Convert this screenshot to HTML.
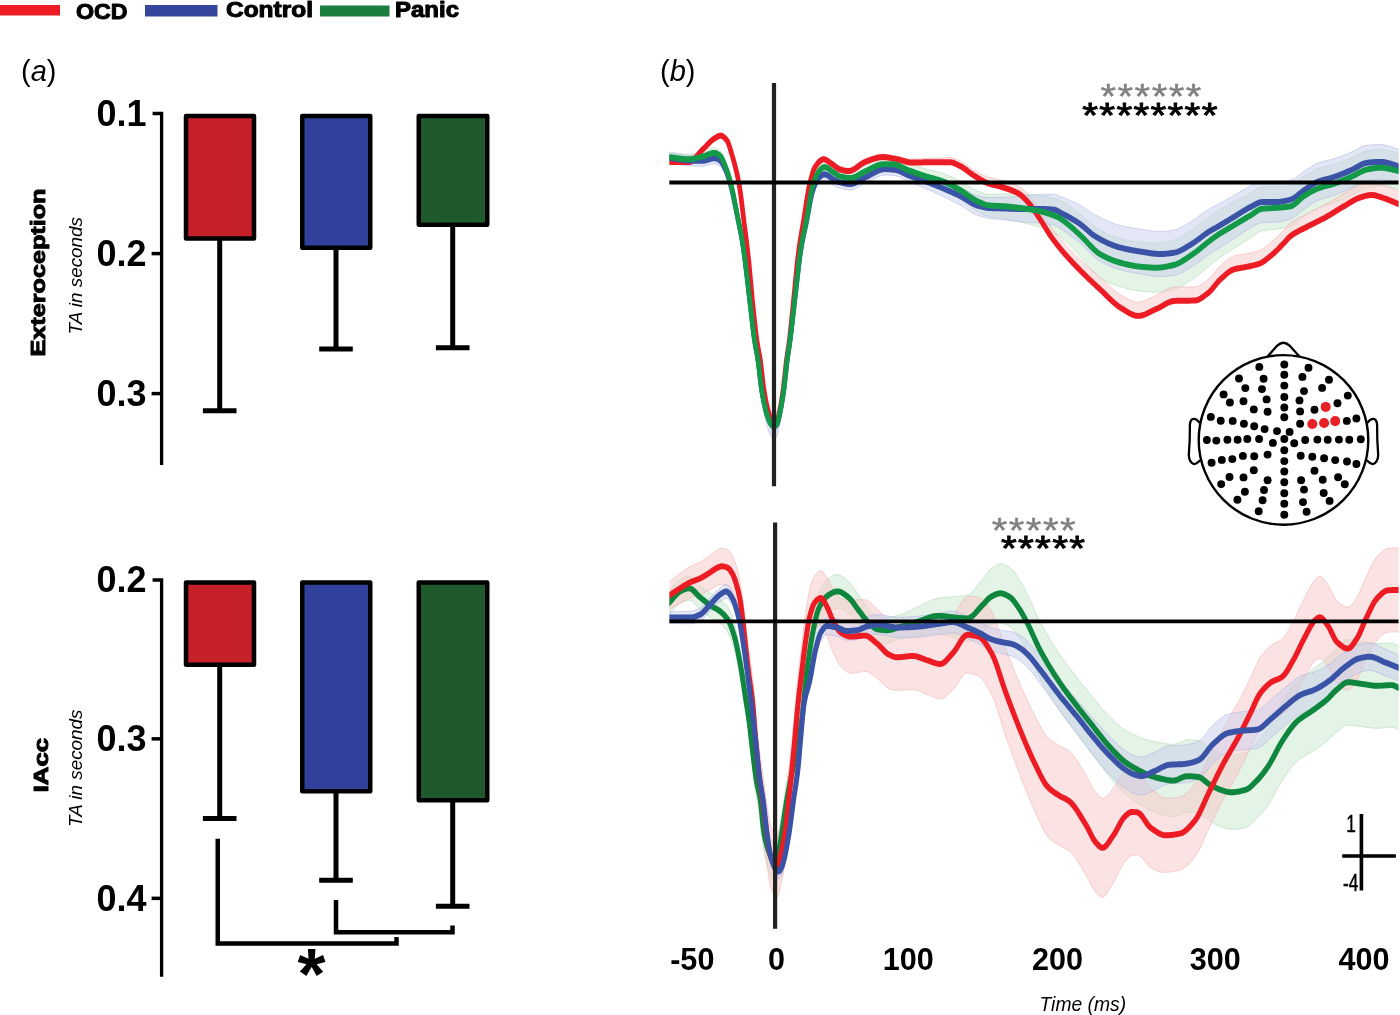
<!DOCTYPE html>
<html lang="en"><head><meta charset="utf-8"><title>Figure</title>
<style>
html,body{margin:0;padding:0;background:#fff;}
body{width:1400px;height:1015px;overflow:hidden;}
svg{display:block;}
text{font-family:"Liberation Sans",Arial,Helvetica,sans-serif;fill:#000;}
.hv{font-weight:700;stroke:#000;stroke-width:1.0px;stroke-linejoin:round;paint-order:stroke;}
.b{font-weight:700;}
.i{font-style:italic;}
</style></head><body>
<svg width="1400" height="1015" viewBox="0 0 1400 1015">
<rect width="1400" height="1015" fill="#fff"/>
<defs><clipPath id="cp"><rect x="669.4" y="0" width="729.2" height="1015"/></clipPath></defs>

<g id="legend">
<rect x="0" y="5" width="60" height="10.5" fill="#ed1c24"/>
<rect x="145" y="5" width="72.5" height="11.5" fill="#35469c"/>
<rect x="320" y="5.5" width="69.5" height="11" fill="#1a7f3e"/>
<text class="hv" x="76" y="19.2" font-size="22.8" textLength="51.5" lengthAdjust="spacingAndGlyphs">OCD</text>
<text class="hv" x="226" y="17.2" font-size="21.8" textLength="87" lengthAdjust="spacingAndGlyphs">Control</text>
<text class="hv" x="395" y="17.2" font-size="21.8" textLength="64" lengthAdjust="spacingAndGlyphs">Panic</text>
</g>
<text x="21" y="80.7" font-size="29">(<tspan class="i">a</tspan>)</text>
<text x="660" y="80.7" font-size="29">(<tspan class="i">b</tspan>)</text>
<g id="barTop">
<path d="M152.6,113.5 H161.6 V465" fill="none" stroke="#000" stroke-width="3.3"/>
<path d="M151.6,253.6 H161.6" stroke="#000" stroke-width="3.5"/>
<path d="M151.6,393.6 H161.6" stroke="#000" stroke-width="3.5"/>
<text class="b" x="146.6" y="125.9" font-size="37.5" text-anchor="end" textLength="50" lengthAdjust="spacingAndGlyphs">0.1</text>
<text class="b" x="146.6" y="265.9" font-size="37.5" text-anchor="end" textLength="50" lengthAdjust="spacingAndGlyphs">0.2</text>
<text class="b" x="146.6" y="405.9" font-size="37.5" text-anchor="end" textLength="50" lengthAdjust="spacingAndGlyphs">0.3</text>
<path d="M219.7,238.75 V410.75 M202.89999999999998,410.75 H236.5" stroke="#000" stroke-width="5" fill="none"/>
<rect x="186.0" y="115.95" width="68.0" height="122.55" fill="#c62028" stroke="#000" stroke-width="4.5" stroke-linejoin="round"/>
<path d="M336,248 V349 M319.2,349 H352.8" stroke="#000" stroke-width="5" fill="none"/>
<rect x="302.25" y="115.95" width="68.0" height="131.8" fill="#31409b" stroke="#000" stroke-width="4.5" stroke-linejoin="round"/>
<path d="M452.7,225 V347.75 M435.9,347.75 H469.5" stroke="#000" stroke-width="5" fill="none"/>
<rect x="418.75" y="115.95" width="68.5" height="108.8" fill="#1e5a2e" stroke="#000" stroke-width="4.5" stroke-linejoin="round"/>
</g>
<g id="barBot">
<path d="M152.6,580 H161.6 V976.75" fill="none" stroke="#000" stroke-width="3.3"/>
<path d="M151.6,738.85 H161.6" stroke="#000" stroke-width="3.5"/>
<path d="M151.6,898.35 H161.6" stroke="#000" stroke-width="3.5"/>
<text class="b" x="146.6" y="592.4" font-size="37.5" text-anchor="end" textLength="50" lengthAdjust="spacingAndGlyphs">0.2</text>
<text class="b" x="146.6" y="751.15" font-size="37.5" text-anchor="end" textLength="50" lengthAdjust="spacingAndGlyphs">0.3</text>
<text class="b" x="146.6" y="910.65" font-size="37.5" text-anchor="end" textLength="50" lengthAdjust="spacingAndGlyphs">0.4</text>
<path d="M219.7,665 V818.5 M202.89999999999998,818.5 H236.5" stroke="#000" stroke-width="5" fill="none"/>
<rect x="186.0" y="582.45" width="68.0" height="82.29999999999995" fill="#c62028" stroke="#000" stroke-width="4.5" stroke-linejoin="round"/>
<path d="M336,791.5 V880.25 M319.2,880.25 H352.8" stroke="#000" stroke-width="5" fill="none"/>
<rect x="302.25" y="582.45" width="68.0" height="208.79999999999995" fill="#31409b" stroke="#000" stroke-width="4.5" stroke-linejoin="round"/>
<path d="M452.7,800.5 V906.25 M435.9,906.25 H469.5" stroke="#000" stroke-width="5" fill="none"/>
<rect x="418.75" y="582.45" width="68.5" height="217.79999999999995" fill="#1e5a2e" stroke="#000" stroke-width="4.5" stroke-linejoin="round"/>
<path d="M217.75,838.75 V943.5 H396.5 V937" fill="none" stroke="#000" stroke-width="4.5"/>
<path d="M336,900 V932.25 H452.5 V925.5" fill="none" stroke="#000" stroke-width="4.5"/>
<text class="b" x="311.5" y="999" font-size="72" text-anchor="middle">*</text>
</g>
<text class="hv" transform="translate(45,356.5) rotate(-90)" font-size="20.5" textLength="168" lengthAdjust="spacingAndGlyphs">Exteroception</text>
<text class="i" transform="translate(81.5,334.5) rotate(-90)" font-size="18" textLength="117.5" lengthAdjust="spacingAndGlyphs">TA in seconds</text>
<text class="hv" transform="translate(47.5,792.3) rotate(-90)" font-size="20.5" textLength="54.5" lengthAdjust="spacingAndGlyphs">IAcc</text>
<text class="i" transform="translate(81.5,827) rotate(-90)" font-size="18" textLength="117.5" lengthAdjust="spacingAndGlyphs">TA in seconds</text>
<g id="erpTop">
<g clip-path="url(#cp)">
<path d="M665.5,151.6 667.5,151.9 669.5,152.1 671.5,152.3 673.5,152.6 675.5,152.9 677.5,153.2 679.5,153.5 681.5,153.8 683.5,154.0 685.5,154.1 687.5,154.2 689.5,154.2 691.5,154.0 693.5,153.7 695.5,153.2 697.5,152.7 699.5,152.2 701.5,151.6 703.5,151.1 705.5,150.4 707.5,149.6 709.5,148.8 711.5,148.1 713.5,147.7 715.5,147.9 717.5,148.7 719.5,150.1 721.5,152.3 723.5,156.4 725.5,161.4 727.5,166.8 729.5,173.3 731.5,180.8 733.5,190.0 735.5,200.6 737.5,211.0 739.5,220.8 741.5,231.2 743.5,243.6 745.5,258.9 747.5,275.7 749.5,292.8 751.5,309.9 753.5,327.2 755.5,340.7 757.5,351.5 759.5,366.7 761.5,383.5 763.5,394.8 765.5,403.8 767.5,410.7 769.5,416.0 771.5,419.1 773.5,420.8 775.5,420.2 777.5,417.5 779.5,409.3 781.5,399.2 783.5,386.7 785.5,369.6 787.5,352.2 789.5,338.8 791.5,323.1 793.5,305.4 795.5,287.9 797.5,269.7 799.5,252.5 801.5,238.8 803.5,228.4 805.5,219.0 807.5,208.5 809.5,196.3 811.5,185.2 813.5,177.7 815.5,171.8 817.5,167.7 819.5,165.1 821.5,162.9 823.5,161.6 825.5,161.5 827.5,162.3 829.5,163.7 831.5,165.2 833.5,166.7 835.5,168.0 837.5,169.3 839.5,170.4 841.5,171.0 843.5,171.4 845.5,171.8 847.5,172.1 849.5,172.2 851.5,172.1 853.5,171.7 855.5,170.9 857.5,169.8 859.5,168.7 861.5,167.5 863.5,166.3 865.5,165.3 867.5,164.4 869.5,163.4 871.5,162.4 873.5,161.3 875.5,160.3 877.5,159.5 879.5,158.9 881.5,158.5 883.5,158.4 885.5,158.4 887.5,158.4 889.5,158.3 891.5,158.3 893.5,158.3 895.5,158.6 897.5,159.2 899.5,160.0 901.5,160.8 903.5,161.8 905.5,162.7 907.5,163.5 909.5,164.2 911.5,164.8 913.5,165.4 915.5,166.0 917.5,166.6 919.5,167.2 921.5,167.8 923.5,168.4 925.5,169.0 927.5,169.5 929.5,170.0 931.5,170.4 933.5,170.8 935.5,171.3 937.5,171.8 939.5,172.3 941.5,172.8 943.5,173.5 945.5,174.2 947.5,175.0 949.5,175.8 951.5,176.7 953.5,177.7 955.5,178.7 957.5,179.7 959.5,180.7 961.5,181.8 963.5,182.9 965.5,184.2 967.5,185.5 969.5,186.8 971.5,188.0 973.5,189.1 975.5,190.1 977.5,191.0 979.5,191.7 981.5,192.5 983.5,193.2 985.5,193.7 987.5,194.1 989.5,194.2 991.5,194.2 993.5,194.2 995.5,194.2 997.5,194.1 999.5,194.1 1001.5,194.0 1003.5,193.9 1005.5,193.8 1007.5,193.8 1009.5,193.8 1011.5,193.8 1013.5,193.8 1015.5,193.9 1017.5,193.9 1019.5,194.0 1021.5,194.0 1023.5,194.1 1025.5,194.2 1027.5,194.2 1029.5,194.3 1031.5,194.4 1033.5,194.6 1035.5,194.7 1037.5,194.9 1039.5,195.2 1041.5,195.5 1043.5,195.8 1045.5,196.2 1047.5,196.6 1049.5,197.0 1051.5,197.5 1053.5,198.0 1055.5,198.6 1057.5,199.3 1059.5,200.2 1061.5,201.1 1063.5,202.2 1065.5,203.5 1067.5,204.8 1069.5,206.1 1071.5,207.5 1073.5,209.0 1075.5,210.5 1077.5,212.1 1079.5,213.6 1081.5,215.2 1083.5,216.9 1085.5,218.7 1087.5,220.5 1089.5,222.4 1091.5,224.2 1093.5,225.9 1095.5,227.4 1097.5,228.7 1099.5,229.8 1101.5,230.9 1103.5,232.0 1105.5,233.0 1107.5,233.9 1109.5,234.8 1111.5,235.6 1113.5,236.4 1115.5,237.1 1117.5,237.7 1119.5,238.3 1121.5,238.8 1123.5,239.3 1125.5,239.8 1127.5,240.2 1129.5,240.7 1131.5,241.1 1133.5,241.4 1135.5,241.7 1137.5,242.0 1139.5,242.2 1141.5,242.4 1143.5,242.5 1145.5,242.7 1147.5,242.8 1149.5,243.0 1151.5,243.1 1153.5,243.1 1155.5,243.1 1157.5,243.1 1159.5,243.0 1161.5,242.8 1163.5,242.5 1165.5,242.1 1167.5,241.7 1169.5,241.3 1171.5,240.8 1173.5,240.2 1175.5,239.7 1177.5,238.9 1179.5,237.9 1181.5,236.8 1183.5,235.6 1185.5,234.2 1187.5,232.9 1189.5,231.5 1191.5,230.2 1193.5,228.7 1195.5,227.2 1197.5,225.7 1199.5,224.1 1201.5,222.5 1203.5,221.0 1205.5,219.4 1207.5,217.9 1209.5,216.5 1211.5,215.0 1213.5,213.6 1215.5,212.3 1217.5,211.0 1219.5,209.8 1221.5,208.7 1223.5,207.6 1225.5,206.5 1227.5,205.4 1229.5,204.3 1231.5,203.3 1233.5,202.2 1235.5,201.1 1237.5,200.0 1239.5,198.9 1241.5,197.8 1243.5,196.7 1245.5,195.6 1247.5,194.5 1249.5,193.4 1251.5,192.3 1253.5,191.0 1255.5,189.7 1257.5,188.5 1259.5,187.5 1261.5,187.0 1263.5,186.8 1265.5,186.7 1267.5,186.7 1269.5,186.7 1271.5,186.7 1273.5,186.7 1275.5,186.7 1277.5,186.6 1279.5,186.6 1281.5,186.5 1283.5,186.4 1285.5,186.3 1287.5,186.2 1289.5,186.0 1291.5,185.6 1293.5,184.7 1295.5,183.3 1297.5,181.6 1299.5,179.8 1301.5,178.1 1303.5,176.5 1305.5,175.3 1307.5,174.1 1309.5,172.9 1311.5,171.8 1313.5,170.7 1315.5,169.8 1317.5,169.0 1319.5,168.3 1321.5,167.7 1323.5,167.1 1325.5,166.6 1327.5,166.2 1329.5,165.7 1331.5,165.1 1333.5,164.5 1335.5,163.9 1337.5,163.2 1339.5,162.5 1341.5,161.7 1343.5,161.0 1345.5,160.2 1347.5,159.4 1349.5,158.6 1351.5,157.7 1353.5,156.8 1355.5,155.8 1357.5,154.8 1359.5,153.7 1361.5,152.8 1363.5,151.9 1365.5,151.2 1367.5,150.8 1369.5,150.4 1371.5,150.1 1373.5,149.8 1375.5,149.6 1377.5,149.4 1379.5,149.3 1381.5,149.4 1383.5,149.5 1385.5,149.8 1387.5,150.2 1389.5,150.7 1391.5,151.3 1393.5,151.8 1395.5,152.4 1397.5,152.9 1399.5,153.3 1401.5,153.7 1402.5,153.9 1402.5,189.9 1401.5,189.7 1399.5,189.3 1397.5,188.9 1395.5,188.5 1393.5,188.0 1391.5,187.6 1389.5,187.1 1387.5,186.7 1385.5,186.4 1383.5,186.2 1381.5,186.1 1379.5,186.1 1377.5,186.3 1375.5,186.5 1373.5,186.8 1371.5,187.2 1369.5,187.6 1367.5,188.0 1365.5,188.6 1363.5,189.4 1361.5,190.3 1359.5,191.3 1357.5,192.4 1355.5,193.6 1353.5,194.7 1351.5,195.7 1349.5,196.6 1347.5,197.4 1345.5,198.3 1343.5,199.2 1341.5,200.0 1339.5,200.9 1337.5,201.7 1335.5,202.5 1333.5,203.2 1331.5,203.9 1329.5,204.5 1327.5,205.0 1325.5,205.6 1323.5,206.2 1321.5,206.8 1319.5,207.5 1317.5,208.3 1315.5,209.2 1313.5,210.2 1311.5,211.3 1309.5,212.5 1307.5,213.8 1305.5,215.1 1303.5,216.4 1301.5,218.0 1299.5,219.9 1297.5,221.9 1295.5,223.7 1293.5,225.3 1291.5,226.4 1289.5,227.0 1287.5,227.4 1285.5,227.8 1283.5,228.1 1281.5,228.4 1279.5,228.6 1277.5,228.9 1275.5,229.1 1273.5,229.4 1271.5,229.6 1269.5,229.8 1267.5,230.0 1265.5,230.2 1263.5,230.5 1261.5,230.8 1259.5,231.6 1257.5,232.7 1255.5,234.2 1253.5,235.7 1251.5,237.2 1249.5,238.5 1247.5,239.8 1245.5,241.0 1243.5,242.3 1241.5,243.6 1239.5,244.9 1237.5,246.2 1235.5,247.5 1233.5,248.8 1231.5,250.1 1229.5,251.4 1227.5,252.6 1225.5,253.9 1223.5,255.2 1221.5,256.5 1219.5,257.9 1217.5,259.3 1215.5,260.7 1213.5,262.3 1211.5,263.9 1209.5,265.5 1207.5,267.2 1205.5,268.9 1203.5,270.6 1201.5,272.4 1199.5,274.1 1197.5,275.6 1195.5,277.2 1193.5,278.6 1191.5,280.0 1189.5,281.3 1187.5,282.6 1185.5,283.9 1183.5,285.2 1181.5,286.4 1179.5,287.5 1177.5,288.5 1175.5,289.2 1173.5,289.7 1171.5,290.2 1169.5,290.7 1167.5,291.1 1165.5,291.5 1163.5,291.8 1161.5,292.0 1159.5,292.2 1157.5,292.3 1155.5,292.2 1153.5,292.2 1151.5,292.1 1149.5,292.0 1147.5,291.8 1145.5,291.6 1143.5,291.4 1141.5,291.2 1139.5,291.0 1137.5,290.7 1135.5,290.4 1133.5,290.1 1131.5,289.7 1129.5,289.3 1127.5,288.8 1125.5,288.3 1123.5,287.8 1121.5,287.2 1119.5,286.7 1117.5,286.1 1115.5,285.4 1113.5,284.7 1111.5,283.9 1109.5,283.0 1107.5,282.1 1105.5,281.1 1103.5,280.1 1101.5,279.0 1099.5,277.7 1097.5,276.0 1095.5,274.0 1093.5,271.9 1091.5,269.6 1089.5,267.2 1087.5,264.8 1085.5,262.4 1083.5,260.0 1081.5,257.6 1079.5,255.5 1077.5,253.3 1075.5,251.2 1073.5,249.0 1071.5,247.0 1069.5,245.0 1067.5,243.0 1065.5,241.1 1063.5,239.3 1061.5,237.6 1059.5,236.1 1057.5,234.8 1055.5,233.7 1053.5,232.7 1051.5,231.8 1049.5,230.9 1047.5,230.1 1045.5,229.3 1043.5,228.5 1041.5,227.8 1039.5,227.1 1037.5,226.4 1035.5,225.8 1033.5,225.3 1031.5,224.7 1029.5,224.2 1027.5,223.7 1025.5,223.3 1023.5,222.8 1021.5,222.3 1019.5,221.9 1017.5,221.4 1015.5,221.0 1013.5,220.5 1011.5,220.1 1009.5,219.7 1007.5,219.3 1005.5,218.9 1003.5,218.6 1001.5,218.3 999.5,218.0 997.5,217.7 995.5,217.5 993.5,217.3 991.5,217.0 989.5,216.7 987.5,216.2 985.5,215.5 983.5,214.7 981.5,213.7 979.5,212.7 977.5,211.6 975.5,210.5 973.5,209.2 971.5,207.7 969.5,206.2 967.5,204.6 965.5,203.0 963.5,201.5 961.5,200.0 959.5,198.7 957.5,197.5 955.5,196.2 953.5,195.0 951.5,193.9 949.5,192.8 947.5,191.7 945.5,190.7 943.5,189.8 941.5,189.0 939.5,188.2 937.5,187.5 935.5,186.8 933.5,186.2 931.5,185.6 929.5,184.9 927.5,184.2 925.5,183.5 923.5,182.8 921.5,182.0 919.5,181.2 917.5,180.4 915.5,179.6 913.5,178.8 911.5,177.9 909.5,177.1 907.5,176.2 905.5,175.2 903.5,174.1 901.5,173.0 899.5,172.0 897.5,171.1 895.5,170.6 893.5,170.3 891.5,170.3 889.5,170.3 887.5,170.2 885.5,170.2 883.5,170.2 881.5,170.3 879.5,170.7 877.5,171.3 875.5,172.1 873.5,173.1 871.5,174.1 869.5,175.1 867.5,176.1 865.5,177.0 863.5,178.0 861.5,179.1 859.5,180.3 857.5,181.5 855.5,182.5 853.5,183.3 851.5,183.7 849.5,183.8 847.5,183.6 845.5,183.3 843.5,182.9 841.5,182.4 839.5,181.9 837.5,180.8 835.5,179.4 833.5,178.1 831.5,176.6 829.5,175.0 827.5,173.7 825.5,172.9 823.5,172.9 821.5,174.2 819.5,176.4 817.5,179.0 815.5,183.1 813.5,189.0 811.5,196.5 809.5,207.5 807.5,219.7 805.5,230.2 803.5,239.6 801.5,249.9 799.5,263.6 797.5,280.8 795.5,299.0 793.5,316.5 791.5,334.2 789.5,349.8 787.5,363.3 785.5,380.7 783.5,397.7 781.5,410.2 779.5,420.2 777.5,428.4 775.5,431.1 773.5,431.7 771.5,430.0 769.5,426.9 767.5,421.5 765.5,414.7 763.5,405.6 761.5,394.3 759.5,377.5 757.5,362.2 755.5,351.4 753.5,337.9 751.5,320.6 749.5,303.5 747.5,286.4 745.5,269.5 743.5,254.3 741.5,241.8 739.5,231.4 737.5,221.6 735.5,211.1 733.5,200.6 731.5,191.4 729.5,183.8 727.5,177.3 725.5,171.8 723.5,166.9 721.5,162.8 719.5,160.5 717.5,159.1 715.5,158.3 713.5,158.1 711.5,158.5 709.5,159.1 707.5,159.9 705.5,160.7 703.5,161.4 701.5,161.9 699.5,162.4 697.5,163.0 695.5,163.5 693.5,163.9 691.5,164.2 689.5,164.4 687.5,164.4 685.5,164.3 683.5,164.1 681.5,163.9 679.5,163.6 677.5,163.3 675.5,163.0 673.5,162.7 671.5,162.4 669.5,162.1 667.5,161.9 665.5,161.6Z" fill="#c8e8cd" fill-opacity="0.5" stroke="#9fd0a8" stroke-opacity="0.45" stroke-width="1"/>
<path d="M665.5,159.0 667.5,159.0 669.5,159.0 671.5,159.0 673.5,159.0 675.5,159.0 677.5,159.1 679.5,159.1 681.5,159.1 683.5,159.1 685.5,159.1 687.5,159.1 689.5,159.0 691.5,158.2 693.5,156.6 695.5,154.6 697.5,152.3 699.5,149.9 701.5,147.7 703.5,145.7 705.5,143.7 707.5,141.6 709.5,139.6 711.5,137.7 713.5,136.1 715.5,134.9 717.5,133.7 719.5,132.9 721.5,132.8 723.5,133.9 725.5,135.8 727.5,138.3 729.5,143.6 731.5,150.2 733.5,157.0 735.5,164.5 737.5,173.2 739.5,183.9 741.5,197.9 743.5,214.7 745.5,230.6 747.5,246.4 749.5,265.8 751.5,287.6 753.5,307.8 755.5,326.7 757.5,341.4 759.5,352.1 761.5,366.4 763.5,383.7 765.5,395.7 767.5,405.1 769.5,412.5 771.5,418.3 773.5,421.8 775.5,421.5 777.5,416.7 779.5,409.1 781.5,397.9 783.5,383.9 785.5,365.5 787.5,350.0 789.5,336.2 791.5,317.9 793.5,298.0 795.5,277.5 797.5,257.5 799.5,242.0 801.5,229.6 803.5,218.0 805.5,205.3 807.5,192.3 809.5,181.7 811.5,173.7 813.5,167.2 815.5,163.4 817.5,160.7 819.5,158.4 821.5,156.9 823.5,156.3 825.5,156.7 827.5,157.9 829.5,159.3 831.5,160.7 833.5,162.1 835.5,163.7 837.5,165.1 839.5,166.2 841.5,166.8 843.5,167.4 845.5,167.8 847.5,168.1 849.5,168.0 851.5,167.5 853.5,166.6 855.5,165.3 857.5,163.9 859.5,162.4 861.5,161.0 863.5,159.7 865.5,158.8 867.5,158.0 869.5,157.3 871.5,156.6 873.5,155.9 875.5,155.3 877.5,154.8 879.5,154.4 881.5,154.1 883.5,154.1 885.5,154.2 887.5,154.4 889.5,154.8 891.5,155.1 893.5,155.5 895.5,155.9 897.5,156.3 899.5,156.8 901.5,157.3 903.5,157.8 905.5,158.4 907.5,158.8 909.5,159.1 911.5,159.2 913.5,159.1 915.5,159.0 917.5,158.9 919.5,158.8 921.5,158.7 923.5,158.6 925.5,158.4 927.5,158.3 929.5,158.2 931.5,158.1 933.5,158.1 935.5,158.0 937.5,157.9 939.5,157.9 941.5,157.8 943.5,157.8 945.5,157.7 947.5,157.6 949.5,157.5 951.5,157.7 953.5,158.2 955.5,158.9 957.5,159.8 959.5,160.8 961.5,161.7 963.5,162.9 965.5,164.2 967.5,165.6 969.5,167.1 971.5,168.4 973.5,169.7 975.5,170.9 977.5,172.0 979.5,173.2 981.5,174.3 983.5,175.3 985.5,176.2 987.5,177.0 989.5,177.6 991.5,178.1 993.5,178.5 995.5,178.9 997.5,179.3 999.5,179.7 1001.5,180.2 1003.5,180.7 1005.5,181.3 1007.5,181.8 1009.5,182.4 1011.5,183.1 1013.5,183.8 1015.5,184.6 1017.5,185.5 1019.5,186.6 1021.5,188.0 1023.5,189.8 1025.5,191.7 1027.5,193.8 1029.5,196.0 1031.5,198.4 1033.5,201.1 1035.5,204.0 1037.5,206.9 1039.5,209.8 1041.5,212.8 1043.5,215.9 1045.5,219.1 1047.5,222.2 1049.5,225.1 1051.5,227.9 1053.5,230.5 1055.5,233.1 1057.5,235.5 1059.5,237.9 1061.5,240.2 1063.5,242.5 1065.5,244.7 1067.5,246.8 1069.5,248.9 1071.5,251.0 1073.5,253.0 1075.5,255.0 1077.5,256.9 1079.5,258.9 1081.5,260.8 1083.5,262.6 1085.5,264.5 1087.5,266.3 1089.5,268.1 1091.5,269.9 1093.5,271.7 1095.5,273.4 1097.5,275.1 1099.5,276.9 1101.5,278.6 1103.5,280.5 1105.5,282.4 1107.5,284.2 1109.5,286.1 1111.5,287.9 1113.5,289.6 1115.5,291.3 1117.5,292.7 1119.5,294.0 1121.5,295.2 1123.5,296.3 1125.5,297.5 1127.5,298.6 1129.5,299.7 1131.5,300.6 1133.5,301.3 1135.5,301.8 1137.5,302.0 1139.5,301.9 1141.5,301.5 1143.5,301.0 1145.5,300.2 1147.5,299.4 1149.5,298.4 1151.5,297.4 1153.5,296.4 1155.5,295.4 1157.5,294.6 1159.5,293.6 1161.5,292.5 1163.5,291.4 1165.5,290.2 1167.5,289.2 1169.5,288.3 1171.5,287.6 1173.5,287.2 1175.5,287.1 1177.5,287.0 1179.5,287.0 1181.5,287.0 1183.5,287.0 1185.5,287.0 1187.5,287.0 1189.5,287.0 1191.5,286.9 1193.5,286.9 1195.5,286.8 1197.5,286.4 1199.5,285.5 1201.5,284.3 1203.5,283.0 1205.5,281.5 1207.5,279.9 1209.5,278.3 1211.5,276.2 1213.5,273.8 1215.5,271.4 1217.5,268.9 1219.5,266.7 1221.5,264.9 1223.5,263.1 1225.5,261.3 1227.5,259.6 1229.5,258.1 1231.5,256.9 1233.5,256.1 1235.5,255.5 1237.5,255.1 1239.5,254.7 1241.5,254.4 1243.5,254.1 1245.5,253.8 1247.5,253.3 1249.5,252.9 1251.5,252.5 1253.5,252.1 1255.5,251.6 1257.5,251.0 1259.5,250.4 1261.5,249.5 1263.5,248.3 1265.5,246.9 1267.5,245.3 1269.5,243.7 1271.5,242.0 1273.5,240.3 1275.5,238.5 1277.5,236.6 1279.5,234.5 1281.5,232.5 1283.5,230.4 1285.5,228.3 1287.5,226.0 1289.5,223.9 1291.5,222.3 1293.5,221.0 1295.5,219.7 1297.5,218.6 1299.5,217.6 1301.5,216.6 1303.5,215.6 1305.5,214.6 1307.5,213.6 1309.5,212.5 1311.5,211.5 1313.5,210.5 1315.5,209.5 1317.5,208.5 1319.5,207.5 1321.5,206.5 1323.5,205.5 1325.5,204.4 1327.5,203.3 1329.5,202.1 1331.5,200.9 1333.5,199.6 1335.5,198.4 1337.5,197.1 1339.5,195.9 1341.5,194.7 1343.5,193.5 1345.5,192.4 1347.5,191.1 1349.5,189.9 1351.5,188.7 1353.5,187.6 1355.5,186.5 1357.5,185.6 1359.5,184.8 1361.5,184.1 1363.5,183.5 1365.5,182.9 1367.5,182.5 1369.5,182.1 1371.5,182.0 1373.5,182.1 1375.5,182.5 1377.5,183.1 1379.5,183.7 1381.5,184.4 1383.5,185.0 1385.5,185.7 1387.5,186.4 1389.5,187.2 1391.5,188.1 1393.5,188.9 1395.5,189.8 1397.5,190.6 1399.5,191.4 1401.5,192.2 1402.5,192.6 1402.5,205.6 1401.5,205.2 1399.5,204.4 1397.5,203.6 1395.5,202.8 1393.5,201.9 1391.5,201.1 1389.5,200.2 1387.5,199.4 1385.5,198.7 1383.5,198.0 1381.5,197.4 1379.5,196.7 1377.5,196.1 1375.5,195.5 1373.5,195.1 1371.5,195.0 1369.5,195.1 1367.5,195.5 1365.5,195.9 1363.5,196.5 1361.5,197.1 1359.5,197.8 1357.5,198.6 1355.5,199.5 1353.5,200.6 1351.5,201.7 1349.5,202.9 1347.5,204.1 1345.5,205.4 1343.5,206.5 1341.5,207.7 1339.5,208.9 1337.5,210.1 1335.5,211.4 1333.5,212.6 1331.5,213.9 1329.5,215.1 1327.5,216.3 1325.5,217.4 1323.5,218.5 1321.5,219.5 1319.5,220.5 1317.5,221.5 1315.5,222.5 1313.5,223.5 1311.5,224.5 1309.5,225.5 1307.5,226.6 1305.5,227.6 1303.5,228.6 1301.5,229.6 1299.5,230.6 1297.5,231.7 1295.5,232.8 1293.5,234.0 1291.5,235.4 1289.5,236.9 1287.5,239.0 1285.5,241.4 1283.5,243.5 1281.5,245.6 1279.5,247.7 1277.5,249.7 1275.5,251.7 1273.5,253.5 1271.5,255.2 1269.5,256.9 1267.5,258.5 1265.5,260.1 1263.5,261.5 1261.5,262.7 1259.5,263.6 1257.5,264.3 1255.5,264.9 1253.5,265.4 1251.5,265.8 1249.5,266.2 1247.5,266.7 1245.5,267.1 1243.5,267.5 1241.5,267.8 1239.5,268.1 1237.5,268.5 1235.5,268.9 1233.5,269.5 1231.5,270.3 1229.5,271.6 1227.5,273.1 1225.5,274.7 1223.5,276.6 1221.5,278.4 1219.5,280.3 1217.5,282.5 1215.5,284.9 1213.5,287.4 1211.5,289.7 1209.5,291.8 1207.5,293.5 1205.5,295.1 1203.5,296.6 1201.5,298.0 1199.5,299.1 1197.5,300.0 1195.5,300.5 1193.5,300.6 1191.5,300.6 1189.5,300.6 1187.5,300.7 1185.5,300.7 1183.5,300.7 1181.5,300.7 1179.5,300.8 1177.5,300.8 1175.5,300.9 1173.5,301.0 1171.5,301.4 1169.5,302.1 1167.5,303.0 1165.5,304.1 1163.5,305.2 1161.5,306.4 1159.5,307.5 1157.5,308.5 1155.5,309.3 1153.5,310.3 1151.5,311.3 1149.5,312.3 1147.5,313.3 1145.5,314.2 1143.5,315.0 1141.5,315.5 1139.5,315.9 1137.5,315.9 1135.5,315.6 1133.5,315.0 1131.5,314.2 1129.5,313.2 1127.5,312.0 1125.5,310.8 1123.5,309.5 1121.5,308.2 1119.5,307.0 1117.5,305.6 1115.5,304.0 1113.5,302.3 1111.5,300.5 1109.5,298.6 1107.5,296.6 1105.5,294.6 1103.5,292.7 1101.5,290.7 1099.5,288.9 1097.5,287.0 1095.5,285.1 1093.5,283.3 1091.5,281.4 1089.5,279.5 1087.5,277.6 1085.5,275.7 1083.5,273.7 1081.5,271.7 1079.5,269.7 1077.5,267.6 1075.5,265.6 1073.5,263.5 1071.5,261.4 1069.5,259.2 1067.5,257.0 1065.5,254.7 1063.5,252.4 1061.5,250.0 1059.5,247.6 1057.5,245.1 1055.5,242.5 1053.5,239.9 1051.5,237.1 1049.5,234.3 1047.5,231.2 1045.5,227.9 1043.5,224.7 1041.5,221.4 1039.5,218.3 1037.5,215.3 1035.5,212.3 1033.5,209.3 1031.5,206.5 1029.5,203.9 1027.5,201.7 1025.5,199.5 1023.5,197.5 1021.5,195.7 1019.5,194.1 1017.5,193.0 1015.5,192.0 1013.5,191.1 1011.5,190.3 1009.5,189.6 1007.5,188.9 1005.5,188.2 1003.5,187.6 1001.5,187.0 999.5,186.4 997.5,185.9 995.5,185.4 993.5,184.9 991.5,184.4 989.5,183.8 987.5,183.1 985.5,182.3 983.5,181.3 981.5,180.2 979.5,179.0 977.5,177.8 975.5,176.5 973.5,175.3 971.5,173.9 969.5,172.5 967.5,170.9 965.5,169.4 963.5,168.0 961.5,166.8 959.5,165.8 957.5,164.8 955.5,163.8 953.5,163.0 951.5,162.4 949.5,162.2 947.5,162.2 945.5,162.2 943.5,162.2 941.5,162.2 939.5,162.2 937.5,162.2 935.5,162.2 933.5,162.2 931.5,162.2 929.5,162.2 927.5,162.2 925.5,162.3 923.5,162.3 921.5,162.4 919.5,162.5 917.5,162.5 915.5,162.6 913.5,162.6 911.5,162.6 909.5,162.4 907.5,162.0 905.5,161.5 903.5,161.0 901.5,160.3 899.5,159.8 897.5,159.3 895.5,158.9 893.5,158.5 891.5,158.1 889.5,157.8 887.5,157.4 885.5,157.2 883.5,157.1 881.5,157.1 879.5,157.4 877.5,157.8 875.5,158.3 873.5,158.9 871.5,159.6 869.5,160.3 867.5,161.0 865.5,161.8 863.5,162.7 861.5,164.0 859.5,165.4 857.5,166.9 855.5,168.3 853.5,169.6 851.5,170.5 849.5,171.0 847.5,171.1 845.5,170.8 843.5,170.4 841.5,169.8 839.5,169.2 837.5,168.1 835.5,166.7 833.5,165.1 831.5,163.7 829.5,162.3 827.5,160.9 825.5,159.7 823.5,159.3 821.5,159.9 819.5,161.4 817.5,163.7 815.5,166.4 813.5,170.2 811.5,176.7 809.5,184.7 807.5,195.3 805.5,208.3 803.5,221.0 801.5,232.6 799.5,245.0 797.5,260.5 795.5,280.5 793.5,301.0 791.5,320.9 789.5,339.2 787.5,353.0 785.5,368.5 783.5,386.9 781.5,400.9 779.5,412.1 777.5,419.7 775.5,424.5 773.5,424.8 771.5,421.3 769.5,415.5 767.5,408.1 765.5,398.7 763.5,386.7 761.5,369.4 759.5,355.1 757.5,344.4 755.5,329.7 753.5,310.8 751.5,290.6 749.5,268.8 747.5,249.4 745.5,233.6 743.5,217.7 741.5,200.9 739.5,186.9 737.5,176.2 735.5,167.5 733.5,160.0 731.5,153.2 729.5,146.6 727.5,141.3 725.5,138.8 723.5,136.9 721.5,135.8 719.5,135.9 717.5,136.7 715.5,137.9 713.5,139.1 711.5,140.7 709.5,142.6 707.5,144.6 705.5,146.7 703.5,148.7 701.5,150.7 699.5,152.9 697.5,155.3 695.5,157.6 693.5,159.6 691.5,161.2 689.5,162.0 687.5,162.1 685.5,162.1 683.5,162.1 681.5,162.1 679.5,162.1 677.5,162.1 675.5,162.0 673.5,162.0 671.5,162.0 669.5,162.0 667.5,162.0 665.5,162.0Z" fill="#fac8c8" fill-opacity="0.5" stroke="#f2a0a0" stroke-opacity="0.45" stroke-width="1"/>
<path d="M665.5,152.5 667.5,152.7 669.5,153.0 671.5,153.2 673.5,153.5 675.5,153.8 677.5,154.1 679.5,154.4 681.5,154.7 683.5,154.9 685.5,155.1 687.5,155.2 689.5,155.2 691.5,155.3 693.5,155.3 695.5,155.3 697.5,155.3 699.5,155.3 701.5,155.3 703.5,155.3 705.5,154.9 707.5,154.3 709.5,153.6 711.5,153.0 713.5,152.6 715.5,152.7 717.5,153.4 719.5,154.5 721.5,156.3 723.5,159.6 725.5,163.8 727.5,168.8 729.5,175.2 731.5,182.5 733.5,191.2 735.5,201.0 737.5,211.0 739.5,220.5 741.5,230.3 743.5,242.2 745.5,256.9 747.5,273.4 749.5,290.2 751.5,306.9 753.5,323.8 755.5,336.9 757.5,347.3 759.5,362.1 761.5,378.5 763.5,389.4 765.5,398.0 767.5,404.4 769.5,409.3 771.5,412.1 773.5,413.6 775.5,413.1 777.5,410.6 779.5,402.8 781.5,393.1 783.5,381.0 785.5,364.4 787.5,347.4 789.5,334.3 791.5,319.0 793.5,301.6 795.5,284.8 797.5,267.5 799.5,251.4 801.5,238.4 803.5,228.6 805.5,219.8 807.5,210.3 809.5,199.4 811.5,189.4 813.5,182.5 815.5,177.1 817.5,173.4 819.5,171.2 821.5,169.5 823.5,168.4 825.5,168.4 827.5,169.3 829.5,170.7 831.5,172.2 833.5,173.6 835.5,174.6 837.5,175.5 839.5,176.2 841.5,176.7 843.5,177.1 845.5,177.5 847.5,177.8 849.5,178.0 851.5,177.9 853.5,177.5 855.5,176.7 857.5,175.7 859.5,174.5 861.5,173.3 863.5,172.2 865.5,171.2 867.5,170.3 869.5,169.2 871.5,168.1 873.5,167.0 875.5,165.9 877.5,164.9 879.5,164.1 881.5,163.5 883.5,163.2 885.5,163.1 887.5,163.2 889.5,163.3 891.5,163.4 893.5,163.6 895.5,163.9 897.5,164.4 899.5,165.1 901.5,165.9 903.5,166.8 905.5,167.8 907.5,168.6 909.5,169.3 911.5,169.9 913.5,170.5 915.5,171.1 917.5,171.7 919.5,172.2 921.5,172.8 923.5,173.4 925.5,174.1 927.5,174.7 929.5,175.4 931.5,176.1 933.5,176.7 935.5,177.5 937.5,178.2 939.5,178.9 941.5,179.6 943.5,180.4 945.5,181.1 947.5,181.9 949.5,182.7 951.5,183.4 953.5,184.2 955.5,185.1 957.5,185.9 959.5,186.8 961.5,187.7 963.5,188.8 965.5,189.9 967.5,191.1 969.5,192.2 971.5,193.3 973.5,194.3 975.5,195.1 977.5,195.6 979.5,196.1 981.5,196.6 983.5,197.0 985.5,197.3 987.5,197.5 989.5,197.5 991.5,197.5 993.5,197.5 995.5,197.5 997.5,197.4 999.5,197.4 1001.5,197.3 1003.5,197.2 1005.5,197.1 1007.5,197.0 1009.5,196.9 1011.5,196.8 1013.5,196.7 1015.5,196.6 1017.5,196.5 1019.5,196.4 1021.5,196.2 1023.5,196.0 1025.5,195.9 1027.5,195.7 1029.5,195.5 1031.5,195.3 1033.5,195.1 1035.5,194.9 1037.5,194.8 1039.5,194.6 1041.5,194.5 1043.5,194.4 1045.5,194.3 1047.5,194.2 1049.5,194.2 1051.5,194.2 1053.5,194.2 1055.5,194.4 1057.5,195.2 1059.5,196.2 1061.5,196.9 1063.5,197.6 1065.5,198.4 1067.5,199.2 1069.5,200.0 1071.5,200.9 1073.5,201.8 1075.5,202.7 1077.5,203.7 1079.5,204.7 1081.5,205.9 1083.5,207.2 1085.5,208.7 1087.5,210.1 1089.5,211.6 1091.5,212.9 1093.5,214.1 1095.5,215.1 1097.5,216.1 1099.5,217.0 1101.5,218.0 1103.5,219.1 1105.5,220.0 1107.5,220.9 1109.5,221.8 1111.5,222.6 1113.5,223.3 1115.5,224.0 1117.5,224.6 1119.5,225.2 1121.5,225.7 1123.5,226.2 1125.5,226.6 1127.5,227.0 1129.5,227.4 1131.5,227.8 1133.5,228.1 1135.5,228.5 1137.5,228.8 1139.5,229.1 1141.5,229.4 1143.5,229.6 1145.5,230.0 1147.5,230.3 1149.5,230.5 1151.5,230.8 1153.5,231.0 1155.5,231.2 1157.5,231.3 1159.5,231.4 1161.5,231.4 1163.5,231.3 1165.5,231.1 1167.5,230.9 1169.5,230.7 1171.5,230.4 1173.5,230.0 1175.5,229.7 1177.5,229.1 1179.5,228.2 1181.5,227.2 1183.5,226.1 1185.5,224.9 1187.5,223.7 1189.5,222.4 1191.5,221.2 1193.5,219.9 1195.5,218.5 1197.5,217.1 1199.5,215.6 1201.5,214.1 1203.5,212.7 1205.5,211.3 1207.5,209.9 1209.5,208.7 1211.5,207.5 1213.5,206.5 1215.5,205.5 1217.5,204.5 1219.5,203.4 1221.5,202.3 1223.5,201.2 1225.5,200.1 1227.5,198.9 1229.5,197.8 1231.5,196.7 1233.5,195.5 1235.5,194.4 1237.5,193.2 1239.5,192.0 1241.5,190.8 1243.5,189.7 1245.5,188.5 1247.5,187.5 1249.5,186.5 1251.5,185.5 1253.5,184.5 1255.5,183.4 1257.5,182.5 1259.5,181.9 1261.5,181.6 1263.5,181.6 1265.5,181.7 1267.5,181.8 1269.5,181.9 1271.5,182.0 1273.5,182.0 1275.5,182.1 1277.5,182.1 1279.5,182.0 1281.5,181.9 1283.5,181.6 1285.5,181.3 1287.5,180.9 1289.5,180.4 1291.5,179.9 1293.5,179.0 1295.5,177.8 1297.5,176.3 1299.5,174.7 1301.5,173.2 1303.5,171.7 1305.5,170.4 1307.5,169.1 1309.5,167.7 1311.5,166.4 1313.5,165.2 1315.5,164.1 1317.5,163.3 1319.5,162.6 1321.5,161.9 1323.5,161.4 1325.5,160.9 1327.5,160.4 1329.5,159.9 1331.5,159.4 1333.5,158.8 1335.5,158.2 1337.5,157.5 1339.5,156.8 1341.5,156.0 1343.5,155.3 1345.5,154.5 1347.5,153.7 1349.5,152.9 1351.5,152.0 1353.5,151.1 1355.5,150.0 1357.5,148.9 1359.5,147.8 1361.5,146.8 1363.5,146.0 1365.5,145.4 1367.5,145.1 1369.5,144.9 1371.5,144.8 1373.5,144.7 1375.5,144.6 1377.5,144.5 1379.5,144.5 1381.5,144.6 1383.5,144.8 1385.5,145.1 1387.5,145.6 1389.5,146.2 1391.5,146.9 1393.5,147.6 1395.5,148.2 1397.5,148.8 1399.5,149.3 1401.5,149.8 1402.5,150.1 1402.5,184.1 1401.5,183.8 1399.5,183.3 1397.5,182.9 1395.5,182.4 1393.5,181.8 1391.5,181.2 1389.5,180.6 1387.5,180.1 1385.5,179.7 1383.5,179.4 1381.5,179.3 1379.5,179.3 1377.5,179.4 1375.5,179.5 1373.5,179.7 1371.5,179.9 1369.5,180.1 1367.5,180.3 1365.5,180.7 1363.5,181.4 1361.5,182.4 1359.5,183.4 1357.5,184.6 1355.5,185.8 1353.5,186.9 1351.5,188.0 1349.5,188.9 1347.5,189.7 1345.5,190.6 1343.5,191.5 1341.5,192.3 1339.5,193.2 1337.5,194.0 1335.5,194.8 1333.5,195.5 1331.5,196.2 1329.5,196.8 1327.5,197.3 1325.5,197.9 1323.5,198.5 1321.5,199.1 1319.5,199.8 1317.5,200.6 1315.5,201.5 1313.5,202.7 1311.5,204.0 1309.5,205.3 1307.5,206.8 1305.5,208.2 1303.5,209.6 1301.5,211.1 1299.5,212.8 1297.5,214.5 1295.5,216.1 1293.5,217.5 1291.5,218.6 1289.5,219.3 1287.5,219.9 1285.5,220.4 1283.5,220.9 1281.5,221.3 1279.5,221.7 1277.5,221.9 1275.5,222.1 1273.5,222.2 1271.5,222.2 1269.5,222.3 1267.5,222.4 1265.5,222.5 1263.5,222.6 1261.5,222.7 1259.5,223.1 1257.5,223.9 1255.5,225.0 1253.5,226.2 1251.5,227.4 1249.5,228.5 1247.5,229.7 1245.5,230.9 1243.5,232.2 1241.5,233.5 1239.5,234.9 1237.5,236.2 1235.5,237.6 1233.5,238.9 1231.5,240.1 1229.5,241.4 1227.5,242.7 1225.5,244.0 1223.5,245.3 1221.5,246.6 1219.5,247.9 1217.5,249.1 1215.5,250.3 1213.5,251.4 1211.5,252.6 1209.5,253.9 1207.5,255.3 1205.5,256.8 1203.5,258.4 1201.5,260.0 1199.5,261.6 1197.5,263.0 1195.5,264.4 1193.5,265.8 1191.5,267.0 1189.5,268.2 1187.5,269.4 1185.5,270.6 1183.5,271.8 1181.5,272.9 1179.5,273.8 1177.5,274.6 1175.5,275.2 1173.5,275.5 1171.5,275.8 1169.5,276.1 1167.5,276.3 1165.5,276.4 1163.5,276.6 1161.5,276.6 1159.5,276.6 1157.5,276.5 1155.5,276.3 1153.5,276.1 1151.5,275.8 1149.5,275.5 1147.5,275.2 1145.5,274.9 1143.5,274.5 1141.5,274.2 1139.5,273.9 1137.5,273.5 1135.5,273.2 1133.5,272.8 1131.5,272.4 1129.5,272.0 1127.5,271.6 1125.5,271.1 1123.5,270.6 1121.5,270.1 1119.5,269.6 1117.5,269.0 1115.5,268.3 1113.5,267.6 1111.5,266.8 1109.5,266.0 1107.5,265.1 1105.5,264.1 1103.5,263.1 1101.5,262.0 1099.5,260.8 1097.5,259.3 1095.5,257.8 1093.5,256.2 1091.5,254.4 1089.5,252.4 1087.5,250.4 1085.5,248.3 1083.5,246.3 1081.5,244.3 1079.5,242.6 1077.5,240.9 1075.5,239.3 1073.5,237.8 1071.5,236.3 1069.5,234.9 1067.5,233.4 1065.5,232.1 1063.5,230.7 1061.5,229.4 1059.5,228.1 1057.5,226.8 1055.5,225.6 1053.5,225.1 1051.5,224.7 1049.5,224.4 1047.5,224.1 1045.5,223.9 1043.5,223.6 1041.5,223.4 1039.5,223.2 1037.5,223.0 1035.5,222.9 1033.5,222.7 1031.5,222.6 1029.5,222.4 1027.5,222.3 1025.5,222.1 1023.5,221.9 1021.5,221.8 1019.5,221.6 1017.5,221.4 1015.5,221.2 1013.5,221.0 1011.5,220.7 1009.5,220.5 1007.5,220.2 1005.5,220.0 1003.5,219.8 1001.5,219.5 999.5,219.3 997.5,219.2 995.5,219.0 993.5,218.9 991.5,218.7 989.5,218.5 987.5,218.2 985.5,217.8 983.5,217.3 981.5,216.7 979.5,216.1 977.5,215.4 975.5,214.6 973.5,213.6 971.5,212.5 969.5,211.2 967.5,209.8 965.5,208.5 963.5,207.1 961.5,205.9 959.5,204.7 957.5,203.7 955.5,202.6 953.5,201.6 951.5,200.6 949.5,199.6 947.5,198.6 945.5,197.7 943.5,196.7 941.5,195.8 939.5,194.8 937.5,193.9 935.5,193.0 933.5,192.1 931.5,191.2 929.5,190.3 927.5,189.5 925.5,188.6 923.5,187.8 921.5,187.0 919.5,186.2 917.5,185.4 915.5,184.6 913.5,183.8 911.5,183.0 909.5,182.2 907.5,181.3 905.5,180.3 903.5,179.2 901.5,178.1 899.5,177.1 897.5,176.4 895.5,175.9 893.5,175.6 891.5,175.4 889.5,175.3 887.5,175.2 885.5,175.1 883.5,175.2 881.5,175.5 879.5,176.1 877.5,176.9 875.5,177.9 873.5,179.0 871.5,180.1 869.5,181.2 867.5,182.3 865.5,183.2 863.5,184.2 861.5,185.3 859.5,186.5 857.5,187.7 855.5,188.7 853.5,189.5 851.5,189.9 849.5,190.0 847.5,189.8 845.5,189.5 843.5,189.1 841.5,188.7 839.5,188.2 837.5,187.5 835.5,186.6 833.5,185.6 831.5,184.2 829.5,182.7 827.5,181.3 825.5,180.4 823.5,180.4 821.5,181.5 819.5,183.2 817.5,185.4 815.5,189.1 813.5,194.5 811.5,201.4 809.5,211.6 807.5,223.3 805.5,233.6 803.5,243.1 801.5,253.7 799.5,267.4 797.5,284.4 795.5,302.4 793.5,320.1 791.5,338.2 789.5,354.3 787.5,368.1 785.5,385.9 783.5,403.3 781.5,416.2 779.5,426.7 777.5,435.2 775.5,438.5 773.5,439.4 771.5,437.1 769.5,433.4 767.5,427.8 765.5,420.5 763.5,411.1 761.5,399.4 759.5,382.1 757.5,366.5 755.5,355.2 753.5,341.3 751.5,323.6 749.5,306.1 747.5,288.5 745.5,271.2 743.5,255.6 741.5,242.9 739.5,232.4 737.5,222.9 735.5,212.9 733.5,203.0 731.5,194.3 729.5,186.9 727.5,180.4 725.5,175.4 723.5,171.1 721.5,167.8 719.5,165.9 717.5,164.7 715.5,164.0 713.5,163.9 711.5,164.2 709.5,164.8 707.5,165.4 705.5,166.0 703.5,166.3 701.5,166.3 699.5,166.2 697.5,166.1 695.5,166.1 693.5,166.0 691.5,165.9 689.5,165.8 687.5,165.7 685.5,165.5 683.5,165.3 681.5,165.0 679.5,164.7 677.5,164.4 675.5,164.0 673.5,163.7 671.5,163.3 669.5,163.0 667.5,162.7 665.5,162.5Z" fill="#c8cdeb" fill-opacity="0.5" stroke="#a3abe0" stroke-opacity="0.45" stroke-width="1"/>
<path transform="scale(1,1.255)" d="M665.5,129.07 666.5,129.07 667.5,129.08 668.5,129.08 669.5,129.08 670.5,129.09 671.5,129.09 672.5,129.10 673.5,129.10 674.5,129.11 675.5,129.11 676.5,129.12 677.5,129.13 678.5,129.13 679.5,129.14 680.5,129.14 681.5,129.15 682.5,129.15 683.5,129.15 684.5,129.16 685.5,129.16 686.5,129.16 687.5,129.16 688.5,129.16 689.5,129.09 690.5,128.83 691.5,128.42 692.5,127.87 693.5,127.20 694.5,126.43 695.5,125.59 696.5,124.69 697.5,123.76 698.5,122.81 699.5,121.86 700.5,120.94 701.5,120.07 702.5,119.26 703.5,118.52 704.5,117.73 705.5,116.92 706.5,116.09 707.5,115.25 708.5,114.41 709.5,113.60 710.5,112.83 711.5,112.10 712.5,111.44 713.5,110.85 714.5,110.34 715.5,109.85 716.5,109.36 717.5,108.91 718.5,108.52 719.5,108.25 720.5,108.13 721.5,108.21 722.5,108.53 723.5,109.05 724.5,109.74 725.5,110.58 726.5,111.51 727.5,112.60 728.5,114.39 729.5,116.78 730.5,119.44 731.5,122.09 732.5,124.71 733.5,127.45 734.5,130.36 735.5,133.45 736.5,136.77 737.5,140.36 738.5,144.39 739.5,148.93 740.5,154.07 741.5,160.12 742.5,166.73 743.5,173.49 744.5,179.98 745.5,186.11 746.5,192.23 747.5,198.73 748.5,206.00 749.5,214.18 750.5,222.86 751.5,231.57 752.5,239.88 753.5,247.66 754.5,255.38 755.5,262.70 756.5,269.19 757.5,274.46 758.5,278.78 759.5,282.99 760.5,287.96 761.5,294.37 762.5,301.48 763.5,308.15 764.5,313.34 765.5,317.71 766.5,321.67 767.5,325.21 768.5,328.35 769.5,331.09 770.5,333.58 771.5,335.72 772.5,337.29 773.5,338.47 774.5,339.04 775.5,338.23 776.5,336.43 777.5,334.42 778.5,331.76 779.5,328.39 780.5,324.24 781.5,319.44 782.5,314.16 783.5,308.28 784.5,301.15 785.5,293.66 786.5,286.85 787.5,281.27 788.5,276.09 789.5,270.28 790.5,263.36 791.5,255.71 792.5,247.73 793.5,239.82 794.5,231.84 795.5,223.49 796.5,215.24 797.5,207.55 798.5,200.91 799.5,195.23 800.5,190.12 801.5,185.37 802.5,180.77 803.5,176.11 804.5,171.18 805.5,165.96 806.5,160.69 807.5,155.64 808.5,151.05 809.5,147.19 810.5,143.92 811.5,140.82 812.5,138.03 813.5,135.66 814.5,133.82 815.5,132.57 816.5,131.44 817.5,130.40 818.5,129.45 819.5,128.62 820.5,127.93 821.5,127.41 822.5,127.07 823.5,126.93 824.5,127.01 825.5,127.27 826.5,127.67 827.5,128.17 828.5,128.74 829.5,129.32 830.5,129.89 831.5,130.41 832.5,130.94 833.5,131.54 834.5,132.16 835.5,132.80 836.5,133.41 837.5,133.98 838.5,134.46 839.5,134.84 840.5,135.10 841.5,135.34 842.5,135.56 843.5,135.77 844.5,135.95 845.5,136.11 846.5,136.23 847.5,136.30 848.5,136.33 849.5,136.29 850.5,136.13 851.5,135.88 852.5,135.54 853.5,135.13 854.5,134.66 855.5,134.14 856.5,133.58 857.5,133.00 858.5,132.40 859.5,131.81 860.5,131.22 861.5,130.66 862.5,130.14 863.5,129.66 864.5,129.25 865.5,128.90 866.5,128.61 867.5,128.32 868.5,128.02 869.5,127.73 870.5,127.43 871.5,127.14 872.5,126.87 873.5,126.60 874.5,126.35 875.5,126.11 876.5,125.90 877.5,125.70 878.5,125.54 879.5,125.40 880.5,125.29 881.5,125.22 882.5,125.18 883.5,125.18 884.5,125.22 885.5,125.27 886.5,125.35 887.5,125.45 888.5,125.57 889.5,125.70 890.5,125.84 891.5,125.99 892.5,126.15 893.5,126.30 894.5,126.46 895.5,126.61 896.5,126.76 897.5,126.91 898.5,127.10 899.5,127.30 900.5,127.53 901.5,127.76 902.5,128.00 903.5,128.25 904.5,128.49 905.5,128.71 906.5,128.93 907.5,129.12 908.5,129.28 909.5,129.41 910.5,129.51 911.5,129.56 912.5,129.56 913.5,129.56 914.5,129.55 915.5,129.53 916.5,129.52 917.5,129.50 918.5,129.47 919.5,129.45 920.5,129.43 921.5,129.40 922.5,129.38 923.5,129.35 924.5,129.33 925.5,129.31 926.5,129.29 927.5,129.27 928.5,129.26 929.5,129.25 930.5,129.24 931.5,129.24 932.5,129.24 933.5,129.24 934.5,129.24 935.5,129.24 936.5,129.24 937.5,129.24 938.5,129.24 939.5,129.24 940.5,129.24 941.5,129.24 942.5,129.24 943.5,129.24 944.5,129.24 945.5,129.24 946.5,129.24 947.5,129.24 948.5,129.24 949.5,129.24 950.5,129.27 951.5,129.39 952.5,129.58 953.5,129.84 954.5,130.15 955.5,130.50 956.5,130.88 957.5,131.28 958.5,131.68 959.5,132.08 960.5,132.47 961.5,132.90 962.5,133.37 963.5,133.89 964.5,134.44 965.5,135.02 966.5,135.61 967.5,136.21 968.5,136.82 969.5,137.42 970.5,138.02 971.5,138.59 972.5,139.14 973.5,139.66 974.5,140.16 975.5,140.66 976.5,141.16 977.5,141.67 978.5,142.16 979.5,142.66 980.5,143.14 981.5,143.60 982.5,144.05 983.5,144.48 984.5,144.89 985.5,145.27 986.5,145.61 987.5,145.93 988.5,146.21 989.5,146.47 990.5,146.72 991.5,146.94 992.5,147.16 993.5,147.36 994.5,147.56 995.5,147.75 996.5,147.95 997.5,148.14 998.5,148.33 999.5,148.54 1000.5,148.75 1001.5,148.98 1002.5,149.22 1003.5,149.48 1004.5,149.73 1005.5,149.99 1006.5,150.24 1007.5,150.50 1008.5,150.76 1009.5,151.04 1010.5,151.32 1011.5,151.61 1012.5,151.92 1013.5,152.25 1014.5,152.59 1015.5,152.95 1016.5,153.34 1017.5,153.75 1018.5,154.19 1019.5,154.70 1020.5,155.27 1021.5,155.91 1022.5,156.61 1023.5,157.36 1024.5,158.15 1025.5,158.98 1026.5,159.83 1027.5,160.70 1028.5,161.58 1029.5,162.50 1030.5,163.49 1031.5,164.54 1032.5,165.64 1033.5,166.78 1034.5,167.95 1035.5,169.14 1036.5,170.35 1037.5,171.55 1038.5,172.75 1039.5,173.94 1040.5,175.17 1041.5,176.43 1042.5,177.71 1043.5,179.01 1044.5,180.32 1045.5,181.62 1046.5,182.92 1047.5,184.19 1048.5,185.44 1049.5,186.66 1050.5,187.83 1051.5,188.96 1052.5,190.06 1053.5,191.15 1054.5,192.21 1055.5,193.26 1056.5,194.29 1057.5,195.31 1058.5,196.31 1059.5,197.30 1060.5,198.27 1061.5,199.23 1062.5,200.18 1063.5,201.12 1064.5,202.05 1065.5,202.96 1066.5,203.87 1067.5,204.76 1068.5,205.65 1069.5,206.52 1070.5,207.39 1071.5,208.25 1072.5,209.10 1073.5,209.95 1074.5,210.78 1075.5,211.62 1076.5,212.44 1077.5,213.26 1078.5,214.08 1079.5,214.89 1080.5,215.70 1081.5,216.51 1082.5,217.30 1083.5,218.09 1084.5,218.88 1085.5,219.65 1086.5,220.43 1087.5,221.20 1088.5,221.96 1089.5,222.72 1090.5,223.47 1091.5,224.23 1092.5,224.98 1093.5,225.72 1094.5,226.47 1095.5,227.21 1096.5,227.95 1097.5,228.69 1098.5,229.42 1099.5,230.16 1100.5,230.90 1101.5,231.65 1102.5,232.41 1103.5,233.19 1104.5,233.97 1105.5,234.76 1106.5,235.55 1107.5,236.34 1108.5,237.13 1109.5,237.91 1110.5,238.67 1111.5,239.43 1112.5,240.17 1113.5,240.88 1114.5,241.58 1115.5,242.25 1116.5,242.89 1117.5,243.50 1118.5,244.08 1119.5,244.62 1120.5,245.12 1121.5,245.61 1122.5,246.11 1123.5,246.62 1124.5,247.13 1125.5,247.64 1126.5,248.14 1127.5,248.62 1128.5,249.08 1129.5,249.53 1130.5,249.94 1131.5,250.33 1132.5,250.67 1133.5,250.98 1134.5,251.23 1135.5,251.44 1136.5,251.59 1137.5,251.69 1138.5,251.71 1139.5,251.67 1140.5,251.58 1141.5,251.42 1142.5,251.22 1143.5,250.97 1144.5,250.69 1145.5,250.37 1146.5,250.02 1147.5,249.65 1148.5,249.26 1149.5,248.86 1150.5,248.45 1151.5,248.04 1152.5,247.63 1153.5,247.23 1154.5,246.84 1155.5,246.48 1156.5,246.14 1157.5,245.79 1158.5,245.41 1159.5,244.99 1160.5,244.56 1161.5,244.11 1162.5,243.66 1163.5,243.20 1164.5,242.74 1165.5,242.30 1166.5,241.87 1167.5,241.46 1168.5,241.08 1169.5,240.73 1170.5,240.43 1171.5,240.18 1172.5,239.98 1173.5,239.84 1174.5,239.76 1175.5,239.74 1176.5,239.71 1177.5,239.69 1178.5,239.67 1179.5,239.66 1180.5,239.64 1181.5,239.63 1182.5,239.63 1183.5,239.62 1184.5,239.61 1185.5,239.60 1186.5,239.59 1187.5,239.58 1188.5,239.57 1189.5,239.56 1190.5,239.55 1191.5,239.53 1192.5,239.51 1193.5,239.49 1194.5,239.46 1195.5,239.41 1196.5,239.28 1197.5,239.05 1198.5,238.74 1199.5,238.36 1200.5,237.92 1201.5,237.42 1202.5,236.88 1203.5,236.31 1204.5,235.71 1205.5,235.10 1206.5,234.49 1207.5,233.88 1208.5,233.26 1209.5,232.55 1210.5,231.74 1211.5,230.87 1212.5,229.94 1213.5,228.98 1214.5,227.99 1215.5,227.00 1216.5,226.02 1217.5,225.07 1218.5,224.16 1219.5,223.31 1220.5,222.53 1221.5,221.82 1222.5,221.09 1223.5,220.36 1224.5,219.63 1225.5,218.92 1226.5,218.23 1227.5,217.57 1228.5,216.96 1229.5,216.38 1230.5,215.87 1231.5,215.42 1232.5,215.04 1233.5,214.74 1234.5,214.50 1235.5,214.29 1236.5,214.10 1237.5,213.94 1238.5,213.78 1239.5,213.64 1240.5,213.51 1241.5,213.38 1242.5,213.25 1243.5,213.12 1244.5,212.98 1245.5,212.82 1246.5,212.65 1247.5,212.48 1248.5,212.31 1249.5,212.15 1250.5,211.98 1251.5,211.81 1252.5,211.64 1253.5,211.46 1254.5,211.27 1255.5,211.07 1256.5,210.85 1257.5,210.61 1258.5,210.35 1259.5,210.06 1260.5,209.72 1261.5,209.32 1262.5,208.87 1263.5,208.36 1264.5,207.82 1265.5,207.24 1266.5,206.62 1267.5,205.99 1268.5,205.34 1269.5,204.68 1270.5,204.01 1271.5,203.34 1272.5,202.68 1273.5,202.00 1274.5,201.28 1275.5,200.53 1276.5,199.77 1277.5,198.98 1278.5,198.17 1279.5,197.35 1280.5,196.52 1281.5,195.68 1282.5,194.84 1283.5,194.00 1284.5,193.16 1285.5,192.32 1286.5,191.41 1287.5,190.47 1288.5,189.58 1289.5,188.78 1290.5,188.14 1291.5,187.55 1292.5,186.99 1293.5,186.46 1294.5,185.96 1295.5,185.48 1296.5,185.02 1297.5,184.59 1298.5,184.16 1299.5,183.75 1300.5,183.35 1301.5,182.96 1302.5,182.57 1303.5,182.18 1304.5,181.79 1305.5,181.39 1306.5,180.98 1307.5,180.56 1308.5,180.14 1309.5,179.72 1310.5,179.31 1311.5,178.90 1312.5,178.50 1313.5,178.11 1314.5,177.71 1315.5,177.32 1316.5,176.92 1317.5,176.53 1318.5,176.13 1319.5,175.73 1320.5,175.33 1321.5,174.92 1322.5,174.51 1323.5,174.09 1324.5,173.66 1325.5,173.23 1326.5,172.78 1327.5,172.32 1328.5,171.85 1329.5,171.37 1330.5,170.89 1331.5,170.40 1332.5,169.91 1333.5,169.41 1334.5,168.91 1335.5,168.41 1336.5,167.91 1337.5,167.42 1338.5,166.92 1339.5,166.44 1340.5,165.96 1341.5,165.48 1342.5,165.02 1343.5,164.57 1344.5,164.10 1345.5,163.63 1346.5,163.15 1347.5,162.67 1348.5,162.18 1349.5,161.69 1350.5,161.21 1351.5,160.74 1352.5,160.27 1353.5,159.82 1354.5,159.39 1355.5,158.98 1356.5,158.58 1357.5,158.22 1358.5,157.88 1359.5,157.58 1360.5,157.31 1361.5,157.07 1362.5,156.83 1363.5,156.59 1364.5,156.35 1365.5,156.13 1366.5,155.93 1367.5,155.75 1368.5,155.60 1369.5,155.48 1370.5,155.41 1371.5,155.38 1372.5,155.40 1373.5,155.48 1374.5,155.61 1375.5,155.78 1376.5,155.99 1377.5,156.22 1378.5,156.47 1379.5,156.74 1380.5,157.01 1381.5,157.28 1382.5,157.54 1383.5,157.79 1384.5,158.05 1385.5,158.32 1386.5,158.61 1387.5,158.91 1388.5,159.23 1389.5,159.55 1390.5,159.88 1391.5,160.21 1392.5,160.55 1393.5,160.89 1394.5,161.23 1395.5,161.57 1396.5,161.90 1397.5,162.23 1398.5,162.55 1399.5,162.87 1400.5,163.18 1401.5,163.50 1402.5,163.81" fill="none" stroke="#ed1c24" stroke-width="4.75" stroke-linejoin="round" stroke-linecap="butt"/>
<path transform="scale(1,1.255)" d="M665.5,125.48 666.5,125.58 667.5,125.69 668.5,125.79 669.5,125.90 670.5,126.00 671.5,126.12 672.5,126.24 673.5,126.36 674.5,126.49 675.5,126.62 676.5,126.75 677.5,126.88 678.5,127.01 679.5,127.13 680.5,127.25 681.5,127.36 682.5,127.47 683.5,127.57 684.5,127.65 685.5,127.73 686.5,127.80 687.5,127.85 688.5,127.89 689.5,127.91 690.5,127.94 691.5,127.97 692.5,127.99 693.5,128.01 694.5,128.03 695.5,128.05 696.5,128.07 697.5,128.09 698.5,128.10 699.5,128.11 700.5,128.12 701.5,128.12 702.5,128.13 703.5,128.11 704.5,128.02 705.5,127.85 706.5,127.64 707.5,127.39 708.5,127.12 709.5,126.85 710.5,126.59 711.5,126.37 712.5,126.19 713.5,126.08 714.5,126.06 715.5,126.16 716.5,126.39 717.5,126.73 718.5,127.15 719.5,127.63 720.5,128.20 721.5,129.10 722.5,130.32 723.5,131.77 724.5,133.40 725.5,135.11 726.5,136.96 727.5,139.14 728.5,141.59 729.5,144.27 730.5,147.12 731.5,150.11 732.5,153.39 733.5,157.03 734.5,160.91 735.5,164.92 736.5,168.94 737.5,172.86 738.5,176.66 739.5,180.44 740.5,184.35 741.5,188.54 742.5,193.14 743.5,198.33 744.5,204.13 745.5,210.42 746.5,217.05 747.5,223.88 748.5,230.77 749.5,237.58 750.5,244.22 751.5,251.18 752.5,258.25 753.5,264.98 754.5,270.92 755.5,275.73 756.5,279.95 757.5,284.35 758.5,289.74 759.5,296.50 760.5,303.61 761.5,309.91 762.5,314.68 763.5,318.90 764.5,322.72 765.5,326.10 766.5,329.05 767.5,331.55 768.5,333.79 769.5,335.75 770.5,337.28 771.5,338.34 772.5,339.25 773.5,339.84 774.5,339.85 775.5,339.31 776.5,338.40 777.5,336.99 778.5,334.04 779.5,330.49 780.5,326.72 781.5,322.46 782.5,317.72 783.5,312.50 784.5,306.28 785.5,298.93 786.5,291.51 787.5,285.07 788.5,279.64 789.5,274.36 790.5,268.44 791.5,261.82 792.5,254.82 793.5,247.69 794.5,240.73 795.5,233.93 796.5,226.93 797.5,219.90 798.5,213.08 799.5,206.69 800.5,200.96 801.5,196.06 802.5,191.78 803.5,187.91 804.5,184.27 805.5,180.65 806.5,176.88 807.5,172.75 808.5,168.29 809.5,163.78 810.5,159.49 811.5,155.71 812.5,152.73 813.5,150.22 814.5,147.91 815.5,145.88 816.5,144.19 817.5,142.92 818.5,142.02 819.5,141.19 820.5,140.45 821.5,139.81 822.5,139.32 823.5,139.00 824.5,138.88 825.5,138.98 826.5,139.25 827.5,139.66 828.5,140.18 829.5,140.76 830.5,141.37 831.5,141.99 832.5,142.57 833.5,143.09 834.5,143.50 835.5,143.88 836.5,144.24 837.5,144.59 838.5,144.90 839.5,145.15 840.5,145.36 841.5,145.55 842.5,145.74 843.5,145.92 844.5,146.09 845.5,146.24 846.5,146.37 847.5,146.48 848.5,146.55 849.5,146.60 850.5,146.61 851.5,146.55 852.5,146.40 853.5,146.18 854.5,145.90 855.5,145.56 856.5,145.18 857.5,144.75 858.5,144.31 859.5,143.84 860.5,143.36 861.5,142.89 862.5,142.43 863.5,141.98 864.5,141.56 865.5,141.19 866.5,140.83 867.5,140.44 868.5,140.03 869.5,139.60 870.5,139.16 871.5,138.72 872.5,138.27 873.5,137.82 874.5,137.38 875.5,136.96 876.5,136.56 877.5,136.19 878.5,135.84 879.5,135.53 880.5,135.27 881.5,135.05 882.5,134.89 883.5,134.78 884.5,134.74 885.5,134.75 886.5,134.77 887.5,134.80 888.5,134.84 889.5,134.89 890.5,134.95 891.5,135.02 892.5,135.10 893.5,135.18 894.5,135.26 895.5,135.37 896.5,135.53 897.5,135.75 898.5,136.03 899.5,136.34 900.5,136.69 901.5,137.07 902.5,137.46 903.5,137.87 904.5,138.27 905.5,138.67 906.5,139.05 907.5,139.41 908.5,139.73 909.5,140.03 910.5,140.32 911.5,140.61 912.5,140.89 913.5,141.17 914.5,141.44 915.5,141.71 916.5,141.98 917.5,142.25 918.5,142.52 919.5,142.79 920.5,143.07 921.5,143.34 922.5,143.62 923.5,143.90 924.5,144.19 925.5,144.48 926.5,144.78 927.5,145.08 928.5,145.39 929.5,145.70 930.5,146.00 931.5,146.32 932.5,146.63 933.5,146.95 934.5,147.27 935.5,147.59 936.5,147.92 937.5,148.24 938.5,148.57 939.5,148.90 940.5,149.23 941.5,149.57 942.5,149.90 943.5,150.24 944.5,150.58 945.5,150.92 946.5,151.26 947.5,151.61 948.5,151.95 949.5,152.30 950.5,152.65 951.5,153.00 952.5,153.36 953.5,153.72 954.5,154.09 955.5,154.46 956.5,154.83 957.5,155.21 958.5,155.59 959.5,155.98 960.5,156.38 961.5,156.80 962.5,157.25 963.5,157.72 964.5,158.21 965.5,158.71 966.5,159.21 967.5,159.72 968.5,160.22 969.5,160.72 970.5,161.20 971.5,161.66 972.5,162.09 973.5,162.50 974.5,162.88 975.5,163.22 976.5,163.51 977.5,163.76 978.5,164.00 979.5,164.23 980.5,164.46 981.5,164.68 982.5,164.88 983.5,165.07 984.5,165.24 985.5,165.39 986.5,165.52 987.5,165.63 988.5,165.70 989.5,165.76 990.5,165.80 991.5,165.83 992.5,165.87 993.5,165.90 994.5,165.92 995.5,165.95 996.5,165.97 997.5,165.99 998.5,166.01 999.5,166.03 1000.5,166.05 1001.5,166.07 1002.5,166.09 1003.5,166.11 1004.5,166.13 1005.5,166.16 1006.5,166.19 1007.5,166.22 1008.5,166.26 1009.5,166.29 1010.5,166.32 1011.5,166.36 1012.5,166.39 1013.5,166.42 1014.5,166.45 1015.5,166.48 1016.5,166.50 1017.5,166.51 1018.5,166.53 1019.5,166.53 1020.5,166.53 1021.5,166.53 1022.5,166.53 1023.5,166.53 1024.5,166.52 1025.5,166.51 1026.5,166.51 1027.5,166.50 1028.5,166.49 1029.5,166.49 1030.5,166.48 1031.5,166.47 1032.5,166.47 1033.5,166.46 1034.5,166.46 1035.5,166.46 1036.5,166.45 1037.5,166.45 1038.5,166.46 1039.5,166.47 1040.5,166.48 1041.5,166.49 1042.5,166.51 1043.5,166.54 1044.5,166.56 1045.5,166.60 1046.5,166.63 1047.5,166.68 1048.5,166.72 1049.5,166.78 1050.5,166.83 1051.5,166.89 1052.5,166.96 1053.5,167.03 1054.5,167.11 1055.5,167.32 1056.5,167.66 1057.5,168.10 1058.5,168.57 1059.5,169.03 1060.5,169.44 1061.5,169.84 1062.5,170.25 1063.5,170.66 1064.5,171.07 1065.5,171.49 1066.5,171.93 1067.5,172.37 1068.5,172.81 1069.5,173.27 1070.5,173.72 1071.5,174.19 1072.5,174.66 1073.5,175.13 1074.5,175.62 1075.5,176.11 1076.5,176.62 1077.5,177.13 1078.5,177.66 1079.5,178.21 1080.5,178.77 1081.5,179.37 1082.5,180.01 1083.5,180.67 1084.5,181.36 1085.5,182.06 1086.5,182.77 1087.5,183.47 1088.5,184.18 1089.5,184.87 1090.5,185.54 1091.5,186.18 1092.5,186.79 1093.5,187.36 1094.5,187.88 1095.5,188.40 1096.5,188.90 1097.5,189.40 1098.5,189.88 1099.5,190.35 1100.5,190.81 1101.5,191.25 1102.5,191.68 1103.5,192.10 1104.5,192.51 1105.5,192.90 1106.5,193.28 1107.5,193.64 1108.5,193.99 1109.5,194.33 1110.5,194.65 1111.5,194.97 1112.5,195.28 1113.5,195.58 1114.5,195.86 1115.5,196.14 1116.5,196.40 1117.5,196.66 1118.5,196.89 1119.5,197.12 1120.5,197.33 1121.5,197.54 1122.5,197.73 1123.5,197.93 1124.5,198.11 1125.5,198.29 1126.5,198.47 1127.5,198.64 1128.5,198.81 1129.5,198.97 1130.5,199.13 1131.5,199.28 1132.5,199.43 1133.5,199.58 1134.5,199.72 1135.5,199.86 1136.5,199.99 1137.5,200.12 1138.5,200.25 1139.5,200.37 1140.5,200.49 1141.5,200.61 1142.5,200.74 1143.5,200.86 1144.5,200.99 1145.5,201.12 1146.5,201.25 1147.5,201.38 1148.5,201.50 1149.5,201.62 1150.5,201.74 1151.5,201.85 1152.5,201.95 1153.5,202.05 1154.5,202.13 1155.5,202.21 1156.5,202.27 1157.5,202.32 1158.5,202.36 1159.5,202.38 1160.5,202.39 1161.5,202.38 1162.5,202.36 1163.5,202.33 1164.5,202.28 1165.5,202.22 1166.5,202.15 1167.5,202.07 1168.5,201.98 1169.5,201.88 1170.5,201.77 1171.5,201.66 1172.5,201.54 1173.5,201.42 1174.5,201.29 1175.5,201.13 1176.5,200.93 1177.5,200.67 1178.5,200.37 1179.5,200.03 1180.5,199.66 1181.5,199.25 1182.5,198.82 1183.5,198.37 1184.5,197.90 1185.5,197.42 1186.5,196.93 1187.5,196.44 1188.5,195.95 1189.5,195.46 1190.5,194.99 1191.5,194.52 1192.5,194.03 1193.5,193.51 1194.5,192.98 1195.5,192.42 1196.5,191.85 1197.5,191.27 1198.5,190.68 1199.5,190.09 1200.5,189.48 1201.5,188.88 1202.5,188.28 1203.5,187.68 1204.5,187.09 1205.5,186.50 1206.5,185.93 1207.5,185.37 1208.5,184.83 1209.5,184.31 1210.5,183.81 1211.5,183.34 1212.5,182.89 1213.5,182.46 1214.5,182.03 1215.5,181.61 1216.5,181.17 1217.5,180.72 1218.5,180.26 1219.5,179.79 1220.5,179.32 1221.5,178.85 1222.5,178.38 1223.5,177.90 1224.5,177.42 1225.5,176.93 1226.5,176.45 1227.5,175.97 1228.5,175.48 1229.5,175.00 1230.5,174.51 1231.5,174.03 1232.5,173.55 1233.5,173.07 1234.5,172.58 1235.5,172.09 1236.5,171.60 1237.5,171.09 1238.5,170.59 1239.5,170.08 1240.5,169.57 1241.5,169.07 1242.5,168.57 1243.5,168.07 1244.5,167.59 1245.5,167.11 1246.5,166.65 1247.5,166.20 1248.5,165.76 1249.5,165.34 1250.5,164.94 1251.5,164.52 1252.5,164.08 1253.5,163.62 1254.5,163.17 1255.5,162.73 1256.5,162.31 1257.5,161.93 1258.5,161.60 1259.5,161.34 1260.5,161.15 1261.5,161.05 1262.5,161.04 1263.5,161.04 1264.5,161.04 1265.5,161.04 1266.5,161.04 1267.5,161.04 1268.5,161.04 1269.5,161.04 1270.5,161.04 1271.5,161.04 1272.5,161.04 1273.5,161.04 1274.5,161.04 1275.5,161.04 1276.5,161.02 1277.5,160.99 1278.5,160.93 1279.5,160.85 1280.5,160.75 1281.5,160.64 1282.5,160.51 1283.5,160.36 1284.5,160.21 1285.5,160.04 1286.5,159.85 1287.5,159.66 1288.5,159.46 1289.5,159.26 1290.5,159.04 1291.5,158.78 1292.5,158.42 1293.5,157.99 1294.5,157.49 1295.5,156.93 1296.5,156.33 1297.5,155.70 1298.5,155.05 1299.5,154.39 1300.5,153.74 1301.5,153.10 1302.5,152.49 1303.5,151.93 1304.5,151.40 1305.5,150.86 1306.5,150.31 1307.5,149.75 1308.5,149.19 1309.5,148.64 1310.5,148.09 1311.5,147.56 1312.5,147.05 1313.5,146.56 1314.5,146.11 1315.5,145.68 1316.5,145.30 1317.5,144.95 1318.5,144.64 1319.5,144.36 1320.5,144.09 1321.5,143.84 1322.5,143.60 1323.5,143.37 1324.5,143.16 1325.5,142.95 1326.5,142.74 1327.5,142.53 1328.5,142.32 1329.5,142.11 1330.5,141.89 1331.5,141.67 1332.5,141.43 1333.5,141.17 1334.5,140.90 1335.5,140.62 1336.5,140.33 1337.5,140.04 1338.5,139.73 1339.5,139.43 1340.5,139.11 1341.5,138.80 1342.5,138.47 1343.5,138.15 1344.5,137.82 1345.5,137.49 1346.5,137.15 1347.5,136.81 1348.5,136.48 1349.5,136.14 1350.5,135.80 1351.5,135.45 1352.5,135.07 1353.5,134.66 1354.5,134.23 1355.5,133.78 1356.5,133.33 1357.5,132.87 1358.5,132.42 1359.5,131.98 1360.5,131.56 1361.5,131.16 1362.5,130.79 1363.5,130.46 1364.5,130.17 1365.5,129.94 1366.5,129.76 1367.5,129.64 1368.5,129.56 1369.5,129.48 1370.5,129.41 1371.5,129.34 1372.5,129.28 1373.5,129.22 1374.5,129.17 1375.5,129.12 1376.5,129.09 1377.5,129.05 1378.5,129.03 1379.5,129.01 1380.5,129.00 1381.5,129.01 1382.5,129.06 1383.5,129.14 1384.5,129.26 1385.5,129.40 1386.5,129.57 1387.5,129.77 1388.5,129.98 1389.5,130.21 1390.5,130.45 1391.5,130.70 1392.5,130.95 1393.5,131.21 1394.5,131.46 1395.5,131.70 1396.5,131.93 1397.5,132.15 1398.5,132.35 1399.5,132.54 1400.5,132.73 1401.5,132.92 1402.5,133.11" fill="none" stroke="#3a53a6" stroke-width="4.75" stroke-linejoin="round" stroke-linecap="butt"/>
<path transform="scale(1,1.255)" d="M665.5,124.81 666.5,124.90 667.5,125.00 668.5,125.09 669.5,125.18 670.5,125.28 671.5,125.38 672.5,125.49 673.5,125.61 674.5,125.73 675.5,125.85 676.5,125.97 677.5,126.09 678.5,126.21 679.5,126.33 680.5,126.44 681.5,126.54 682.5,126.63 683.5,126.72 684.5,126.79 685.5,126.85 686.5,126.89 687.5,126.92 688.5,126.93 689.5,126.92 690.5,126.86 691.5,126.78 692.5,126.66 693.5,126.52 694.5,126.36 695.5,126.18 696.5,125.98 697.5,125.77 698.5,125.56 699.5,125.34 700.5,125.12 701.5,124.91 702.5,124.70 703.5,124.49 704.5,124.24 705.5,123.95 706.5,123.63 707.5,123.30 708.5,122.98 709.5,122.67 710.5,122.39 711.5,122.15 712.5,121.97 713.5,121.86 714.5,121.84 715.5,121.96 716.5,122.25 717.5,122.66 718.5,123.17 719.5,123.75 720.5,124.44 721.5,125.56 722.5,127.05 723.5,128.82 724.5,130.76 725.5,132.75 726.5,134.81 727.5,137.09 728.5,139.59 729.5,142.30 730.5,145.20 731.5,148.29 732.5,151.75 733.5,155.62 734.5,159.76 735.5,164.02 736.5,168.27 737.5,172.37 738.5,176.30 739.5,180.19 740.5,184.19 741.5,188.46 742.5,193.13 743.5,198.38 744.5,204.21 745.5,210.50 746.5,217.12 747.5,223.92 748.5,230.79 749.5,237.59 750.5,244.22 751.5,251.18 752.5,258.25 753.5,264.98 754.5,270.92 755.5,275.73 756.5,279.95 757.5,284.35 758.5,289.74 759.5,296.50 760.5,303.61 761.5,309.91 762.5,314.68 763.5,318.90 764.5,322.72 765.5,326.10 766.5,329.05 767.5,331.55 768.5,333.82 769.5,335.80 770.5,337.31 771.5,338.30 772.5,339.10 773.5,339.61 774.5,339.62 775.5,339.15 776.5,338.34 777.5,337.02 778.5,334.06 779.5,330.49 780.5,326.72 781.5,322.46 782.5,317.72 783.5,312.50 784.5,306.28 785.5,298.93 786.5,291.51 787.5,285.07 788.5,279.64 789.5,274.36 790.5,268.44 791.5,261.85 792.5,254.89 793.5,247.77 794.5,240.76 795.5,233.82 796.5,226.59 797.5,219.31 798.5,212.23 799.5,205.61 800.5,199.71 801.5,194.71 802.5,190.36 803.5,186.43 804.5,182.70 805.5,178.97 806.5,175.02 807.5,170.62 808.5,165.81 809.5,160.89 810.5,156.20 811.5,152.07 812.5,148.80 813.5,146.08 814.5,143.59 815.5,141.39 816.5,139.54 817.5,138.11 818.5,137.03 819.5,136.03 820.5,135.11 821.5,134.31 822.5,133.69 823.5,133.29 824.5,133.15 825.5,133.24 826.5,133.49 827.5,133.88 828.5,134.37 829.5,134.94 830.5,135.55 831.5,136.18 832.5,136.79 833.5,137.36 834.5,137.87 835.5,138.39 836.5,138.95 837.5,139.49 838.5,139.97 839.5,140.35 840.5,140.59 841.5,140.79 842.5,140.99 843.5,141.17 844.5,141.34 845.5,141.48 846.5,141.61 847.5,141.71 848.5,141.78 849.5,141.82 850.5,141.83 851.5,141.77 852.5,141.62 853.5,141.40 854.5,141.11 855.5,140.77 856.5,140.38 857.5,139.95 858.5,139.50 859.5,139.03 860.5,138.56 861.5,138.08 862.5,137.62 863.5,137.18 864.5,136.77 865.5,136.40 866.5,136.06 867.5,135.69 868.5,135.29 869.5,134.89 870.5,134.47 871.5,134.05 872.5,133.63 873.5,133.22 874.5,132.83 875.5,132.45 876.5,132.11 877.5,131.79 878.5,131.52 879.5,131.29 880.5,131.11 881.5,130.98 882.5,130.92 883.5,130.92 884.5,130.92 885.5,130.92 886.5,130.92 887.5,130.92 888.5,130.92 889.5,130.92 890.5,130.92 891.5,130.92 892.5,130.92 893.5,130.92 894.5,130.99 895.5,131.13 896.5,131.33 897.5,131.59 898.5,131.89 899.5,132.23 900.5,132.60 901.5,132.99 902.5,133.40 903.5,133.81 904.5,134.22 905.5,134.62 906.5,135.00 907.5,135.35 908.5,135.67 909.5,135.96 910.5,136.25 911.5,136.55 912.5,136.84 913.5,137.13 914.5,137.41 915.5,137.70 916.5,137.98 917.5,138.27 918.5,138.55 919.5,138.82 920.5,139.10 921.5,139.37 922.5,139.64 923.5,139.91 924.5,140.17 925.5,140.43 926.5,140.68 927.5,140.92 928.5,141.16 929.5,141.38 930.5,141.60 931.5,141.82 932.5,142.03 933.5,142.25 934.5,142.46 935.5,142.68 936.5,142.91 937.5,143.13 938.5,143.37 939.5,143.62 940.5,143.87 941.5,144.14 942.5,144.42 943.5,144.72 944.5,145.04 945.5,145.37 946.5,145.72 947.5,146.09 948.5,146.46 949.5,146.85 950.5,147.25 951.5,147.66 952.5,148.08 953.5,148.50 954.5,148.94 955.5,149.38 956.5,149.82 957.5,150.27 958.5,150.72 959.5,151.17 960.5,151.62 961.5,152.11 962.5,152.62 963.5,153.15 964.5,153.70 965.5,154.26 966.5,154.83 967.5,155.41 968.5,155.98 969.5,156.55 970.5,157.11 971.5,157.66 972.5,158.18 973.5,158.69 974.5,159.16 975.5,159.61 976.5,160.01 977.5,160.38 978.5,160.75 979.5,161.12 980.5,161.48 981.5,161.84 982.5,162.18 983.5,162.50 984.5,162.79 985.5,163.05 986.5,163.28 987.5,163.47 988.5,163.61 989.5,163.70 990.5,163.77 991.5,163.83 992.5,163.89 993.5,163.94 994.5,163.98 995.5,164.02 996.5,164.05 997.5,164.09 998.5,164.12 999.5,164.15 1000.5,164.19 1001.5,164.23 1002.5,164.27 1003.5,164.32 1004.5,164.38 1005.5,164.44 1006.5,164.51 1007.5,164.58 1008.5,164.66 1009.5,164.74 1010.5,164.82 1011.5,164.91 1012.5,165.00 1013.5,165.09 1014.5,165.19 1015.5,165.28 1016.5,165.38 1017.5,165.48 1018.5,165.58 1019.5,165.69 1020.5,165.79 1021.5,165.89 1022.5,165.99 1023.5,166.10 1024.5,166.20 1025.5,166.31 1026.5,166.42 1027.5,166.53 1028.5,166.64 1029.5,166.76 1030.5,166.88 1031.5,167.01 1032.5,167.14 1033.5,167.27 1034.5,167.41 1035.5,167.56 1036.5,167.71 1037.5,167.87 1038.5,168.04 1039.5,168.22 1040.5,168.41 1041.5,168.61 1042.5,168.81 1043.5,169.03 1044.5,169.25 1045.5,169.49 1046.5,169.73 1047.5,169.98 1048.5,170.24 1049.5,170.50 1050.5,170.77 1051.5,171.05 1052.5,171.34 1053.5,171.63 1054.5,171.93 1055.5,172.25 1056.5,172.60 1057.5,172.97 1058.5,173.37 1059.5,173.80 1060.5,174.26 1061.5,174.76 1062.5,175.31 1063.5,175.89 1064.5,176.50 1065.5,177.12 1066.5,177.76 1067.5,178.40 1068.5,179.05 1069.5,179.71 1070.5,180.38 1071.5,181.07 1072.5,181.78 1073.5,182.49 1074.5,183.21 1075.5,183.94 1076.5,184.68 1077.5,185.41 1078.5,186.15 1079.5,186.88 1080.5,187.62 1081.5,188.38 1082.5,189.17 1083.5,189.99 1084.5,190.81 1085.5,191.66 1086.5,192.51 1087.5,193.36 1088.5,194.22 1089.5,195.07 1090.5,195.90 1091.5,196.73 1092.5,197.53 1093.5,198.31 1094.5,199.06 1095.5,199.77 1096.5,200.45 1097.5,201.09 1098.5,201.67 1099.5,202.21 1100.5,202.69 1101.5,203.14 1102.5,203.59 1103.5,204.01 1104.5,204.43 1105.5,204.83 1106.5,205.22 1107.5,205.60 1108.5,205.96 1109.5,206.31 1110.5,206.65 1111.5,206.97 1112.5,207.29 1113.5,207.59 1114.5,207.88 1115.5,208.16 1116.5,208.42 1117.5,208.67 1118.5,208.92 1119.5,209.15 1120.5,209.37 1121.5,209.58 1122.5,209.79 1123.5,210.00 1124.5,210.20 1125.5,210.39 1126.5,210.59 1127.5,210.77 1128.5,210.95 1129.5,211.13 1130.5,211.30 1131.5,211.46 1132.5,211.61 1133.5,211.76 1134.5,211.89 1135.5,212.02 1136.5,212.14 1137.5,212.25 1138.5,212.35 1139.5,212.44 1140.5,212.52 1141.5,212.59 1142.5,212.66 1143.5,212.74 1144.5,212.81 1145.5,212.88 1146.5,212.94 1147.5,213.00 1148.5,213.06 1149.5,213.11 1150.5,213.16 1151.5,213.20 1152.5,213.24 1153.5,213.27 1154.5,213.29 1155.5,213.30 1156.5,213.31 1157.5,213.30 1158.5,213.27 1159.5,213.22 1160.5,213.15 1161.5,213.07 1162.5,212.97 1163.5,212.85 1164.5,212.73 1165.5,212.59 1166.5,212.43 1167.5,212.27 1168.5,212.10 1169.5,211.92 1170.5,211.74 1171.5,211.54 1172.5,211.34 1173.5,211.14 1174.5,210.94 1175.5,210.71 1176.5,210.43 1177.5,210.11 1178.5,209.75 1179.5,209.36 1180.5,208.93 1181.5,208.47 1182.5,207.99 1183.5,207.49 1184.5,206.97 1185.5,206.45 1186.5,205.91 1187.5,205.37 1188.5,204.83 1189.5,204.30 1190.5,203.77 1191.5,203.24 1192.5,202.70 1193.5,202.13 1194.5,201.55 1195.5,200.96 1196.5,200.35 1197.5,199.73 1198.5,199.10 1199.5,198.46 1200.5,197.81 1201.5,197.16 1202.5,196.51 1203.5,195.86 1204.5,195.21 1205.5,194.56 1206.5,193.91 1207.5,193.27 1208.5,192.64 1209.5,192.02 1210.5,191.42 1211.5,190.82 1212.5,190.21 1213.5,189.61 1214.5,189.02 1215.5,188.45 1216.5,187.89 1217.5,187.36 1218.5,186.83 1219.5,186.32 1220.5,185.82 1221.5,185.33 1222.5,184.84 1223.5,184.36 1224.5,183.89 1225.5,183.42 1226.5,182.95 1227.5,182.49 1228.5,182.02 1229.5,181.56 1230.5,181.10 1231.5,180.63 1232.5,180.16 1233.5,179.68 1234.5,179.20 1235.5,178.72 1236.5,178.25 1237.5,177.77 1238.5,177.29 1239.5,176.81 1240.5,176.34 1241.5,175.86 1242.5,175.38 1243.5,174.91 1244.5,174.43 1245.5,173.96 1246.5,173.49 1247.5,173.02 1248.5,172.55 1249.5,172.09 1250.5,171.62 1251.5,171.12 1252.5,170.58 1253.5,170.01 1254.5,169.44 1255.5,168.87 1256.5,168.32 1257.5,167.81 1258.5,167.35 1259.5,166.96 1260.5,166.65 1261.5,166.44 1262.5,166.33 1263.5,166.24 1264.5,166.17 1265.5,166.11 1266.5,166.06 1267.5,166.01 1268.5,165.97 1269.5,165.93 1270.5,165.89 1271.5,165.85 1272.5,165.81 1273.5,165.77 1274.5,165.71 1275.5,165.65 1276.5,165.59 1277.5,165.53 1278.5,165.47 1279.5,165.41 1280.5,165.34 1281.5,165.28 1282.5,165.21 1283.5,165.14 1284.5,165.06 1285.5,164.97 1286.5,164.88 1287.5,164.77 1288.5,164.65 1289.5,164.53 1290.5,164.38 1291.5,164.16 1292.5,163.81 1293.5,163.35 1294.5,162.79 1295.5,162.16 1296.5,161.47 1297.5,160.74 1298.5,159.99 1299.5,159.24 1300.5,158.50 1301.5,157.79 1302.5,157.13 1303.5,156.55 1304.5,156.03 1305.5,155.52 1306.5,155.01 1307.5,154.51 1308.5,154.02 1309.5,153.53 1310.5,153.06 1311.5,152.61 1312.5,152.17 1313.5,151.75 1314.5,151.35 1315.5,150.97 1316.5,150.62 1317.5,150.30 1318.5,150.00 1319.5,149.72 1320.5,149.45 1321.5,149.21 1322.5,148.97 1323.5,148.74 1324.5,148.52 1325.5,148.31 1326.5,148.10 1327.5,147.89 1328.5,147.68 1329.5,147.46 1330.5,147.24 1331.5,147.01 1332.5,146.77 1333.5,146.51 1334.5,146.24 1335.5,145.96 1336.5,145.67 1337.5,145.37 1338.5,145.07 1339.5,144.76 1340.5,144.45 1341.5,144.13 1342.5,143.81 1343.5,143.49 1344.5,143.16 1345.5,142.82 1346.5,142.49 1347.5,142.15 1348.5,141.81 1349.5,141.48 1350.5,141.14 1351.5,140.79 1352.5,140.42 1353.5,140.03 1354.5,139.62 1355.5,139.19 1356.5,138.76 1357.5,138.33 1358.5,137.90 1359.5,137.48 1360.5,137.07 1361.5,136.68 1362.5,136.31 1363.5,135.97 1364.5,135.66 1365.5,135.39 1366.5,135.16 1367.5,134.98 1368.5,134.83 1369.5,134.67 1370.5,134.53 1371.5,134.39 1372.5,134.25 1373.5,134.13 1374.5,134.01 1375.5,133.91 1376.5,133.82 1377.5,133.74 1378.5,133.69 1379.5,133.65 1380.5,133.63 1381.5,133.63 1382.5,133.67 1383.5,133.74 1384.5,133.83 1385.5,133.95 1386.5,134.09 1387.5,134.24 1388.5,134.42 1389.5,134.60 1390.5,134.80 1391.5,135.00 1392.5,135.20 1393.5,135.41 1394.5,135.61 1395.5,135.81 1396.5,136.00 1397.5,136.17 1398.5,136.33 1399.5,136.49 1400.5,136.64 1401.5,136.80 1402.5,136.95" fill="none" stroke="#129a48" stroke-width="4.75" stroke-linejoin="round" stroke-linecap="butt"/>
</g>
<path d="M774,83 V486.3" stroke="#222" stroke-width="4.2"/>
<path d="M669.3,182.45 H1398.5" stroke="#000" stroke-width="4.1"/>
<text x="1100.5" y="124.37" transform="scale(1,0.87)" font-size="40" letter-spacing="1.5" style="fill:#808080;stroke:#808080;stroke-width:0.5px">******</text>
<text x="1082.3" y="146.55" transform="scale(1,0.87)" font-size="40.5" letter-spacing="1.3" style="fill:#000;stroke:#000;stroke-width:1px">********</text>
</g>
<g id="erpBot">
<g clip-path="url(#cp)">
<path d="M665.4,594.5 667.4,592.5 669.4,590.4 671.4,588.2 673.4,585.8 675.4,583.5 677.4,581.4 679.4,579.8 681.4,578.7 683.4,577.8 685.4,577.0 687.4,576.5 689.4,576.3 691.4,577.0 693.4,578.5 695.4,580.5 697.4,582.7 699.4,584.7 701.4,586.4 703.4,588.0 705.4,589.7 707.4,591.3 709.4,592.8 711.4,594.1 713.4,595.3 715.4,596.4 717.4,597.5 719.4,598.8 721.4,600.3 723.4,602.0 725.4,604.0 727.4,606.5 729.4,609.8 731.4,614.4 733.4,620.2 735.4,627.0 737.4,635.7 739.4,645.8 741.4,656.8 743.4,669.6 745.4,682.8 747.4,694.9 749.4,708.1 751.4,725.6 753.4,742.4 755.4,758.1 757.4,769.8 759.4,777.7 761.4,791.8 763.4,812.5 765.4,822.2 767.4,829.0 769.4,834.2 771.4,839.2 773.4,843.0 775.4,843.8 777.4,838.0 779.4,828.4 781.4,816.3 783.4,803.3 785.4,790.1 787.4,778.2 789.4,767.8 791.4,757.9 793.4,748.0 795.4,738.2 797.4,728.8 799.4,718.6 801.4,706.6 803.4,689.6 805.4,668.7 807.4,651.3 809.4,636.7 811.4,624.0 813.4,613.3 815.4,603.8 817.4,595.9 819.4,590.7 821.4,586.8 823.4,583.6 825.4,581.0 827.4,579.1 829.4,577.7 831.4,576.5 833.4,575.5 835.4,574.7 837.4,574.5 839.4,574.9 841.4,575.8 843.4,577.1 845.4,578.7 847.4,580.4 849.4,582.2 851.4,584.6 853.4,587.3 855.4,590.3 857.4,593.3 859.4,596.1 861.4,598.9 863.4,601.7 865.4,604.4 867.4,606.9 869.4,609.0 871.4,611.0 873.4,613.0 875.4,614.6 877.4,615.6 879.4,616.1 881.4,616.5 883.4,616.8 885.4,617.0 887.4,617.2 889.4,617.2 891.4,616.9 893.4,616.5 895.4,616.0 897.4,615.5 899.4,615.1 901.4,614.4 903.4,613.5 905.4,612.6 907.4,611.7 909.4,610.8 911.4,609.9 913.4,609.0 915.4,608.1 917.4,607.2 919.4,606.3 921.4,605.2 923.4,604.2 925.4,603.1 927.4,602.1 929.4,601.1 931.4,600.2 933.4,599.5 935.4,598.8 937.4,598.3 939.4,598.0 941.4,597.7 943.4,597.5 945.4,597.4 947.4,597.2 949.4,597.1 951.4,596.9 953.4,596.7 955.4,596.6 957.4,596.4 959.4,596.2 961.4,596.0 963.4,595.7 965.4,595.4 967.4,595.1 969.4,594.3 971.4,592.8 973.4,590.7 975.4,588.2 977.4,585.5 979.4,582.8 981.4,580.3 983.4,577.9 985.4,575.3 987.4,572.7 989.4,570.4 991.4,568.6 993.4,567.2 995.4,565.8 997.4,564.7 999.4,563.9 1001.4,563.5 1003.4,563.9 1005.4,564.8 1007.4,565.9 1009.4,567.2 1011.4,568.7 1013.4,570.9 1015.4,573.6 1017.4,576.7 1019.4,579.7 1021.4,583.0 1023.4,586.6 1025.4,590.5 1027.4,594.4 1029.4,598.4 1031.4,602.8 1033.4,607.3 1035.4,611.9 1037.4,616.3 1039.4,620.4 1041.4,624.2 1043.4,627.9 1045.4,631.5 1047.4,635.0 1049.4,638.4 1051.4,641.7 1053.4,644.8 1055.4,647.9 1057.4,650.9 1059.4,653.9 1061.4,656.8 1063.4,659.6 1065.4,662.3 1067.4,665.0 1069.4,667.7 1071.4,670.3 1073.4,672.8 1075.4,675.4 1077.4,678.0 1079.4,680.5 1081.4,683.1 1083.4,685.6 1085.4,688.0 1087.4,690.5 1089.4,693.0 1091.4,695.4 1093.4,698.0 1095.4,700.5 1097.4,703.1 1099.4,705.6 1101.4,708.0 1103.4,710.2 1105.4,712.3 1107.4,714.4 1109.4,716.4 1111.4,718.4 1113.4,720.3 1115.4,722.2 1117.4,724.1 1119.4,725.8 1121.4,727.4 1123.4,728.9 1125.4,730.3 1127.4,731.5 1129.4,732.5 1131.4,733.5 1133.4,734.4 1135.4,735.3 1137.4,736.2 1139.4,737.0 1141.4,737.9 1143.4,738.7 1145.4,739.5 1147.4,740.1 1149.4,740.6 1151.4,741.1 1153.4,741.5 1155.4,741.8 1157.4,742.1 1159.4,742.3 1161.4,742.7 1163.4,743.2 1165.4,743.6 1167.4,744.0 1169.4,744.2 1171.4,744.4 1173.4,744.4 1175.4,744.0 1177.4,743.4 1179.4,742.5 1181.4,741.6 1183.4,740.7 1185.4,740.1 1187.4,739.8 1189.4,739.8 1191.4,739.9 1193.4,740.0 1195.4,740.1 1197.4,740.3 1199.4,740.7 1201.4,741.6 1203.4,743.0 1205.4,744.7 1207.4,746.3 1209.4,747.6 1211.4,748.7 1213.4,749.8 1215.4,750.8 1217.4,751.8 1219.4,752.6 1221.4,753.2 1223.4,753.8 1225.4,754.4 1227.4,754.9 1229.4,755.2 1231.4,755.3 1233.4,755.1 1235.4,754.8 1237.4,754.5 1239.4,754.0 1241.4,753.5 1243.4,752.9 1245.4,752.2 1247.4,751.3 1249.4,749.9 1251.4,748.1 1253.4,746.1 1255.4,744.0 1257.4,741.8 1259.4,739.6 1261.4,737.2 1263.4,734.5 1265.4,731.8 1267.4,728.9 1269.4,725.7 1271.4,722.1 1273.4,718.4 1275.4,714.4 1277.4,710.5 1279.4,706.7 1281.4,703.2 1283.4,700.0 1285.4,696.9 1287.4,693.8 1289.4,690.9 1291.4,688.1 1293.4,685.5 1295.4,683.2 1297.4,681.2 1299.4,679.4 1301.4,677.8 1303.4,676.3 1305.4,674.9 1307.4,673.5 1309.4,672.1 1311.4,670.6 1313.4,669.1 1315.4,667.5 1317.4,666.0 1319.4,664.4 1321.4,662.8 1323.4,661.1 1325.4,659.4 1327.4,657.5 1329.4,655.3 1331.4,653.1 1333.4,650.9 1335.4,648.8 1337.4,646.9 1339.4,645.1 1341.4,643.2 1343.4,641.4 1345.4,640.1 1347.4,639.4 1349.4,639.3 1351.4,639.4 1353.4,639.7 1355.4,640.0 1357.4,640.4 1359.4,640.7 1361.4,641.1 1363.4,641.4 1365.4,641.7 1367.4,642.1 1369.4,642.5 1371.4,642.8 1373.4,643.1 1375.4,643.3 1377.4,643.4 1379.4,643.4 1381.4,643.3 1383.4,643.2 1385.4,643.1 1387.4,643.0 1389.4,643.0 1391.4,642.9 1393.4,643.3 1395.4,644.2 1397.4,645.2 1399.4,646.1 1401.4,646.8 1402.2,647.1 1402.2,731.1 1401.4,730.8 1399.4,730.1 1397.4,729.3 1395.4,728.3 1393.4,727.5 1391.4,727.3 1389.4,727.3 1387.4,727.5 1385.4,727.7 1383.4,727.8 1381.4,728.0 1379.4,728.2 1377.4,728.2 1375.4,728.2 1373.4,728.1 1371.4,727.9 1369.4,727.7 1367.4,727.4 1365.4,727.1 1363.4,726.8 1361.4,726.6 1359.4,726.4 1357.4,726.1 1355.4,725.8 1353.4,725.5 1351.4,725.4 1349.4,725.2 1347.4,725.1 1345.4,725.5 1343.4,726.6 1341.4,728.1 1339.4,729.8 1337.4,731.4 1335.4,733.0 1333.4,734.9 1331.4,736.9 1329.4,738.9 1327.4,740.8 1325.4,742.4 1323.4,743.9 1321.4,745.4 1319.4,746.7 1317.4,748.1 1315.4,749.4 1313.4,750.7 1311.4,752.0 1309.4,753.3 1307.4,754.4 1305.4,755.6 1303.4,756.7 1301.4,758.0 1299.4,759.3 1297.4,760.9 1295.4,762.8 1293.4,764.9 1291.4,767.3 1289.4,770.0 1287.4,772.7 1285.4,775.6 1283.4,778.6 1281.4,781.6 1279.4,784.9 1277.4,788.5 1275.4,792.3 1273.4,796.0 1271.4,799.7 1269.4,803.0 1267.4,806.0 1265.4,808.8 1263.4,811.4 1261.4,813.8 1259.4,816.1 1257.4,818.1 1255.4,820.1 1253.4,822.0 1251.4,823.9 1249.4,825.5 1247.4,826.7 1245.4,827.4 1243.4,827.9 1241.4,828.4 1239.4,828.7 1237.4,829.0 1235.4,829.2 1233.4,829.3 1231.4,829.3 1229.4,829.2 1227.4,828.8 1225.4,828.3 1223.4,827.6 1221.4,826.9 1219.4,826.2 1217.4,825.4 1215.4,824.4 1213.4,823.3 1211.4,822.2 1209.4,821.0 1207.4,819.6 1205.4,817.9 1203.4,816.3 1201.4,814.8 1199.4,813.8 1197.4,813.4 1195.4,813.1 1193.4,812.9 1191.4,812.8 1189.4,812.6 1187.4,812.6 1185.4,812.8 1183.4,813.4 1181.4,814.2 1179.4,815.0 1177.4,815.8 1175.4,816.5 1173.4,816.8 1171.4,816.7 1169.4,816.5 1167.4,816.2 1165.4,815.8 1163.4,815.3 1161.4,814.8 1159.4,814.2 1157.4,813.5 1155.4,812.7 1153.4,811.9 1151.4,811.1 1149.4,810.1 1147.4,809.2 1145.4,808.1 1143.4,806.8 1141.4,805.5 1139.4,804.2 1137.4,802.9 1135.4,801.6 1133.4,800.2 1131.4,798.9 1129.4,797.4 1127.4,795.8 1125.4,794.2 1123.4,792.4 1121.4,790.4 1119.4,788.3 1117.4,786.1 1115.4,783.8 1113.4,781.4 1111.4,779.0 1109.4,776.6 1107.4,774.1 1105.4,771.6 1103.4,769.0 1101.4,766.3 1099.4,763.6 1097.4,761.0 1095.4,758.3 1093.4,755.7 1091.4,753.1 1089.4,750.5 1087.4,748.0 1085.4,745.4 1083.4,742.9 1081.4,740.3 1079.4,737.7 1077.4,735.1 1075.4,732.4 1073.4,729.8 1071.4,727.1 1069.4,724.4 1067.4,721.7 1065.4,718.9 1063.4,716.1 1061.4,713.2 1059.4,710.2 1057.4,707.2 1055.4,704.1 1053.4,701.0 1051.4,697.8 1049.4,694.5 1047.4,691.3 1045.4,687.9 1043.4,684.5 1041.4,681.0 1039.4,677.3 1037.4,673.3 1035.4,669.1 1033.4,664.7 1031.4,660.3 1029.4,656.2 1027.4,652.3 1025.4,648.5 1023.4,644.9 1021.4,641.4 1019.4,638.3 1017.4,635.4 1015.4,632.5 1013.4,630.0 1011.4,627.9 1009.4,626.6 1007.4,625.4 1005.4,624.5 1003.4,623.8 1001.4,623.2 999.4,622.9 997.4,622.9 995.4,623.3 993.4,623.8 991.4,624.5 989.4,625.5 987.4,627.0 985.4,628.9 983.4,630.7 981.4,632.3 979.4,634.1 977.4,636.0 975.4,637.9 973.4,639.6 971.4,640.9 969.4,641.7 967.4,641.7 965.4,641.3 963.4,640.8 961.4,640.3 959.4,639.7 957.4,639.1 955.4,638.5 953.4,637.9 951.4,637.4 949.4,636.7 947.4,636.1 945.4,635.5 943.4,634.8 941.4,634.3 939.4,633.8 937.4,633.5 935.4,633.4 933.4,633.5 931.4,633.7 929.4,634.0 927.4,634.3 925.4,634.8 923.4,635.2 921.4,635.7 919.4,636.1 917.4,636.4 915.4,636.7 913.4,637.0 911.4,637.3 909.4,637.6 907.4,638.0 905.4,638.3 903.4,638.6 901.4,638.8 899.4,639.2 897.4,639.9 895.4,640.7 893.4,641.5 891.4,642.2 889.4,642.8 887.4,643.2 885.4,643.3 883.4,643.4 881.4,643.4 879.4,643.3 877.4,643.1 875.4,642.4 873.4,641.1 871.4,639.5 869.4,637.7 867.4,636.0 865.4,633.8 863.4,631.4 861.4,628.9 859.4,626.4 857.4,624.0 855.4,621.3 853.4,618.6 851.4,616.2 849.4,614.1 847.4,612.6 845.4,611.2 843.4,610.0 841.4,609.0 839.4,608.4 837.4,608.3 835.4,608.7 833.4,609.3 831.4,610.2 829.4,611.3 827.4,612.5 825.4,614.3 823.4,616.7 821.4,619.8 819.4,623.6 817.4,628.7 815.4,636.4 813.4,645.9 811.4,656.4 809.4,669.0 807.4,683.4 805.4,700.7 803.4,722.1 801.4,739.6 799.4,752.1 797.4,762.8 795.4,772.7 793.4,783.1 791.4,793.6 789.4,803.9 787.4,814.9 785.4,827.3 783.4,841.1 781.4,854.6 779.4,867.2 777.4,877.4 775.4,883.7 773.4,882.4 771.4,877.8 769.4,872.0 767.4,866.0 765.4,858.4 763.4,847.9 761.4,826.4 759.4,811.5 757.4,802.8 755.4,790.2 753.4,773.8 751.4,756.1 749.4,737.9 747.4,723.8 745.4,711.0 743.4,697.4 741.4,684.2 739.4,672.9 737.4,662.5 735.4,653.5 733.4,646.4 731.4,640.2 729.4,635.3 727.4,631.7 725.4,628.9 723.4,626.5 721.4,624.5 719.4,622.8 717.4,621.5 715.4,620.4 713.4,619.3 711.4,618.1 709.4,616.8 707.4,615.3 705.4,613.7 703.4,612.0 701.4,610.4 699.4,608.7 697.4,606.7 695.4,604.5 693.4,602.5 691.4,601.0 689.4,600.3 687.4,600.5 685.4,601.0 683.4,601.8 681.4,602.7 679.4,603.8 677.4,605.4 675.4,607.5 673.4,609.8 671.4,612.2 669.4,614.4 667.4,616.5 665.4,618.5Z" fill="#c8e8cd" fill-opacity="0.5" stroke="#9fd0a8" stroke-opacity="0.45" stroke-width="1"/>
<path d="M665.4,584.1 667.4,582.7 669.4,581.4 671.4,579.9 673.4,578.4 675.4,576.9 677.4,575.4 679.4,573.9 681.4,572.5 683.4,571.1 685.4,569.7 687.4,568.3 689.4,567.1 691.4,566.0 693.4,565.0 695.4,564.2 697.4,563.3 699.4,562.3 701.4,561.2 703.4,559.9 705.4,558.5 707.4,557.1 709.4,555.7 711.4,554.2 713.4,552.6 715.4,551.2 717.4,550.0 719.4,548.8 721.4,548.3 723.4,548.5 725.4,548.9 727.4,549.6 729.4,551.2 731.4,554.1 733.4,557.8 735.4,563.1 737.4,570.0 739.4,577.7 741.4,588.7 743.4,605.1 745.4,622.5 747.4,639.9 749.4,655.0 751.4,667.4 753.4,685.3 755.4,710.5 757.4,731.7 759.4,750.3 761.4,764.0 763.4,777.8 765.4,793.9 767.4,808.4 769.4,821.2 771.4,827.7 773.4,831.5 775.4,833.5 777.4,834.9 779.4,828.9 781.4,820.4 783.4,811.4 785.4,799.8 787.4,782.5 789.4,764.0 791.4,745.7 793.4,725.4 795.4,704.1 797.4,681.8 799.4,663.2 801.4,647.1 803.4,630.4 805.4,615.0 807.4,601.4 809.4,590.2 811.4,583.0 813.4,577.5 815.4,574.5 817.4,572.5 819.4,571.3 821.4,570.7 823.4,572.2 825.4,575.0 827.4,578.1 829.4,582.1 831.4,586.5 833.4,590.0 835.4,593.0 837.4,595.8 839.4,597.8 841.4,598.8 843.4,599.3 845.4,599.7 847.4,599.8 849.4,599.7 851.4,599.7 853.4,599.8 855.4,599.8 857.4,599.8 859.4,599.7 861.4,599.7 863.4,599.7 865.4,599.8 867.4,600.5 869.4,601.8 871.4,603.4 873.4,605.3 875.4,607.2 877.4,609.0 879.4,611.0 881.4,613.3 883.4,615.6 885.4,617.8 887.4,619.7 889.4,621.0 891.4,622.1 893.4,623.1 895.4,623.8 897.4,624.1 899.4,624.2 901.4,624.0 903.4,623.7 905.4,623.3 907.4,623.0 909.4,622.7 911.4,622.5 913.4,622.3 915.4,622.5 917.4,622.9 919.4,623.4 921.4,624.0 923.4,624.7 925.4,625.4 927.4,625.9 929.4,626.5 931.4,627.1 933.4,627.8 935.4,628.4 937.4,628.8 939.4,629.0 941.4,628.7 943.4,627.5 945.4,625.7 947.4,623.4 949.4,620.9 951.4,618.4 953.4,616.0 955.4,613.2 957.4,609.8 959.4,606.2 961.4,602.8 963.4,599.8 965.4,597.7 967.4,596.7 969.4,596.5 971.4,596.5 973.4,596.6 975.4,596.7 977.4,596.9 979.4,597.3 981.4,598.4 983.4,600.2 985.4,602.5 987.4,605.3 989.4,608.4 991.4,611.5 993.4,615.2 995.4,619.8 997.4,625.1 999.4,630.8 1001.4,636.8 1003.4,642.6 1005.4,648.1 1007.4,653.2 1009.4,658.2 1011.4,663.3 1013.4,668.2 1015.4,673.1 1017.4,677.9 1019.4,682.6 1021.4,687.2 1023.4,691.8 1025.4,696.3 1027.4,700.7 1029.4,705.0 1031.4,709.1 1033.4,713.1 1035.4,716.9 1037.4,720.8 1039.4,724.6 1041.4,728.3 1043.4,731.7 1045.4,734.6 1047.4,736.9 1049.4,738.7 1051.4,740.3 1053.4,741.8 1055.4,743.2 1057.4,744.5 1059.4,745.7 1061.4,746.8 1063.4,747.8 1065.4,748.8 1067.4,750.0 1069.4,751.3 1071.4,753.1 1073.4,755.4 1075.4,758.1 1077.4,761.0 1079.4,764.2 1081.4,767.4 1083.4,770.8 1085.4,774.0 1087.4,777.5 1089.4,781.4 1091.4,785.4 1093.4,789.1 1095.4,792.0 1097.4,794.2 1099.4,796.2 1101.4,797.9 1103.4,798.3 1105.4,797.5 1107.4,795.7 1109.4,793.2 1111.4,790.6 1113.4,788.1 1115.4,785.4 1117.4,782.1 1119.4,778.6 1121.4,775.4 1123.4,772.9 1125.4,771.2 1127.4,769.7 1129.4,768.6 1131.4,768.3 1133.4,768.7 1135.4,769.2 1137.4,769.8 1139.4,771.3 1141.4,773.8 1143.4,776.9 1145.4,780.3 1147.4,783.6 1149.4,786.5 1151.4,788.6 1153.4,790.4 1155.4,792.2 1157.4,793.9 1159.4,795.4 1161.4,796.7 1163.4,797.7 1165.4,798.3 1167.4,798.3 1169.4,798.3 1171.4,798.1 1173.4,797.9 1175.4,797.7 1177.4,797.4 1179.4,797.0 1181.4,796.5 1183.4,795.6 1185.4,794.3 1187.4,792.6 1189.4,790.6 1191.4,788.4 1193.4,786.1 1195.4,783.6 1197.4,780.6 1199.4,777.0 1201.4,772.9 1203.4,768.5 1205.4,764.1 1207.4,759.7 1209.4,755.5 1211.4,751.6 1213.4,747.6 1215.4,743.5 1217.4,739.5 1219.4,735.6 1221.4,731.7 1223.4,727.9 1225.4,724.2 1227.4,720.7 1229.4,717.3 1231.4,714.0 1233.4,710.6 1235.4,707.2 1237.4,703.6 1239.4,699.9 1241.4,696.1 1243.4,692.2 1245.4,688.2 1247.4,684.2 1249.4,680.2 1251.4,675.9 1253.4,671.3 1255.4,666.7 1257.4,662.4 1259.4,658.7 1261.4,655.8 1263.4,653.2 1265.4,650.9 1267.4,648.8 1269.4,646.9 1271.4,645.3 1273.4,644.0 1275.4,642.9 1277.4,642.0 1279.4,640.9 1281.4,639.6 1283.4,637.9 1285.4,635.3 1287.4,632.2 1289.4,628.6 1291.4,624.9 1293.4,621.2 1295.4,617.4 1297.4,613.1 1299.4,608.8 1301.4,604.4 1303.4,600.3 1305.4,596.4 1307.4,592.4 1309.4,588.4 1311.4,584.7 1313.4,581.6 1315.4,579.3 1317.4,577.5 1319.4,576.4 1321.4,576.8 1323.4,578.6 1325.4,581.2 1327.4,583.9 1329.4,587.0 1331.4,590.9 1333.4,595.2 1335.4,598.9 1337.4,601.2 1339.4,603.0 1341.4,604.6 1343.4,605.9 1345.4,606.8 1347.4,607.2 1349.4,606.8 1351.4,605.1 1353.4,602.5 1355.4,599.4 1357.4,596.3 1359.4,592.5 1361.4,587.8 1363.4,582.9 1365.4,578.3 1367.4,574.1 1369.4,569.9 1371.4,565.8 1373.4,562.0 1375.4,558.7 1377.4,556.3 1379.4,554.2 1381.4,552.2 1383.4,550.5 1385.4,549.2 1387.4,548.5 1389.4,548.3 1391.4,548.2 1393.4,548.1 1395.4,548.0 1397.4,547.9 1399.4,547.9 1401.4,547.8 1402.2,547.7 1402.2,631.7 1401.4,631.8 1399.4,631.9 1397.4,631.9 1395.4,631.9 1393.4,632.0 1391.4,632.0 1389.4,632.1 1387.4,632.2 1385.4,632.9 1383.4,634.1 1381.4,635.8 1379.4,637.7 1377.4,639.7 1375.4,642.1 1373.4,645.3 1371.4,649.1 1369.4,653.2 1367.4,657.3 1365.4,661.4 1363.4,666.0 1361.4,670.9 1359.4,675.5 1357.4,679.3 1355.4,682.3 1353.4,685.3 1351.4,687.9 1349.4,689.5 1347.4,689.9 1345.4,689.5 1343.4,688.5 1341.4,687.1 1339.4,685.5 1337.4,683.7 1335.4,681.3 1333.4,677.5 1331.4,673.2 1329.4,669.2 1327.4,666.1 1325.4,663.3 1323.4,660.7 1321.4,658.8 1319.4,658.3 1317.4,659.1 1315.4,660.5 1313.4,662.4 1311.4,665.2 1309.4,668.5 1307.4,672.2 1305.4,675.9 1303.4,679.5 1301.4,683.3 1299.4,687.3 1297.4,691.3 1295.4,695.1 1293.4,698.7 1291.4,702.0 1289.4,705.4 1287.4,708.6 1285.4,711.4 1283.4,713.6 1281.4,715.0 1279.4,716.0 1277.4,716.7 1275.4,717.3 1273.4,718.0 1271.4,719.0 1269.4,720.2 1267.4,721.8 1265.4,723.5 1263.4,725.5 1261.4,727.8 1259.4,730.4 1257.4,733.7 1255.4,737.6 1253.4,741.9 1251.4,746.1 1249.4,750.2 1247.4,754.3 1245.4,758.4 1243.4,762.5 1241.4,766.5 1239.4,770.4 1237.4,774.2 1235.4,777.9 1233.4,781.4 1231.4,784.8 1229.4,788.3 1227.4,791.8 1225.4,795.4 1223.4,799.2 1221.4,803.0 1219.4,807.0 1217.4,811.1 1215.4,815.2 1213.4,819.3 1211.4,823.4 1209.4,827.5 1207.4,831.7 1205.4,836.2 1203.4,840.7 1201.4,845.2 1199.4,849.4 1197.4,853.1 1195.4,856.2 1193.4,858.7 1191.4,861.1 1189.4,863.4 1187.4,865.5 1185.4,867.3 1183.4,868.7 1181.4,869.8 1179.4,870.3 1177.4,870.8 1175.4,871.2 1173.4,871.5 1171.4,871.8 1169.4,872.1 1167.4,872.2 1165.4,872.3 1163.4,872.4 1161.4,872.2 1159.4,871.6 1157.4,870.9 1155.4,870.0 1153.4,869.0 1151.4,868.0 1149.4,866.7 1147.4,864.6 1145.4,862.1 1143.4,859.5 1141.4,857.2 1139.4,855.6 1137.4,854.9 1135.4,855.1 1133.4,855.4 1131.4,855.7 1129.4,856.8 1127.4,858.7 1125.4,861.0 1123.4,863.5 1121.4,866.9 1119.4,870.9 1117.4,875.1 1115.4,879.2 1113.4,882.7 1111.4,886.0 1109.4,889.5 1107.4,892.7 1105.4,895.3 1103.4,897.0 1101.4,897.3 1099.4,896.2 1097.4,894.2 1095.4,892.0 1093.4,889.1 1091.4,885.4 1089.4,881.4 1087.4,877.5 1085.4,874.0 1083.4,870.8 1081.4,867.4 1079.4,864.2 1077.4,861.0 1075.4,858.1 1073.4,855.4 1071.4,853.1 1069.4,851.3 1067.4,850.0 1065.4,848.8 1063.4,847.8 1061.4,846.8 1059.4,845.7 1057.4,844.5 1055.4,843.2 1053.4,841.8 1051.4,840.3 1049.4,838.5 1047.4,836.2 1045.4,833.3 1043.4,829.8 1041.4,825.8 1039.4,821.5 1037.4,817.1 1035.4,812.6 1033.4,808.2 1031.4,803.7 1029.4,798.9 1027.4,794.1 1025.4,789.1 1023.4,784.0 1021.4,778.8 1019.4,773.6 1017.4,768.4 1015.4,763.0 1013.4,757.5 1011.4,751.9 1009.4,746.3 1007.4,740.7 1005.4,735.0 1003.4,728.9 1001.4,722.5 999.4,716.0 997.4,709.7 995.4,703.8 993.4,698.6 991.4,694.3 989.4,690.6 987.4,687.0 985.4,683.6 983.4,680.6 981.4,678.3 979.4,676.6 977.4,675.6 975.4,674.9 973.4,674.2 971.4,673.7 969.4,673.2 967.4,672.9 965.4,673.5 963.4,675.2 961.4,677.7 959.4,680.6 957.4,683.8 955.4,686.7 953.4,689.1 951.4,691.0 949.4,693.1 947.4,695.1 945.4,696.9 943.4,698.3 941.4,699.0 939.4,698.9 937.4,698.6 935.4,697.9 933.4,697.1 931.4,696.3 929.4,695.4 927.4,694.7 925.4,693.9 923.4,693.1 921.4,692.2 919.4,691.3 917.4,690.6 915.4,690.0 913.4,689.7 911.4,689.6 909.4,689.6 907.4,689.7 905.4,689.9 903.4,690.0 901.4,690.1 899.4,690.3 897.4,690.5 895.4,690.5 893.4,690.1 891.4,689.5 889.4,688.7 887.4,687.7 885.4,686.1 883.4,684.3 881.4,682.2 879.4,680.3 877.4,678.6 875.4,677.2 873.4,675.6 871.4,674.0 869.4,672.7 867.4,671.7 865.4,671.4 863.4,671.6 861.4,671.9 859.4,672.2 857.4,672.6 855.4,672.9 853.4,673.2 851.4,673.5 849.4,673.3 847.4,672.1 845.4,670.6 843.4,668.9 841.4,667.1 839.4,664.7 837.4,661.4 835.4,657.3 833.4,652.9 831.4,648.1 829.4,642.3 827.4,637.0 825.4,632.6 823.4,628.5 821.4,625.7 819.4,625.3 817.4,626.8 815.4,628.9 813.4,632.1 811.4,637.8 809.4,645.3 807.4,656.6 805.4,670.4 803.4,686.0 801.4,702.9 799.4,719.4 797.4,738.6 795.4,761.6 793.4,783.5 791.4,804.5 789.4,823.4 787.4,842.5 785.4,860.5 783.4,872.7 781.4,882.4 779.4,891.5 777.4,898.1 775.4,897.4 773.4,894.5 771.4,889.5 769.4,881.8 767.4,867.8 765.4,852.1 763.4,834.7 761.4,819.7 759.4,804.8 757.4,785.0 755.4,762.6 753.4,736.1 751.4,716.8 749.4,702.4 747.4,685.3 745.4,665.9 743.4,646.5 741.4,628.1 739.4,615.1 737.4,606.0 735.4,599.1 733.4,593.8 731.4,590.1 729.4,587.2 727.4,585.6 725.4,584.9 723.4,584.5 721.4,584.3 719.4,584.7 717.4,585.6 715.4,586.5 713.4,587.6 711.4,588.9 709.4,590.0 707.4,591.2 705.4,592.3 703.4,593.3 701.4,594.2 699.4,595.1 697.4,595.7 695.4,596.3 693.4,596.9 691.4,597.5 689.4,598.3 687.4,599.2 685.4,600.2 683.4,601.3 681.4,602.5 679.4,603.6 677.4,604.7 675.4,605.9 673.4,607.1 671.4,608.2 669.4,609.4 667.4,610.7 665.4,612.1Z" fill="#fac8c8" fill-opacity="0.5" stroke="#f2a0a0" stroke-opacity="0.45" stroke-width="1"/>
<path d="M665.4,611.5 667.4,611.5 669.4,611.5 671.4,611.5 673.4,611.4 675.4,611.4 677.4,611.4 679.4,611.3 681.4,611.3 683.4,611.3 685.4,611.2 687.4,611.2 689.4,611.2 691.4,611.1 693.4,610.7 695.4,610.1 697.4,609.3 699.4,608.4 701.4,607.3 703.4,605.6 705.4,603.4 707.4,601.0 709.4,598.7 711.4,596.6 713.4,594.4 715.4,592.1 717.4,590.0 719.4,588.3 721.4,586.9 723.4,585.5 725.4,584.6 727.4,584.8 729.4,586.8 731.4,589.8 733.4,593.4 735.4,598.7 737.4,605.6 739.4,613.8 741.4,624.5 743.4,637.0 745.4,650.5 747.4,665.8 749.4,681.2 751.4,696.7 753.4,713.5 755.4,731.8 757.4,750.7 759.4,768.8 761.4,782.0 763.4,794.8 765.4,812.9 767.4,829.2 769.4,842.8 771.4,851.4 773.4,857.3 775.4,861.0 777.4,863.4 779.4,863.3 781.4,860.1 783.4,854.3 785.4,845.6 787.4,835.2 789.4,823.0 791.4,808.3 793.4,792.8 795.4,779.6 797.4,765.5 799.4,744.7 801.4,721.5 803.4,699.5 805.4,688.3 807.4,681.1 809.4,673.9 811.4,663.7 813.4,652.2 815.4,641.9 817.4,634.0 819.4,627.3 821.4,623.1 823.4,620.0 825.4,617.9 827.4,617.3 829.4,617.4 831.4,617.6 833.4,617.9 835.4,618.3 837.4,618.7 839.4,619.4 841.4,620.2 843.4,621.1 845.4,621.7 847.4,621.8 849.4,621.7 851.4,621.5 853.4,621.3 855.4,621.0 857.4,620.7 859.4,620.1 861.4,619.2 863.4,618.3 865.4,617.4 867.4,616.7 869.4,616.1 871.4,615.5 873.4,615.1 875.4,614.7 877.4,614.6 879.4,614.6 881.4,614.8 883.4,615.1 885.4,615.5 887.4,615.9 889.4,616.3 891.4,616.6 893.4,616.9 895.4,617.2 897.4,617.3 899.4,617.3 901.4,617.2 903.4,617.1 905.4,617.0 907.4,616.9 909.4,616.8 911.4,616.7 913.4,616.6 915.4,616.4 917.4,616.3 919.4,616.1 921.4,615.8 923.4,615.6 925.4,615.3 927.4,615.0 929.4,614.6 931.4,614.3 933.4,613.9 935.4,613.6 937.4,613.3 939.4,613.0 941.4,612.7 943.4,612.3 945.4,612.0 947.4,611.7 949.4,611.4 951.4,611.2 953.4,611.2 955.4,611.4 957.4,612.0 959.4,612.7 961.4,613.6 963.4,614.6 965.4,615.5 967.4,616.4 969.4,617.2 971.4,618.0 973.4,618.9 975.4,619.8 977.4,620.7 979.4,621.7 981.4,622.7 983.4,623.8 985.4,625.0 987.4,626.1 989.4,627.1 991.4,627.9 993.4,628.5 995.4,629.1 997.4,629.6 999.4,630.1 1001.4,630.4 1003.4,630.7 1005.4,630.9 1007.4,631.1 1009.4,631.4 1011.4,631.7 1013.4,632.2 1015.4,633.0 1017.4,633.9 1019.4,635.0 1021.4,636.2 1023.4,637.6 1025.4,639.3 1027.4,641.1 1029.4,643.1 1031.4,645.2 1033.4,647.5 1035.4,649.9 1037.4,652.4 1039.4,654.9 1041.4,657.4 1043.4,659.9 1045.4,662.4 1047.4,665.0 1049.4,667.5 1051.4,670.1 1053.4,672.7 1055.4,675.2 1057.4,677.7 1059.4,680.2 1061.4,682.5 1063.4,684.8 1065.4,687.0 1067.4,689.2 1069.4,691.4 1071.4,693.6 1073.4,695.8 1075.4,698.0 1077.4,700.3 1079.4,702.6 1081.4,704.9 1083.4,707.3 1085.4,709.7 1087.4,712.0 1089.4,714.3 1091.4,716.6 1093.4,718.8 1095.4,721.0 1097.4,723.2 1099.4,725.4 1101.4,727.6 1103.4,729.9 1105.4,732.1 1107.4,734.2 1109.4,736.2 1111.4,738.3 1113.4,740.3 1115.4,742.3 1117.4,744.2 1119.4,746.1 1121.4,747.8 1123.4,749.3 1125.4,750.7 1127.4,752.0 1129.4,753.2 1131.4,754.3 1133.4,755.3 1135.4,755.9 1137.4,756.5 1139.4,756.9 1141.4,757.1 1143.4,756.9 1145.4,756.3 1147.4,755.5 1149.4,754.6 1151.4,753.5 1153.4,752.6 1155.4,751.7 1157.4,750.8 1159.4,749.7 1161.4,748.7 1163.4,747.7 1165.4,746.8 1167.4,746.1 1169.4,745.8 1171.4,745.6 1173.4,745.5 1175.4,745.4 1177.4,745.4 1179.4,745.3 1181.4,745.2 1183.4,745.0 1185.4,744.8 1187.4,744.5 1189.4,744.1 1191.4,743.7 1193.4,743.1 1195.4,742.4 1197.4,741.7 1199.4,740.8 1201.4,739.2 1203.4,737.0 1205.4,734.5 1207.4,731.8 1209.4,729.2 1211.4,726.8 1213.4,724.8 1215.4,723.0 1217.4,721.1 1219.4,719.3 1221.4,717.7 1223.4,716.2 1225.4,715.1 1227.4,714.3 1229.4,713.7 1231.4,713.3 1233.4,712.9 1235.4,712.6 1237.4,712.3 1239.4,712.0 1241.4,711.8 1243.4,711.6 1245.4,711.4 1247.4,711.3 1249.4,711.2 1251.4,711.1 1253.4,711.0 1255.4,710.8 1257.4,710.5 1259.4,709.7 1261.4,708.5 1263.4,706.9 1265.4,705.1 1267.4,703.1 1269.4,701.3 1271.4,699.5 1273.4,697.8 1275.4,696.1 1277.4,694.3 1279.4,692.5 1281.4,690.7 1283.4,689.0 1285.4,687.3 1287.4,685.7 1289.4,684.0 1291.4,682.3 1293.4,680.7 1295.4,679.1 1297.4,677.7 1299.4,676.5 1301.4,675.6 1303.4,674.9 1305.4,674.4 1307.4,673.9 1309.4,673.4 1311.4,672.9 1313.4,672.3 1315.4,671.6 1317.4,670.8 1319.4,669.9 1321.4,668.8 1323.4,667.7 1325.4,666.6 1327.4,665.3 1329.4,664.1 1331.4,662.7 1333.4,661.1 1335.4,659.5 1337.4,657.7 1339.4,656.0 1341.4,654.4 1343.4,652.9 1345.4,651.6 1347.4,650.2 1349.4,648.9 1351.4,647.6 1353.4,646.4 1355.4,645.4 1357.4,644.7 1359.4,644.3 1361.4,643.9 1363.4,643.5 1365.4,643.2 1367.4,643.0 1369.4,642.9 1371.4,643.1 1373.4,643.6 1375.4,644.4 1377.4,645.3 1379.4,646.3 1381.4,647.3 1383.4,648.3 1385.4,649.1 1387.4,650.0 1389.4,650.8 1391.4,651.7 1393.4,652.5 1395.4,653.4 1397.4,654.2 1399.4,655.1 1401.4,655.9 1402.2,656.2 1402.2,682.2 1401.4,681.9 1399.4,681.1 1397.4,680.3 1395.4,679.6 1393.4,678.8 1391.4,678.1 1389.4,677.3 1387.4,676.6 1385.4,675.8 1383.4,675.1 1381.4,674.2 1379.4,673.3 1377.4,672.4 1375.4,671.6 1373.4,670.9 1371.4,670.5 1369.4,670.5 1367.4,670.6 1365.4,670.9 1363.4,671.3 1361.4,671.8 1359.4,672.4 1357.4,673.2 1355.4,674.2 1353.4,675.5 1351.4,677.0 1349.4,678.6 1347.4,680.3 1345.4,682.0 1343.4,683.7 1341.4,685.5 1339.4,687.5 1337.4,689.5 1335.4,691.6 1333.4,693.6 1331.4,695.5 1329.4,697.2 1327.4,698.8 1325.4,700.3 1323.4,701.8 1321.4,703.3 1319.4,704.6 1317.4,705.9 1315.4,707.1 1313.4,708.1 1311.4,709.0 1309.4,709.9 1307.4,710.7 1305.4,711.5 1303.4,712.4 1301.4,713.4 1299.4,714.5 1297.4,715.7 1295.4,717.1 1293.4,718.7 1291.4,720.3 1289.4,722.0 1287.4,723.7 1285.4,725.3 1283.4,727.0 1281.4,728.7 1279.4,730.5 1277.4,732.3 1275.4,734.1 1273.4,735.8 1271.4,737.5 1269.4,739.3 1267.4,741.1 1265.4,743.1 1263.4,744.9 1261.4,746.5 1259.4,747.7 1257.4,748.5 1255.4,748.8 1253.4,749.0 1251.4,749.1 1249.4,749.2 1247.4,749.3 1245.4,749.4 1243.4,749.6 1241.4,749.8 1239.4,750.0 1237.4,750.3 1235.4,750.6 1233.4,750.9 1231.4,751.3 1229.4,751.7 1227.4,752.3 1225.4,753.1 1223.4,754.2 1221.4,755.7 1219.4,757.3 1217.4,759.1 1215.4,761.0 1213.4,762.8 1211.4,764.8 1209.4,767.2 1207.4,769.8 1205.4,772.5 1203.4,775.0 1201.4,777.2 1199.4,778.8 1197.4,779.7 1195.4,780.4 1193.4,781.1 1191.4,781.7 1189.4,782.1 1187.4,782.5 1185.4,782.8 1183.4,783.0 1181.4,783.2 1179.4,783.3 1177.4,783.4 1175.4,783.4 1173.4,783.5 1171.4,783.6 1169.4,783.8 1167.4,784.1 1165.4,784.8 1163.4,785.7 1161.4,786.7 1159.4,787.7 1157.4,788.8 1155.4,789.7 1153.4,790.6 1151.4,791.5 1149.4,792.6 1147.4,793.5 1145.4,794.3 1143.4,794.9 1141.4,795.1 1139.4,794.9 1137.4,794.5 1135.4,793.9 1133.4,793.3 1131.4,792.3 1129.4,791.2 1127.4,790.0 1125.4,788.7 1123.4,787.3 1121.4,785.8 1119.4,784.1 1117.4,782.2 1115.4,780.3 1113.4,778.3 1111.4,776.3 1109.4,774.2 1107.4,772.2 1105.4,770.1 1103.4,767.9 1101.4,765.6 1099.4,763.3 1097.4,760.7 1095.4,758.1 1093.4,755.5 1091.4,752.8 1089.4,750.2 1087.4,747.5 1085.4,744.7 1083.4,741.9 1081.4,739.2 1079.4,736.4 1077.4,733.8 1075.4,731.1 1073.4,728.5 1071.4,725.9 1069.4,723.3 1067.4,720.7 1065.4,718.1 1063.4,715.4 1061.4,712.8 1059.4,710.1 1057.4,707.4 1055.4,704.7 1053.4,701.9 1051.4,699.1 1049.4,696.3 1047.4,693.5 1045.4,690.7 1043.4,688.0 1041.4,685.2 1039.4,682.5 1037.4,679.8 1035.4,677.0 1033.4,674.4 1031.4,671.8 1029.4,669.5 1027.4,667.3 1025.4,665.2 1023.4,663.3 1021.4,661.7 1019.4,660.2 1017.4,658.9 1015.4,657.8 1013.4,656.8 1011.4,656.0 1009.4,655.5 1007.4,655.0 1005.4,654.6 1003.4,654.1 1001.4,653.6 999.4,653.1 997.4,652.5 995.4,652.0 993.4,651.4 991.4,650.7 989.4,649.9 987.4,648.8 985.4,647.6 983.4,646.4 981.4,645.2 979.4,644.1 977.4,643.1 975.4,642.2 973.4,641.2 971.4,640.3 969.4,639.4 967.4,638.6 965.4,637.6 963.4,636.6 961.4,635.6 959.4,634.7 957.4,633.9 955.4,633.3 953.4,633.0 951.4,633.0 949.4,633.1 947.4,633.4 945.4,633.6 943.4,633.9 941.4,634.2 939.4,634.5 937.4,634.7 935.4,635.0 933.4,635.3 931.4,635.6 929.4,635.9 927.4,636.1 925.4,636.4 923.4,636.7 921.4,636.9 919.4,637.1 917.4,637.2 915.4,637.3 913.4,637.4 911.4,637.5 909.4,637.6 907.4,637.6 905.4,637.7 903.4,637.7 901.4,637.7 899.4,637.7 897.4,637.7 895.4,637.5 893.4,637.3 891.4,636.9 889.4,636.5 887.4,636.0 885.4,635.6 883.4,635.2 881.4,634.8 879.4,634.6 877.4,634.4 875.4,634.5 873.4,634.7 871.4,635.1 869.4,635.6 867.4,636.1 865.4,636.7 863.4,637.5 861.4,638.3 859.4,639.1 857.4,639.6 855.4,639.8 853.4,640.0 851.4,640.1 849.4,640.2 847.4,640.2 845.4,640.0 843.4,639.3 841.4,638.3 839.4,637.3 837.4,636.6 835.4,636.1 833.4,635.6 831.4,635.2 829.4,634.9 827.4,634.7 825.4,635.1 823.4,637.2 821.4,640.1 819.4,644.2 817.4,650.8 815.4,658.7 813.4,668.9 811.4,680.3 809.4,690.4 807.4,697.5 805.4,704.6 803.4,715.7 801.4,737.6 799.4,760.7 797.4,781.4 795.4,795.4 793.4,808.6 791.4,824.1 789.4,838.7 787.4,850.8 785.4,861.2 783.4,869.8 781.4,875.5 779.4,878.7 777.4,878.7 775.4,876.2 773.4,872.5 771.4,866.5 769.4,857.8 767.4,844.2 765.4,827.9 763.4,809.7 761.4,796.9 759.4,783.5 757.4,765.4 755.4,746.4 753.4,728.1 751.4,711.3 749.4,695.7 747.4,680.2 745.4,664.8 743.4,651.3 741.4,638.8 739.4,627.9 737.4,619.7 735.4,612.8 733.4,607.3 731.4,603.7 729.4,600.6 727.4,598.6 725.4,598.4 723.4,599.2 721.4,600.5 719.4,601.8 717.4,603.5 715.4,605.6 713.4,607.7 711.4,609.9 709.4,612.0 707.4,614.2 705.4,616.5 703.4,618.6 701.4,620.3 699.4,621.3 697.4,622.2 695.4,622.9 693.4,623.5 691.4,623.8 689.4,623.8 687.4,623.8 685.4,623.8 683.4,623.7 681.4,623.7 679.4,623.7 677.4,623.6 675.4,623.6 673.4,623.6 671.4,623.5 669.4,623.5 667.4,623.5 665.4,623.5Z" fill="#c8cdeb" fill-opacity="0.5" stroke="#a3abe0" stroke-opacity="0.45" stroke-width="1"/>
<path transform="scale(1,1.16)" d="M665.4,522.86 666.4,521.97 667.4,521.08 668.4,520.20 669.4,519.31 670.4,518.39 671.4,517.40 672.4,516.38 673.4,515.35 674.4,514.32 675.4,513.33 676.4,512.40 677.4,511.54 678.4,510.80 679.4,510.17 680.4,509.70 681.4,509.26 682.4,508.83 683.4,508.43 684.4,508.07 685.4,507.75 686.4,507.48 687.4,507.29 688.4,507.18 689.4,507.17 690.4,507.36 691.4,507.76 692.4,508.34 693.4,509.07 694.4,509.89 695.4,510.79 696.4,511.73 697.4,512.67 698.4,513.57 699.4,514.41 700.4,515.14 701.4,515.84 702.4,516.55 703.4,517.26 704.4,517.98 705.4,518.68 706.4,519.37 707.4,520.05 708.4,520.71 709.4,521.35 710.4,521.96 711.4,522.52 712.4,523.03 713.4,523.52 714.4,523.99 715.4,524.45 716.4,524.93 717.4,525.43 718.4,525.97 719.4,526.56 720.4,527.22 721.4,527.94 722.4,528.70 723.4,529.53 724.4,530.43 725.4,531.42 726.4,532.52 727.4,533.72 728.4,535.05 729.4,536.66 730.4,538.59 731.4,540.81 732.4,543.27 733.4,545.95 734.4,548.79 735.4,551.96 736.4,555.57 737.4,559.57 738.4,563.86 739.4,568.37 740.4,573.02 741.4,578.02 742.4,583.49 743.4,589.24 744.4,595.06 745.4,600.78 746.4,606.19 747.4,611.51 748.4,617.08 749.4,623.28 750.4,630.85 751.4,638.66 752.4,646.10 753.4,653.55 754.4,660.73 755.4,667.37 756.4,673.19 757.4,677.84 758.4,681.44 759.4,685.02 760.4,689.66 761.4,697.50 762.4,707.47 763.4,715.71 764.4,720.48 765.4,724.41 766.4,727.74 767.4,730.59 768.4,733.09 769.4,735.41 770.4,737.78 771.4,740.09 772.4,742.13 773.4,743.72 774.4,744.66 775.4,744.64 776.4,742.75 777.4,739.38 778.4,735.19 779.4,730.85 780.4,726.03 781.4,720.25 782.4,714.57 783.4,708.80 784.4,702.94 785.4,697.18 786.4,691.72 787.4,686.69 788.4,681.96 789.4,677.45 790.4,673.08 791.4,668.75 792.4,664.40 793.4,659.94 794.4,655.49 795.4,651.26 796.4,647.11 797.4,642.93 798.4,638.59 799.4,633.96 800.4,628.92 801.4,623.35 802.4,616.76 803.4,608.49 804.4,599.37 805.4,590.28 806.4,582.13 807.4,575.32 808.4,568.89 809.4,562.82 810.4,557.13 811.4,551.88 812.4,547.11 813.4,542.77 814.4,538.56 815.4,534.58 816.4,530.96 817.4,527.82 818.4,525.29 819.4,523.39 820.4,521.67 821.4,520.10 822.4,518.66 823.4,517.37 824.4,516.22 825.4,515.21 826.4,514.35 827.4,513.63 828.4,513.06 829.4,512.51 830.4,512.00 831.4,511.51 832.4,511.06 833.4,510.67 834.4,510.34 835.4,510.09 836.4,509.91 837.4,509.83 838.4,509.86 839.4,510.02 840.4,510.30 841.4,510.68 842.4,511.14 843.4,511.68 844.4,512.27 845.4,512.91 846.4,513.58 847.4,514.26 848.4,514.93 849.4,515.67 850.4,516.55 851.4,517.55 852.4,518.65 853.4,519.82 854.4,521.03 855.4,522.27 856.4,523.50 857.4,524.70 858.4,525.85 859.4,526.95 860.4,528.08 861.4,529.22 862.4,530.38 863.4,531.53 864.4,532.65 865.4,533.73 866.4,534.75 867.4,535.70 868.4,536.56 869.4,537.37 870.4,538.20 871.4,539.02 872.4,539.82 873.4,540.57 874.4,541.24 875.4,541.81 876.4,542.26 877.4,542.57 878.4,542.72 879.4,542.83 880.4,542.93 881.4,543.02 882.4,543.10 883.4,543.16 884.4,543.22 885.4,543.25 886.4,543.27 887.4,543.27 888.4,543.22 889.4,543.10 890.4,542.94 891.4,542.73 892.4,542.49 893.4,542.23 894.4,541.95 895.4,541.67 896.4,541.40 897.4,541.14 898.4,540.90 899.4,540.67 900.4,540.43 901.4,540.19 902.4,539.94 903.4,539.69 904.4,539.44 905.4,539.18 906.4,538.92 907.4,538.66 908.4,538.39 909.4,538.13 910.4,537.87 911.4,537.60 912.4,537.34 913.4,537.08 914.4,536.82 915.4,536.57 916.4,536.32 917.4,536.06 918.4,535.78 919.4,535.49 920.4,535.19 921.4,534.87 922.4,534.55 923.4,534.23 924.4,533.90 925.4,533.58 926.4,533.26 927.4,532.95 928.4,532.66 929.4,532.37 930.4,532.10 931.4,531.86 932.4,531.63 933.4,531.44 934.4,531.27 935.4,531.13 936.4,531.03 937.4,530.97 938.4,530.95 939.4,530.96 940.4,530.99 941.4,531.05 942.4,531.11 943.4,531.20 944.4,531.29 945.4,531.39 946.4,531.50 947.4,531.61 948.4,531.72 949.4,531.83 950.4,531.93 951.4,532.03 952.4,532.12 953.4,532.19 954.4,532.27 955.4,532.35 956.4,532.44 957.4,532.53 958.4,532.61 959.4,532.70 960.4,532.78 961.4,532.85 962.4,532.92 963.4,532.98 964.4,533.03 965.4,533.07 966.4,533.09 967.4,533.10 968.4,533.02 969.4,532.76 970.4,532.34 971.4,531.78 972.4,531.09 973.4,530.30 974.4,529.42 975.4,528.49 976.4,527.51 977.4,526.50 978.4,525.50 979.4,524.51 980.4,523.55 981.4,522.65 982.4,521.82 983.4,520.94 984.4,520.00 985.4,519.02 986.4,518.05 987.4,517.10 988.4,516.22 989.4,515.44 990.4,514.80 991.4,514.30 992.4,513.83 993.4,513.37 994.4,512.94 995.4,512.54 996.4,512.18 997.4,511.89 998.4,511.66 999.4,511.52 1000.4,511.47 1001.4,511.52 1002.4,511.67 1003.4,511.91 1004.4,512.22 1005.4,512.60 1006.4,513.03 1007.4,513.50 1008.4,514.01 1009.4,514.54 1010.4,515.08 1011.4,515.77 1012.4,516.62 1013.4,517.61 1014.4,518.71 1015.4,519.90 1016.4,521.15 1017.4,522.43 1018.4,523.72 1019.4,525.00 1020.4,526.34 1021.4,527.77 1022.4,529.26 1023.4,530.81 1024.4,532.41 1025.4,534.04 1026.4,535.69 1027.4,537.36 1028.4,539.03 1029.4,540.78 1030.4,542.59 1031.4,544.46 1032.4,546.36 1033.4,548.28 1034.4,550.21 1035.4,552.12 1036.4,554.01 1037.4,555.85 1038.4,557.64 1039.4,559.36 1040.4,560.99 1041.4,562.58 1042.4,564.16 1043.4,565.70 1044.4,567.23 1045.4,568.73 1046.4,570.21 1047.4,571.68 1048.4,573.12 1049.4,574.55 1050.4,575.96 1051.4,577.35 1052.4,578.72 1053.4,580.08 1054.4,581.43 1055.4,582.76 1056.4,584.08 1057.4,585.39 1058.4,586.69 1059.4,587.98 1060.4,589.25 1061.4,590.51 1062.4,591.75 1063.4,592.98 1064.4,594.19 1065.4,595.38 1066.4,596.56 1067.4,597.73 1068.4,598.89 1069.4,600.05 1070.4,601.19 1071.4,602.32 1072.4,603.45 1073.4,604.58 1074.4,605.70 1075.4,606.82 1076.4,607.94 1077.4,609.05 1078.4,610.17 1079.4,611.29 1080.4,612.41 1081.4,613.52 1082.4,614.62 1083.4,615.71 1084.4,616.79 1085.4,617.88 1086.4,618.96 1087.4,620.04 1088.4,621.11 1089.4,622.20 1090.4,623.28 1091.4,624.37 1092.4,625.48 1093.4,626.58 1094.4,627.70 1095.4,628.82 1096.4,629.93 1097.4,631.05 1098.4,632.16 1099.4,633.26 1100.4,634.36 1101.4,635.44 1102.4,636.52 1103.4,637.57 1104.4,638.61 1105.4,639.64 1106.4,640.63 1107.4,641.61 1108.4,642.57 1109.4,643.52 1110.4,644.48 1111.4,645.43 1112.4,646.37 1113.4,647.31 1114.4,648.24 1115.4,649.15 1116.4,650.05 1117.4,650.93 1118.4,651.80 1119.4,652.64 1120.4,653.45 1121.4,654.24 1122.4,655.00 1123.4,655.73 1124.4,656.43 1125.4,657.09 1126.4,657.72 1127.4,658.32 1128.4,658.90 1129.4,659.45 1130.4,659.99 1131.4,660.51 1132.4,661.01 1133.4,661.50 1134.4,661.99 1135.4,662.46 1136.4,662.93 1137.4,663.40 1138.4,663.86 1139.4,664.33 1140.4,664.80 1141.4,665.27 1142.4,665.74 1143.4,666.19 1144.4,666.62 1145.4,667.03 1146.4,667.42 1147.4,667.78 1148.4,668.11 1149.4,668.42 1150.4,668.73 1151.4,669.02 1152.4,669.30 1153.4,669.57 1154.4,669.82 1155.4,670.06 1156.4,670.29 1157.4,670.51 1158.4,670.71 1159.4,670.91 1160.4,671.12 1161.4,671.33 1162.4,671.54 1163.4,671.75 1164.4,671.94 1165.4,672.13 1166.4,672.31 1167.4,672.47 1168.4,672.61 1169.4,672.73 1170.4,672.83 1171.4,672.89 1172.4,672.93 1173.4,672.92 1174.4,672.82 1175.4,672.64 1176.4,672.38 1177.4,672.07 1178.4,671.72 1179.4,671.34 1180.4,670.96 1181.4,670.57 1182.4,670.20 1183.4,669.87 1184.4,669.58 1185.4,669.35 1186.4,669.20 1187.4,669.14 1188.4,669.14 1189.4,669.16 1190.4,669.19 1191.4,669.24 1192.4,669.29 1193.4,669.36 1194.4,669.43 1195.4,669.52 1196.4,669.61 1197.4,669.72 1198.4,669.83 1199.4,670.03 1200.4,670.38 1201.4,670.87 1202.4,671.45 1203.4,672.11 1204.4,672.82 1205.4,673.54 1206.4,674.26 1207.4,674.95 1208.4,675.58 1209.4,676.12 1210.4,676.61 1211.4,677.10 1212.4,677.59 1213.4,678.07 1214.4,678.53 1215.4,678.98 1216.4,679.41 1217.4,679.81 1218.4,680.17 1219.4,680.51 1220.4,680.80 1221.4,681.09 1222.4,681.37 1223.4,681.66 1224.4,681.93 1225.4,682.19 1226.4,682.42 1227.4,682.63 1228.4,682.80 1229.4,682.92 1230.4,683.00 1231.4,683.02 1232.4,683.00 1233.4,682.95 1234.4,682.88 1235.4,682.79 1236.4,682.68 1237.4,682.54 1238.4,682.39 1239.4,682.22 1240.4,682.03 1241.4,681.82 1242.4,681.61 1243.4,681.37 1244.4,681.13 1245.4,680.88 1246.4,680.60 1247.4,680.19 1248.4,679.68 1249.4,679.06 1250.4,678.36 1251.4,677.60 1252.4,676.78 1253.4,675.92 1254.4,675.04 1255.4,674.15 1256.4,673.28 1257.4,672.41 1258.4,671.50 1259.4,670.55 1260.4,669.55 1261.4,668.52 1262.4,667.45 1263.4,666.34 1264.4,665.19 1265.4,664.02 1266.4,662.82 1267.4,661.58 1268.4,660.30 1269.4,658.93 1270.4,657.48 1271.4,655.95 1272.4,654.37 1273.4,652.75 1274.4,651.11 1275.4,649.45 1276.4,647.79 1277.4,646.15 1278.4,644.54 1279.4,642.97 1280.4,641.46 1281.4,640.02 1282.4,638.66 1283.4,637.34 1284.4,636.03 1285.4,634.72 1286.4,633.43 1287.4,632.15 1288.4,630.90 1289.4,629.68 1290.4,628.49 1291.4,627.34 1292.4,626.24 1293.4,625.18 1294.4,624.19 1295.4,623.26 1296.4,622.39 1297.4,621.59 1298.4,620.85 1299.4,620.15 1300.4,619.49 1301.4,618.87 1302.4,618.27 1303.4,617.70 1304.4,617.14 1305.4,616.59 1306.4,616.05 1307.4,615.50 1308.4,614.95 1309.4,614.38 1310.4,613.80 1311.4,613.19 1312.4,612.57 1313.4,611.95 1314.4,611.34 1315.4,610.73 1316.4,610.12 1317.4,609.51 1318.4,608.89 1319.4,608.26 1320.4,607.63 1321.4,606.98 1322.4,606.32 1323.4,605.64 1324.4,604.95 1325.4,604.23 1326.4,603.49 1327.4,602.69 1328.4,601.84 1329.4,600.96 1330.4,600.04 1331.4,599.12 1332.4,598.20 1333.4,597.29 1334.4,596.42 1335.4,595.59 1336.4,594.82 1337.4,594.12 1338.4,593.38 1339.4,592.61 1340.4,591.83 1341.4,591.07 1342.4,590.35 1343.4,589.68 1344.4,589.11 1345.4,588.64 1346.4,588.31 1347.4,588.13 1348.4,588.11 1349.4,588.13 1350.4,588.19 1351.4,588.26 1352.4,588.35 1353.4,588.46 1354.4,588.58 1355.4,588.71 1356.4,588.85 1357.4,588.99 1358.4,589.13 1359.4,589.27 1360.4,589.40 1361.4,589.53 1362.4,589.64 1363.4,589.76 1364.4,589.88 1365.4,590.01 1366.4,590.15 1367.4,590.29 1368.4,590.43 1369.4,590.57 1370.4,590.70 1371.4,590.83 1372.4,590.94 1373.4,591.03 1374.4,591.11 1375.4,591.17 1376.4,591.20 1377.4,591.21 1378.4,591.19 1379.4,591.17 1380.4,591.13 1381.4,591.08 1382.4,591.03 1383.4,590.97 1384.4,590.91 1385.4,590.84 1386.4,590.78 1387.4,590.73 1388.4,590.68 1389.4,590.64 1390.4,590.62 1391.4,590.60 1392.4,590.65 1393.4,590.86 1394.4,591.19 1395.4,591.60 1396.4,592.04 1397.4,592.46 1398.4,592.82 1399.4,593.16 1400.4,593.49 1401.4,593.82 1402.2,594.08" fill="none" stroke="#0e863e" stroke-width="5.1" stroke-linejoin="round" stroke-linecap="butt"/>
<path transform="scale(1,1.16)" d="M665.4,515.56 666.4,514.99 667.4,514.42 668.4,513.85 669.4,513.28 670.4,512.70 671.4,512.12 672.4,511.54 673.4,510.96 674.4,510.38 675.4,509.80 676.4,509.22 677.4,508.65 678.4,508.09 679.4,507.54 680.4,506.99 681.4,506.45 682.4,505.90 683.4,505.35 684.4,504.81 685.4,504.28 686.4,503.76 687.4,503.25 688.4,502.78 689.4,502.32 690.4,501.90 691.4,501.52 692.4,501.16 693.4,500.83 694.4,500.51 695.4,500.20 696.4,499.88 697.4,499.56 698.4,499.22 699.4,498.85 700.4,498.45 701.4,498.02 702.4,497.55 703.4,497.07 704.4,496.56 705.4,496.04 706.4,495.50 707.4,494.95 708.4,494.40 709.4,493.85 710.4,493.31 711.4,492.73 712.4,492.11 713.4,491.49 714.4,490.90 715.4,490.36 716.4,489.91 717.4,489.45 718.4,488.99 719.4,488.59 720.4,488.31 721.4,488.19 722.4,488.22 723.4,488.33 724.4,488.50 725.4,488.73 726.4,489.00 727.4,489.31 728.4,489.83 729.4,490.70 730.4,491.85 731.4,493.22 732.4,494.75 733.4,496.38 734.4,498.41 735.4,500.95 736.4,503.83 737.4,506.91 738.4,510.28 739.4,514.13 740.4,518.65 741.4,524.52 742.4,531.91 743.4,539.49 744.4,547.48 745.4,555.39 746.4,563.36 747.4,571.21 748.4,578.61 749.4,585.09 750.4,590.79 751.4,596.60 752.4,603.45 753.4,612.66 754.4,623.87 755.4,634.95 756.4,644.56 757.4,653.78 758.4,662.44 759.4,670.27 760.4,676.93 761.4,682.64 762.4,688.40 763.4,695.05 764.4,702.26 765.4,709.50 766.4,716.19 767.4,722.51 768.4,728.75 769.4,734.06 770.4,737.63 771.4,740.19 772.4,742.31 773.4,743.98 774.4,745.17 775.4,746.05 776.4,746.74 777.4,746.97 778.4,745.20 779.4,741.58 780.4,737.60 781.4,733.98 782.4,730.12 783.4,725.87 784.4,721.10 785.4,715.63 786.4,708.60 787.4,700.40 788.4,692.04 789.4,684.25 790.4,676.48 791.4,668.19 792.4,659.43 793.4,650.36 794.4,641.15 795.4,631.77 796.4,621.91 797.4,612.23 798.4,603.45 799.4,595.94 800.4,589.00 801.4,581.88 802.4,574.61 803.4,567.41 804.4,560.49 805.4,554.05 806.4,548.08 807.4,542.23 808.4,536.90 809.4,532.53 810.4,529.20 811.4,526.20 812.4,523.56 813.4,521.39 814.4,519.78 815.4,518.70 816.4,517.75 817.4,516.91 818.4,516.24 819.4,515.76 820.4,515.53 821.4,515.68 822.4,516.38 823.4,517.53 824.4,518.96 825.4,520.55 826.4,522.15 827.4,523.73 828.4,525.63 829.4,527.76 830.4,529.98 831.4,532.13 832.4,534.07 833.4,535.71 834.4,537.33 835.4,538.92 836.4,540.44 837.4,541.86 838.4,543.13 839.4,544.20 840.4,545.03 841.4,545.62 842.4,546.15 843.4,546.66 844.4,547.13 845.4,547.55 846.4,547.93 847.4,548.25 848.4,548.50 849.4,548.68 850.4,548.78 851.4,548.79 852.4,548.77 853.4,548.73 854.4,548.67 855.4,548.59 856.4,548.51 857.4,548.42 858.4,548.33 859.4,548.23 860.4,548.15 861.4,548.07 862.4,548.01 863.4,547.96 864.4,547.94 865.4,547.94 866.4,548.09 867.4,548.38 868.4,548.80 869.4,549.33 870.4,549.94 871.4,550.62 872.4,551.35 873.4,552.10 874.4,552.87 875.4,553.62 876.4,554.35 877.4,555.03 878.4,555.78 879.4,556.60 880.4,557.49 881.4,558.41 882.4,559.35 883.4,560.28 884.4,561.18 885.4,562.04 886.4,562.82 887.4,563.50 888.4,564.08 889.4,564.52 890.4,564.93 891.4,565.32 892.4,565.70 893.4,566.03 894.4,566.30 895.4,566.50 896.4,566.62 897.4,566.64 898.4,566.61 899.4,566.57 900.4,566.50 901.4,566.43 902.4,566.33 903.4,566.24 904.4,566.13 905.4,566.02 906.4,565.92 907.4,565.82 908.4,565.73 909.4,565.65 910.4,565.59 911.4,565.54 912.4,565.52 913.4,565.53 914.4,565.60 915.4,565.73 916.4,565.91 917.4,566.14 918.4,566.40 919.4,566.69 920.4,567.01 921.4,567.34 922.4,567.67 923.4,568.01 924.4,568.34 925.4,568.66 926.4,568.96 927.4,569.22 928.4,569.49 929.4,569.79 930.4,570.11 931.4,570.44 932.4,570.77 933.4,571.10 934.4,571.40 935.4,571.69 936.4,571.94 937.4,572.14 938.4,572.30 939.4,572.39 940.4,572.41 941.4,572.27 942.4,571.94 943.4,571.45 944.4,570.82 945.4,570.08 946.4,569.24 947.4,568.32 948.4,567.36 949.4,566.37 950.4,565.38 951.4,564.40 952.4,563.46 953.4,562.56 954.4,561.50 955.4,560.29 956.4,558.96 957.4,557.56 958.4,556.12 959.4,554.67 960.4,553.25 961.4,551.90 962.4,550.66 963.4,549.55 964.4,548.62 965.4,547.90 966.4,547.43 967.4,547.24 968.4,547.25 969.4,547.30 970.4,547.37 971.4,547.47 972.4,547.59 973.4,547.74 974.4,547.91 975.4,548.10 976.4,548.31 977.4,548.53 978.4,548.77 979.4,549.09 980.4,549.60 981.4,550.28 982.4,551.11 983.4,552.08 984.4,553.17 985.4,554.37 986.4,555.66 987.4,557.02 988.4,558.44 989.4,559.89 990.4,561.38 991.4,562.87 992.4,564.46 993.4,566.28 994.4,568.31 995.4,570.51 996.4,572.86 997.4,575.33 998.4,577.90 999.4,580.53 1000.4,583.20 1001.4,585.89 1002.4,588.55 1003.4,591.18 1004.4,593.72 1005.4,596.18 1006.4,598.51 1007.4,600.82 1008.4,603.13 1009.4,605.43 1010.4,607.72 1011.4,610.00 1012.4,612.28 1013.4,614.54 1014.4,616.78 1015.4,619.01 1016.4,621.21 1017.4,623.40 1018.4,625.56 1019.4,627.70 1020.4,629.81 1021.4,631.91 1022.4,634.01 1023.4,636.09 1024.4,638.17 1025.4,640.23 1026.4,642.27 1027.4,644.29 1028.4,646.28 1029.4,648.24 1030.4,650.17 1031.4,652.07 1032.4,653.92 1033.4,655.74 1034.4,657.50 1035.4,659.27 1036.4,661.07 1037.4,662.87 1038.4,664.67 1039.4,666.45 1040.4,668.19 1041.4,669.88 1042.4,671.51 1043.4,673.05 1044.4,674.49 1045.4,675.82 1046.4,677.02 1047.4,678.07 1048.4,678.98 1049.4,679.81 1050.4,680.58 1051.4,681.30 1052.4,681.97 1053.4,682.60 1054.4,683.19 1055.4,683.77 1056.4,684.33 1057.4,684.88 1058.4,685.44 1059.4,685.98 1060.4,686.48 1061.4,686.94 1062.4,687.37 1063.4,687.79 1064.4,688.22 1065.4,688.65 1066.4,689.12 1067.4,689.63 1068.4,690.19 1069.4,690.81 1070.4,691.53 1071.4,692.36 1072.4,693.29 1073.4,694.31 1074.4,695.42 1075.4,696.60 1076.4,697.84 1077.4,699.14 1078.4,700.48 1079.4,701.86 1080.4,703.27 1081.4,704.69 1082.4,706.12 1083.4,707.55 1084.4,708.97 1085.4,710.36 1086.4,711.78 1087.4,713.33 1088.4,714.99 1089.4,716.71 1090.4,718.44 1091.4,720.15 1092.4,721.79 1093.4,723.32 1094.4,724.70 1095.4,725.87 1096.4,726.83 1097.4,727.77 1098.4,728.69 1099.4,729.52 1100.4,730.20 1101.4,730.67 1102.4,730.86 1103.4,730.74 1104.4,730.32 1105.4,729.66 1106.4,728.78 1107.4,727.74 1108.4,726.57 1109.4,725.30 1110.4,723.99 1111.4,722.68 1112.4,721.39 1113.4,720.17 1114.4,718.91 1115.4,717.48 1116.4,715.92 1117.4,714.29 1118.4,712.63 1119.4,710.97 1120.4,709.37 1121.4,707.87 1122.4,706.51 1123.4,705.34 1124.4,704.40 1125.4,703.54 1126.4,702.69 1127.4,701.88 1128.4,701.17 1129.4,700.59 1130.4,700.19 1131.4,700.01 1132.4,700.01 1133.4,700.03 1134.4,700.08 1135.4,700.14 1136.4,700.21 1137.4,700.31 1138.4,700.65 1139.4,701.24 1140.4,702.05 1141.4,703.03 1142.4,704.15 1143.4,705.36 1144.4,706.64 1145.4,707.93 1146.4,709.21 1147.4,710.44 1148.4,711.57 1149.4,712.57 1150.4,713.39 1151.4,714.03 1152.4,714.64 1153.4,715.25 1154.4,715.85 1155.4,716.45 1156.4,717.02 1157.4,717.57 1158.4,718.08 1159.4,718.55 1160.4,718.97 1161.4,719.34 1162.4,719.64 1163.4,719.87 1164.4,720.02 1165.4,720.08 1166.4,720.08 1167.4,720.06 1168.4,720.02 1169.4,719.96 1170.4,719.89 1171.4,719.80 1172.4,719.71 1173.4,719.59 1174.4,719.47 1175.4,719.33 1176.4,719.18 1177.4,719.02 1178.4,718.86 1179.4,718.68 1180.4,718.49 1181.4,718.23 1182.4,717.86 1183.4,717.39 1184.4,716.83 1185.4,716.18 1186.4,715.46 1187.4,714.68 1188.4,713.83 1189.4,712.93 1190.4,711.99 1191.4,711.01 1192.4,710.00 1193.4,708.96 1194.4,707.92 1195.4,706.84 1196.4,705.59 1197.4,704.20 1198.4,702.67 1199.4,701.02 1200.4,699.27 1201.4,697.45 1202.4,695.57 1203.4,693.64 1204.4,691.70 1205.4,689.75 1206.4,687.82 1207.4,685.93 1208.4,684.09 1209.4,682.33 1210.4,680.60 1211.4,678.86 1212.4,677.11 1213.4,675.36 1214.4,673.61 1215.4,671.86 1216.4,670.11 1217.4,668.36 1218.4,666.63 1219.4,664.91 1220.4,663.21 1221.4,661.52 1222.4,659.85 1223.4,658.21 1224.4,656.60 1225.4,655.02 1226.4,653.48 1227.4,651.96 1228.4,650.46 1229.4,648.98 1230.4,647.51 1231.4,646.04 1232.4,644.57 1233.4,643.09 1234.4,641.60 1235.4,640.10 1236.4,638.57 1237.4,637.01 1238.4,635.42 1239.4,633.79 1240.4,632.13 1241.4,630.45 1242.4,628.74 1243.4,627.01 1244.4,625.27 1245.4,623.53 1246.4,621.78 1247.4,620.03 1248.4,618.28 1249.4,616.55 1250.4,614.79 1251.4,612.94 1252.4,611.04 1253.4,609.12 1254.4,607.20 1255.4,605.32 1256.4,603.50 1257.4,601.79 1258.4,600.19 1259.4,598.75 1260.4,597.50 1261.4,596.38 1262.4,595.30 1263.4,594.29 1264.4,593.32 1265.4,592.41 1266.4,591.55 1267.4,590.74 1268.4,589.99 1269.4,589.29 1270.4,588.64 1271.4,588.05 1272.4,587.52 1273.4,587.07 1274.4,586.67 1275.4,586.31 1276.4,585.97 1277.4,585.63 1278.4,585.27 1279.4,584.87 1280.4,584.42 1281.4,583.90 1282.4,583.30 1283.4,582.53 1284.4,581.59 1285.4,580.49 1286.4,579.25 1287.4,577.91 1288.4,576.49 1289.4,575.00 1290.4,573.48 1291.4,571.95 1292.4,570.42 1293.4,568.93 1294.4,567.37 1295.4,565.73 1296.4,564.02 1297.4,562.25 1298.4,560.45 1299.4,558.64 1300.4,556.83 1301.4,555.04 1302.4,553.30 1303.4,551.63 1304.4,550.03 1305.4,548.41 1306.4,546.75 1307.4,545.07 1308.4,543.40 1309.4,541.76 1310.4,540.20 1311.4,538.73 1312.4,537.40 1313.4,536.22 1314.4,535.22 1315.4,534.43 1316.4,533.69 1317.4,533.01 1318.4,532.47 1319.4,532.18 1320.4,532.22 1321.4,532.60 1322.4,533.27 1323.4,534.17 1324.4,535.23 1325.4,536.40 1326.4,537.62 1327.4,538.82 1328.4,540.00 1329.4,541.44 1330.4,543.11 1331.4,544.91 1332.4,546.76 1333.4,548.59 1334.4,550.29 1335.4,551.79 1336.4,552.99 1337.4,553.85 1338.4,554.62 1339.4,555.37 1340.4,556.09 1341.4,556.76 1342.4,557.38 1343.4,557.92 1344.4,558.37 1345.4,558.74 1346.4,558.99 1347.4,559.12 1348.4,559.09 1349.4,558.76 1350.4,558.15 1351.4,557.30 1352.4,556.25 1353.4,555.07 1354.4,553.79 1355.4,552.46 1356.4,551.12 1357.4,549.81 1358.4,548.28 1359.4,546.52 1360.4,544.59 1361.4,542.54 1362.4,540.44 1363.4,538.34 1364.4,536.29 1365.4,534.36 1366.4,532.58 1367.4,530.81 1368.4,529.01 1369.4,527.20 1370.4,525.40 1371.4,523.65 1372.4,521.97 1373.4,520.38 1374.4,518.92 1375.4,517.60 1376.4,516.46 1377.4,515.51 1378.4,514.60 1379.4,513.72 1380.4,512.86 1381.4,512.05 1382.4,511.29 1383.4,510.61 1384.4,510.02 1385.4,509.54 1386.4,509.17 1387.4,508.95 1388.4,508.85 1389.4,508.80 1390.4,508.76 1391.4,508.72 1392.4,508.69 1393.4,508.66 1394.4,508.64 1395.4,508.61 1396.4,508.59 1397.4,508.56 1398.4,508.53 1399.4,508.49 1400.4,508.46 1401.4,508.43 1402.2,508.40" fill="none" stroke="#ed1c24" stroke-width="5.1" stroke-linejoin="round" stroke-linecap="butt"/>
<path transform="scale(1,1.16)" d="M665.4,532.33 666.4,532.33 667.4,532.33 668.4,532.33 669.4,532.33 670.4,532.33 671.4,532.33 672.4,532.33 673.4,532.33 674.4,532.33 675.4,532.33 676.4,532.33 677.4,532.33 678.4,532.33 679.4,532.33 680.4,532.33 681.4,532.33 682.4,532.33 683.4,532.33 684.4,532.33 685.4,532.33 686.4,532.33 687.4,532.33 688.4,532.33 689.4,532.33 690.4,532.33 691.4,532.28 692.4,532.16 693.4,531.98 694.4,531.75 695.4,531.47 696.4,531.16 697.4,530.81 698.4,530.44 699.4,530.06 700.4,529.66 701.4,529.14 702.4,528.47 703.4,527.68 704.4,526.79 705.4,525.83 706.4,524.83 707.4,523.81 708.4,522.81 709.4,521.84 710.4,520.95 711.4,520.05 712.4,519.12 713.4,518.16 714.4,517.20 715.4,516.25 716.4,515.34 717.4,514.47 718.4,513.67 719.4,512.96 720.4,512.36 721.4,511.77 722.4,511.19 723.4,510.65 724.4,510.21 725.4,509.92 726.4,509.83 727.4,510.11 728.4,510.80 729.4,511.81 730.4,513.04 731.4,514.43 732.4,515.86 733.4,517.54 734.4,519.67 735.4,522.19 736.4,525.03 737.4,528.15 738.4,531.47 739.4,535.23 740.4,539.62 741.4,544.52 742.4,549.80 743.4,555.32 744.4,560.95 745.4,566.94 746.4,573.43 747.4,580.17 748.4,586.90 749.4,593.49 750.4,600.12 751.4,606.89 752.4,613.93 753.4,621.41 754.4,629.25 755.4,637.15 756.4,645.18 757.4,653.50 758.4,661.63 759.4,669.09 760.4,675.38 761.4,680.56 762.4,685.62 763.4,691.62 764.4,699.13 765.4,707.24 766.4,714.81 767.4,721.30 768.4,727.52 769.4,733.02 770.4,737.24 771.4,740.45 772.4,743.24 773.4,745.59 774.4,747.43 775.4,748.77 776.4,749.96 777.4,750.88 778.4,751.29 779.4,750.89 780.4,749.71 781.4,748.10 782.4,746.14 783.4,743.15 784.4,739.52 785.4,735.69 786.4,731.44 787.4,726.73 788.4,721.64 789.4,716.26 790.4,710.23 791.4,703.62 792.4,696.82 793.4,690.28 794.4,684.37 795.4,678.87 796.4,673.18 797.4,666.74 798.4,658.70 799.4,648.86 800.4,638.87 801.4,628.93 802.4,618.68 803.4,610.02 804.4,604.46 805.4,600.41 806.4,597.14 807.4,594.25 808.4,591.35 809.4,588.03 810.4,583.98 811.4,579.33 812.4,574.38 813.4,569.41 814.4,564.71 815.4,560.57 816.4,557.10 817.4,553.78 818.4,550.72 819.4,548.06 820.4,545.98 821.4,544.49 822.4,543.11 823.4,541.87 824.4,540.83 825.4,540.08 826.4,539.69 827.4,539.66 828.4,539.70 829.4,539.78 830.4,539.88 831.4,540.01 832.4,540.16 833.4,540.32 834.4,540.50 835.4,540.68 836.4,540.86 837.4,541.05 838.4,541.33 839.4,541.67 840.4,542.06 841.4,542.48 842.4,542.88 843.4,543.26 844.4,543.58 845.4,543.82 846.4,543.95 847.4,543.96 848.4,543.95 849.4,543.91 850.4,543.86 851.4,543.80 852.4,543.73 853.4,543.64 854.4,543.55 855.4,543.45 856.4,543.34 857.4,543.22 858.4,543.03 859.4,542.75 860.4,542.42 861.4,542.05 862.4,541.66 863.4,541.26 864.4,540.88 865.4,540.53 866.4,540.23 867.4,540.00 868.4,539.76 869.4,539.53 870.4,539.30 871.4,539.08 872.4,538.87 873.4,538.70 874.4,538.55 875.4,538.44 876.4,538.38 877.4,538.36 878.4,538.39 879.4,538.45 880.4,538.53 881.4,538.64 882.4,538.77 883.4,538.92 884.4,539.08 885.4,539.25 886.4,539.43 887.4,539.61 888.4,539.79 889.4,539.97 890.4,540.15 891.4,540.32 892.4,540.47 893.4,540.61 894.4,540.73 895.4,540.82 896.4,540.90 897.4,540.94 898.4,540.95 899.4,540.94 900.4,540.94 901.4,540.92 902.4,540.90 903.4,540.88 904.4,540.86 905.4,540.83 906.4,540.80 907.4,540.76 908.4,540.72 909.4,540.68 910.4,540.64 911.4,540.59 912.4,540.55 913.4,540.50 914.4,540.45 915.4,540.40 916.4,540.35 917.4,540.29 918.4,540.23 919.4,540.15 920.4,540.07 921.4,539.97 922.4,539.87 923.4,539.76 924.4,539.64 925.4,539.52 926.4,539.39 927.4,539.27 928.4,539.13 929.4,539.00 930.4,538.86 931.4,538.73 932.4,538.59 933.4,538.46 934.4,538.33 935.4,538.20 936.4,538.08 937.4,537.96 938.4,537.84 939.4,537.73 940.4,537.60 941.4,537.47 942.4,537.32 943.4,537.18 944.4,537.04 945.4,536.90 946.4,536.77 947.4,536.65 948.4,536.54 949.4,536.45 950.4,536.38 951.4,536.32 952.4,536.30 953.4,536.30 954.4,536.38 955.4,536.53 956.4,536.74 957.4,537.01 958.4,537.32 959.4,537.67 960.4,538.05 961.4,538.46 962.4,538.88 963.4,539.30 964.4,539.73 965.4,540.14 966.4,540.54 967.4,540.91 968.4,541.27 969.4,541.63 970.4,542.00 971.4,542.38 972.4,542.76 973.4,543.15 974.4,543.54 975.4,543.94 976.4,544.35 977.4,544.76 978.4,545.18 979.4,545.61 980.4,546.04 981.4,546.50 982.4,547.00 983.4,547.51 984.4,548.04 985.4,548.56 986.4,549.07 987.4,549.56 988.4,550.02 989.4,550.43 990.4,550.80 991.4,551.11 992.4,551.41 993.4,551.68 994.4,551.95 995.4,552.19 996.4,552.43 997.4,552.65 998.4,552.86 999.4,553.07 1000.4,553.27 1001.4,553.47 1002.4,553.65 1003.4,553.81 1004.4,553.95 1005.4,554.09 1006.4,554.22 1007.4,554.36 1008.4,554.51 1009.4,554.67 1010.4,554.85 1011.4,555.06 1012.4,555.30 1013.4,555.60 1014.4,555.95 1015.4,556.34 1016.4,556.78 1017.4,557.25 1018.4,557.75 1019.4,558.28 1020.4,558.83 1021.4,559.40 1022.4,560.04 1023.4,560.74 1024.4,561.49 1025.4,562.29 1026.4,563.12 1027.4,563.98 1028.4,564.87 1029.4,565.77 1030.4,566.69 1031.4,567.67 1032.4,568.69 1033.4,569.75 1034.4,570.85 1035.4,571.96 1036.4,573.09 1037.4,574.23 1038.4,575.36 1039.4,576.49 1040.4,577.60 1041.4,578.71 1042.4,579.83 1043.4,580.97 1044.4,582.11 1045.4,583.25 1046.4,584.40 1047.4,585.56 1048.4,586.71 1049.4,587.87 1050.4,589.03 1051.4,590.18 1052.4,591.34 1053.4,592.49 1054.4,593.63 1055.4,594.77 1056.4,595.90 1057.4,597.03 1058.4,598.14 1059.4,599.24 1060.4,600.33 1061.4,601.41 1062.4,602.48 1063.4,603.54 1064.4,604.60 1065.4,605.65 1066.4,606.69 1067.4,607.73 1068.4,608.76 1069.4,609.80 1070.4,610.83 1071.4,611.87 1072.4,612.90 1073.4,613.94 1074.4,614.98 1075.4,616.02 1076.4,617.07 1077.4,618.12 1078.4,619.19 1079.4,620.26 1080.4,621.34 1081.4,622.44 1082.4,623.55 1083.4,624.66 1084.4,625.78 1085.4,626.89 1086.4,628.00 1087.4,629.10 1088.4,630.19 1089.4,631.26 1090.4,632.32 1091.4,633.37 1092.4,634.42 1093.4,635.47 1094.4,636.51 1095.4,637.56 1096.4,638.59 1097.4,639.62 1098.4,640.65 1099.4,641.66 1100.4,642.67 1101.4,643.66 1102.4,644.64 1103.4,645.60 1104.4,646.55 1105.4,647.49 1106.4,648.41 1107.4,649.30 1108.4,650.19 1109.4,651.07 1110.4,651.96 1111.4,652.84 1112.4,653.72 1113.4,654.60 1114.4,655.46 1115.4,656.31 1116.4,657.14 1117.4,657.96 1118.4,658.76 1119.4,659.53 1120.4,660.28 1121.4,661.01 1122.4,661.70 1123.4,662.36 1124.4,662.98 1125.4,663.56 1126.4,664.12 1127.4,664.68 1128.4,665.21 1129.4,665.73 1130.4,666.22 1131.4,666.68 1132.4,667.09 1133.4,667.46 1134.4,667.77 1135.4,668.03 1136.4,668.28 1137.4,668.52 1138.4,668.73 1139.4,668.90 1140.4,669.01 1141.4,669.05 1142.4,669.01 1143.4,668.87 1144.4,668.66 1145.4,668.39 1146.4,668.06 1147.4,667.69 1148.4,667.29 1149.4,666.86 1150.4,666.42 1151.4,665.98 1152.4,665.55 1153.4,665.14 1154.4,664.76 1155.4,664.40 1156.4,664.01 1157.4,663.59 1158.4,663.14 1159.4,662.69 1160.4,662.23 1161.4,661.77 1162.4,661.33 1163.4,660.91 1164.4,660.51 1165.4,660.16 1166.4,659.86 1167.4,659.60 1168.4,659.42 1169.4,659.30 1170.4,659.23 1171.4,659.16 1172.4,659.11 1173.4,659.06 1174.4,659.02 1175.4,658.99 1176.4,658.96 1177.4,658.93 1178.4,658.90 1179.4,658.86 1180.4,658.82 1181.4,658.77 1182.4,658.72 1183.4,658.65 1184.4,658.57 1185.4,658.47 1186.4,658.35 1187.4,658.21 1188.4,658.05 1189.4,657.88 1190.4,657.68 1191.4,657.47 1192.4,657.23 1193.4,656.98 1194.4,656.71 1195.4,656.41 1196.4,656.10 1197.4,655.78 1198.4,655.43 1199.4,654.99 1200.4,654.37 1201.4,653.62 1202.4,652.74 1203.4,651.76 1204.4,650.71 1205.4,649.59 1206.4,648.44 1207.4,647.28 1208.4,646.13 1209.4,645.01 1210.4,643.94 1211.4,642.94 1212.4,642.04 1213.4,641.24 1214.4,640.45 1215.4,639.65 1216.4,638.85 1217.4,638.05 1218.4,637.27 1219.4,636.50 1220.4,635.77 1221.4,635.07 1222.4,634.42 1223.4,633.82 1224.4,633.28 1225.4,632.81 1226.4,632.42 1227.4,632.12 1228.4,631.88 1229.4,631.66 1230.4,631.46 1231.4,631.27 1232.4,631.10 1233.4,630.94 1234.4,630.79 1235.4,630.65 1236.4,630.52 1237.4,630.40 1238.4,630.29 1239.4,630.18 1240.4,630.08 1241.4,629.99 1242.4,629.90 1243.4,629.82 1244.4,629.75 1245.4,629.69 1246.4,629.63 1247.4,629.59 1248.4,629.54 1249.4,629.50 1250.4,629.45 1251.4,629.40 1252.4,629.34 1253.4,629.28 1254.4,629.20 1255.4,629.11 1256.4,629.01 1257.4,628.87 1258.4,628.60 1259.4,628.22 1260.4,627.73 1261.4,627.15 1262.4,626.49 1263.4,625.77 1264.4,625.00 1265.4,624.20 1266.4,623.37 1267.4,622.54 1268.4,621.71 1269.4,620.91 1270.4,620.13 1271.4,619.41 1272.4,618.70 1273.4,617.97 1274.4,617.23 1275.4,616.47 1276.4,615.71 1277.4,614.93 1278.4,614.16 1279.4,613.38 1280.4,612.61 1281.4,611.84 1282.4,611.08 1283.4,610.34 1284.4,609.60 1285.4,608.89 1286.4,608.18 1287.4,607.47 1288.4,606.75 1289.4,606.03 1290.4,605.30 1291.4,604.58 1292.4,603.86 1293.4,603.17 1294.4,602.49 1295.4,601.83 1296.4,601.21 1297.4,600.61 1298.4,600.06 1299.4,599.55 1300.4,599.09 1301.4,598.68 1302.4,598.31 1303.4,597.96 1304.4,597.64 1305.4,597.34 1306.4,597.06 1307.4,596.78 1308.4,596.51 1309.4,596.24 1310.4,595.96 1311.4,595.67 1312.4,595.36 1313.4,595.03 1314.4,594.67 1315.4,594.28 1316.4,593.86 1317.4,593.41 1318.4,592.95 1319.4,592.46 1320.4,591.95 1321.4,591.43 1322.4,590.89 1323.4,590.33 1324.4,589.76 1325.4,589.18 1326.4,588.58 1327.4,587.98 1328.4,587.36 1329.4,586.74 1330.4,586.10 1331.4,585.41 1332.4,584.69 1333.4,583.93 1334.4,583.15 1335.4,582.34 1336.4,581.53 1337.4,580.71 1338.4,579.90 1339.4,579.09 1340.4,578.30 1341.4,577.53 1342.4,576.80 1343.4,576.10 1344.4,575.45 1345.4,574.81 1346.4,574.16 1347.4,573.50 1348.4,572.84 1349.4,572.19 1350.4,571.55 1351.4,570.94 1352.4,570.35 1353.4,569.79 1354.4,569.28 1355.4,568.81 1356.4,568.40 1357.4,568.05 1358.4,567.77 1359.4,567.54 1360.4,567.33 1361.4,567.12 1362.4,566.93 1363.4,566.75 1364.4,566.58 1365.4,566.44 1366.4,566.32 1367.4,566.22 1368.4,566.16 1369.4,566.12 1370.4,566.14 1371.4,566.22 1372.4,566.39 1373.4,566.61 1374.4,566.89 1375.4,567.21 1376.4,567.57 1377.4,567.96 1378.4,568.37 1379.4,568.80 1380.4,569.22 1381.4,569.64 1382.4,570.04 1383.4,570.43 1384.4,570.78 1385.4,571.11 1386.4,571.44 1387.4,571.78 1388.4,572.12 1389.4,572.47 1390.4,572.81 1391.4,573.16 1392.4,573.51 1393.4,573.85 1394.4,574.20 1395.4,574.55 1396.4,574.90 1397.4,575.24 1398.4,575.59 1399.4,575.93 1400.4,576.27 1401.4,576.62 1402.2,576.89" fill="none" stroke="#3a53a6" stroke-width="5.1" stroke-linejoin="round" stroke-linecap="butt"/>
</g>
<path d="M775.1,522.4 V928.8" stroke="#222" stroke-width="4.2"/>
<path d="M669.4,621.3 H1398.5" stroke="#000" stroke-width="3.8"/>
<text x="991.7" y="622.99" transform="scale(1,0.87)" font-size="40" letter-spacing="1.5" style="fill:#808080;stroke:#808080;stroke-width:0.5px">*****</text>
<text x="1001" y="643.91" transform="scale(1,0.87)" font-size="40.5" letter-spacing="1.3" style="fill:#000;stroke:#000;stroke-width:1px">*****</text>
</g>
<g id="head">
<path d="M1266.6,357.5 L1277.3,345.6 Q1283.4,339.8 1289.5,345.6 L1300.3,357.5" fill="#fff" stroke="#000" stroke-width="2.3" stroke-linejoin="round"/>
<path d="M1199.2,422.3 C1197.2,419.6 1195.5,418.8 1193.8,418.9 C1191.5,419 1190.2,421 1189.9,424.7 L1189.7,439.8 L1188.8,455 C1189,459 1191,463 1193.8,464 C1195.5,464.3 1197.5,463 1199.6,460.8" fill="#fff" stroke="#000" stroke-width="2.3" stroke-linecap="round"/>
<path d="M1367.8,422.3 C1369.8,419.6 1371.5,418.8 1373.2,418.9 C1375.5,419 1376.8,421 1377.1,424.7 L1377.3,439.8 L1378.2,455 C1378.0,459 1376.0,463 1373.2,464 C1371.5,464.3 1369.5,463 1367.4,460.8" fill="#fff" stroke="#000" stroke-width="2.3" stroke-linecap="round"/>
<circle cx="1283.5" cy="439.9" r="84.8" fill="#fff" stroke="#000" stroke-width="2.4"/>
<circle cx="1284.3" cy="364.5" r="3.95"/>
<circle cx="1284.3" cy="374.7" r="3.95"/>
<circle cx="1284.3" cy="385.6" r="3.95"/>
<circle cx="1284.3" cy="397.0" r="3.95"/>
<circle cx="1284.3" cy="407.5" r="3.95"/>
<circle cx="1284.3" cy="417.3" r="3.95"/>
<circle cx="1284.3" cy="439.0" r="3.95"/>
<circle cx="1284.3" cy="450.2" r="3.95"/>
<circle cx="1284.3" cy="461.1" r="3.95"/>
<circle cx="1284.3" cy="471.5" r="3.95"/>
<circle cx="1284.3" cy="482.3" r="3.95"/>
<circle cx="1284.3" cy="493.2" r="3.95"/>
<circle cx="1284.3" cy="503.8" r="3.95"/>
<circle cx="1284.3" cy="514.7" r="3.95"/>
<circle cx="1277.0" cy="431.1" r="3.95"/>
<circle cx="1289.6" cy="431.9" r="3.95"/>
<circle cx="1272.9" cy="442.9" r="3.95"/>
<circle cx="1294.2" cy="443.3" r="3.95"/>
<circle cx="1259.3" cy="366.9" r="3.95"/>
<circle cx="1308.5" cy="367.8" r="3.95"/>
<circle cx="1239.0" cy="378.5" r="3.95"/>
<circle cx="1263.6" cy="378.7" r="3.95"/>
<circle cx="1302.4" cy="376.9" r="3.95"/>
<circle cx="1329.0" cy="379.7" r="3.95"/>
<circle cx="1245.3" cy="388.1" r="3.95"/>
<circle cx="1262.0" cy="389.1" r="3.95"/>
<circle cx="1304.0" cy="391.1" r="3.95"/>
<circle cx="1322.1" cy="387.9" r="3.95"/>
<circle cx="1223.6" cy="394.4" r="3.95"/>
<circle cx="1347.8" cy="395.6" r="3.95"/>
<circle cx="1229.9" cy="402.5" r="3.95"/>
<circle cx="1243.5" cy="401.3" r="3.95"/>
<circle cx="1266.6" cy="399.4" r="3.95"/>
<circle cx="1299.5" cy="400.4" r="3.95"/>
<circle cx="1337.5" cy="403.3" r="3.95"/>
<circle cx="1253.8" cy="409.4" r="3.95"/>
<circle cx="1267.6" cy="411.8" r="3.95"/>
<circle cx="1300.1" cy="411.4" r="3.95"/>
<circle cx="1314.5" cy="409.8" r="3.95"/>
<circle cx="1210.8" cy="416.9" r="3.95"/>
<circle cx="1220.7" cy="420.7" r="3.95"/>
<circle cx="1232.7" cy="420.9" r="3.95"/>
<circle cx="1243.9" cy="423.8" r="3.95"/>
<circle cx="1254.2" cy="426.2" r="3.95"/>
<circle cx="1264.6" cy="429.1" r="3.95"/>
<circle cx="1300.1" cy="423.8" r="3.95"/>
<circle cx="1346.8" cy="420.9" r="3.95"/>
<circle cx="1356.4" cy="418.5" r="3.95"/>
<circle cx="1206.9" cy="440.0" r="3.95"/>
<circle cx="1216.3" cy="440.6" r="3.95"/>
<circle cx="1227.4" cy="439.8" r="3.95"/>
<circle cx="1237.6" cy="439.8" r="3.95"/>
<circle cx="1247.3" cy="439.0" r="3.95"/>
<circle cx="1259.1" cy="439.0" r="3.95"/>
<circle cx="1305.2" cy="440.0" r="3.95"/>
<circle cx="1317.4" cy="439.6" r="3.95"/>
<circle cx="1327.7" cy="439.8" r="3.95"/>
<circle cx="1338.9" cy="439.6" r="3.95"/>
<circle cx="1349.3" cy="439.8" r="3.95"/>
<circle cx="1360.8" cy="439.2" r="3.95"/>
<circle cx="1211.6" cy="462.8" r="3.95"/>
<circle cx="1221.8" cy="459.9" r="3.95"/>
<circle cx="1232.3" cy="459.1" r="3.95"/>
<circle cx="1242.9" cy="455.9" r="3.95"/>
<circle cx="1254.2" cy="456.3" r="3.95"/>
<circle cx="1267.6" cy="454.6" r="3.95"/>
<circle cx="1300.7" cy="455.7" r="3.95"/>
<circle cx="1312.3" cy="456.7" r="3.95"/>
<circle cx="1324.1" cy="458.3" r="3.95"/>
<circle cx="1335.2" cy="460.1" r="3.95"/>
<circle cx="1347.0" cy="461.5" r="3.95"/>
<circle cx="1356.4" cy="464.0" r="3.95"/>
<circle cx="1253.8" cy="470.3" r="3.95"/>
<circle cx="1314.5" cy="470.7" r="3.95"/>
<circle cx="1221.2" cy="484.1" r="3.95"/>
<circle cx="1229.5" cy="477.0" r="3.95"/>
<circle cx="1243.5" cy="477.4" r="3.95"/>
<circle cx="1267.6" cy="480.2" r="3.95"/>
<circle cx="1301.1" cy="480.2" r="3.95"/>
<circle cx="1322.7" cy="479.8" r="3.95"/>
<circle cx="1338.1" cy="477.2" r="3.95"/>
<circle cx="1344.8" cy="484.3" r="3.95"/>
<circle cx="1244.9" cy="491.8" r="3.95"/>
<circle cx="1264.0" cy="490.0" r="3.95"/>
<circle cx="1304.0" cy="489.6" r="3.95"/>
<circle cx="1323.7" cy="493.0" r="3.95"/>
<circle cx="1237.4" cy="499.7" r="3.95"/>
<circle cx="1262.6" cy="500.3" r="3.95"/>
<circle cx="1303.0" cy="502.1" r="3.95"/>
<circle cx="1329.6" cy="500.9" r="3.95"/>
<circle cx="1258.7" cy="511.3" r="3.95"/>
<circle cx="1306.6" cy="511.7" r="3.95"/>
<circle cx="1325.7" cy="406.9" r="5" fill="#e82127"/>
<circle cx="1312.3" cy="424.0" r="5" fill="#e82127"/>
<circle cx="1324.1" cy="423.0" r="5" fill="#e82127"/>
<circle cx="1335.2" cy="421.1" r="5" fill="#e82127"/>
</g>
<path d="M1361.4,814.1 V890.6 M1342.2,856 H1395.9" stroke="#000" stroke-width="3.6" fill="none"/>
<text x="1356" y="832.5" font-size="24" stroke="#000" stroke-width="0.5" text-anchor="end" transform="translate(1356,0) scale(0.72,1) translate(-1356,0)">1</text>
<text x="1358.4" y="890.6" font-size="24" stroke="#000" stroke-width="0.5" text-anchor="end" transform="translate(1358.4,0) scale(0.72,1) translate(-1358.4,0)">-4</text>
<text class="b" x="692.3" y="970.3" font-size="32" text-anchor="middle" textLength="44.2" lengthAdjust="spacingAndGlyphs">-50</text>
<text class="b" x="776.6" y="970.3" font-size="32" text-anchor="middle" textLength="17.0" lengthAdjust="spacingAndGlyphs">0</text>
<text class="b" x="908.2" y="970.3" font-size="32" text-anchor="middle" textLength="51.0" lengthAdjust="spacingAndGlyphs">100</text>
<text class="b" x="1057.4" y="970.3" font-size="32" text-anchor="middle" textLength="51.0" lengthAdjust="spacingAndGlyphs">200</text>
<text class="b" x="1215.3" y="970.3" font-size="32" text-anchor="middle" textLength="51.0" lengthAdjust="spacingAndGlyphs">300</text>
<text class="b" x="1364" y="970.3" font-size="32" text-anchor="middle" textLength="51.0" lengthAdjust="spacingAndGlyphs">400</text>
<text class="i" x="1039.5" y="1011.4" font-size="19.3">Time (ms)</text>
</svg></body></html>
